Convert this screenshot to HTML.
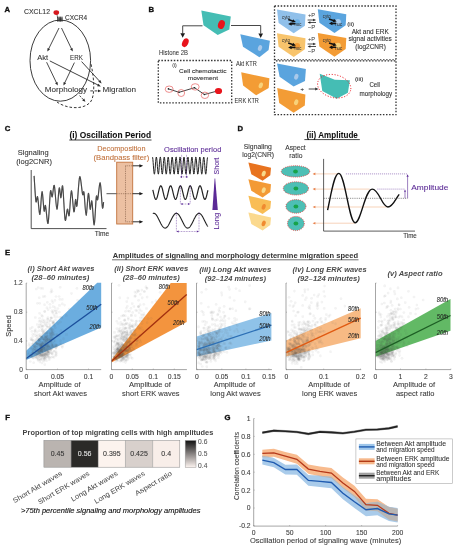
<!DOCTYPE html><html><head><meta charset="utf-8"><style>html,body{margin:0;padding:0;background:#fff;}svg{display:block;will-change:transform;}text{font-family:"Liberation Sans",sans-serif;}</style></head><body>
<svg width="457" height="550" viewBox="0 0 457 550">
<rect width="457" height="550" fill="#fff"/>
<defs><filter id="blr" x="-5%" y="-5%" width="110%" height="110%"><feGaussianBlur stdDeviation="0.7"/></filter></defs>
<text x="4.50" y="12.40" font-size="7.7" fill="#111" font-weight="bold" stroke="#111" stroke-width="0.35">A</text>
<text x="24.00" y="14.00" font-size="7.2" fill="#333" textLength="26.00" lengthAdjust="spacingAndGlyphs" stroke="#333" stroke-width="0.1">CXCL12</text>
<text x="65.00" y="19.80" font-size="7.2" fill="#333" textLength="22.00" lengthAdjust="spacingAndGlyphs" stroke="#333" stroke-width="0.1">CXCR4</text>
<ellipse cx="60.3" cy="60.6" rx="30.3" ry="40.6" fill="none" stroke="#333" stroke-width="0.95"/>
<line x1="56.80" y1="13.00" x2="57.60" y2="18.00" stroke="#333" stroke-width="0.6" />
<ellipse cx="56.3" cy="12.6" rx="2.8" ry="2.3" fill="#d7191f"/>
<line x1="57.80" y1="16.60" x2="57.80" y2="21.80" stroke="#111" stroke-width="0.75" />
<line x1="59.20" y1="16.60" x2="59.20" y2="21.80" stroke="#111" stroke-width="0.75" />
<line x1="60.60" y1="16.60" x2="60.60" y2="21.80" stroke="#111" stroke-width="0.75" />
<line x1="62.00" y1="16.60" x2="62.00" y2="21.80" stroke="#111" stroke-width="0.75" />
<line x1="57.20" y1="18.20" x2="62.60" y2="18.20" stroke="#111" stroke-width="0.6" />
<line x1="57.20" y1="20.00" x2="62.60" y2="20.00" stroke="#111" stroke-width="0.6" />
<text x="37.20" y="59.90" font-size="8" fill="#333" textLength="11.00" lengthAdjust="spacingAndGlyphs" stroke="#333" stroke-width="0.08">Akt</text>
<text x="70.00" y="59.90" font-size="8" fill="#333" textLength="12.80" lengthAdjust="spacingAndGlyphs" stroke="#333" stroke-width="0.08">ERK</text>
<text x="44.70" y="92.30" font-size="8" fill="#333" textLength="42.40" lengthAdjust="spacingAndGlyphs" stroke="#333" stroke-width="0.08">Morphology</text>
<text x="102.50" y="91.80" font-size="8" fill="#333" textLength="33.50" lengthAdjust="spacingAndGlyphs" stroke="#333" stroke-width="0.08">Migration</text>
<line x1="59.00" y1="28.00" x2="48.51" y2="49.16" stroke="#2a2a2a" stroke-width="0.85" />
<polygon points="47.30,51.60 47.56,47.93 50.06,49.18" fill="#2a2a2a" />
<line x1="61.50" y1="28.00" x2="71.63" y2="49.15" stroke="#2a2a2a" stroke-width="0.85" />
<polygon points="72.80,51.60 70.07,49.14 72.59,47.93" fill="#2a2a2a" />
<line x1="46.60" y1="62.20" x2="56.63" y2="83.15" stroke="#2a2a2a" stroke-width="0.85" />
<polygon points="57.80,85.60 55.07,83.14 57.59,81.93" fill="#2a2a2a" />
<line x1="74.40" y1="62.60" x2="64.57" y2="83.15" stroke="#2a2a2a" stroke-width="0.85" />
<polygon points="63.40,85.60 63.60,81.93 66.13,83.14" fill="#2a2a2a" />
<line x1="49.80" y1="60.90" x2="98.37" y2="85.18" stroke="#2a2a2a" stroke-width="0.9" />
<polygon points="100.80,86.40 97.13,86.13 98.39,83.63" fill="#2a2a2a" />
<line x1="81.60" y1="61.60" x2="99.76" y2="81.40" stroke="#2a2a2a" stroke-width="0.9" />
<polygon points="101.60,83.40 98.27,81.84 100.33,79.95" fill="#2a2a2a" />
<path d="M 57 102 C 66 108.5, 83 110.5, 90.5 102 C 95 96, 94.5 80, 91 64" fill="none" stroke="#2a2a2a" stroke-width="0.95" stroke-dasharray="2.6,1.9"/>
<line x1="90.30" y1="90.90" x2="98.64" y2="90.90" stroke="#2a2a2a" stroke-width="0.9" stroke-dasharray="2.8,1.5"/>
<polygon points="101.20,90.90 98.00,92.30 98.00,89.50" fill="#2a2a2a" />
<line x1="79.60" y1="95.60" x2="83.65" y2="99.93" stroke="#2a2a2a" stroke-width="0.85" stroke-dasharray="2.2,1.2"/>
<polygon points="85.40,101.80 82.19,100.42 84.24,98.51" fill="#2a2a2a" />
<text x="148.50" y="12.20" font-size="7.7" fill="#111" font-weight="bold" stroke="#111" stroke-width="0.35">B</text>
<polygon points="201.30,10.50 230.80,16.40 229.30,29.50 217.70,35.00 203.50,25.20" fill="#45bdb4" />
<ellipse cx="221.4" cy="24.5" rx="3.3" ry="4.6" fill="#e8141c" transform="rotate(20 221.4 24.5)"/>
<polyline points="202.50,25.80 182.70,25.80 182.70,33.50" fill="none" stroke="#333" stroke-width="0.9" />
<polygon points="182.70,37.80 180.40,33.20 185.00,33.20" fill="#1a1a1a" />
<polyline points="231.00,25.50 260.70,25.50 260.70,33.50" fill="none" stroke="#333" stroke-width="0.9" />
<polygon points="260.70,38.00 258.40,33.40 263.00,33.40" fill="#1a1a1a" />
<ellipse cx="185.3" cy="42.7" rx="3" ry="4.6" fill="#e8141c" transform="rotate(25 185.3 42.7)"/>
<text x="159.00" y="54.60" font-size="6.4" fill="#333" textLength="29.00" lengthAdjust="spacingAndGlyphs" stroke="#333" stroke-width="0.04">Histone 2B</text>
<polygon points="240.30,34.30 269.90,40.80 268.60,50.00 259.40,57.20 243.00,46.70" fill="#5aa4de" />
<ellipse cx="260" cy="48" rx="2" ry="3" fill="#a9c9ea" transform="rotate(20 260 48)"/>
<text x="235.90" y="65.70" font-size="6.4" fill="#333" textLength="21.00" lengthAdjust="spacingAndGlyphs" stroke="#333" stroke-width="0.04">Akt KTR</text>
<polygon points="241.20,72.30 269.40,78.20 268.70,88.00 256.20,95.30 243.10,85.40" fill="#f39c35" />
<ellipse cx="260.8" cy="85.4" rx="2" ry="3" fill="#f8d27a" transform="rotate(20 260.8 85.4)"/>
<text x="234.60" y="102.70" font-size="6.4" fill="#333" textLength="24.30" lengthAdjust="spacingAndGlyphs" stroke="#333" stroke-width="0.04">ERK KTR</text>
<rect x="158.3" y="60.5" width="73.4" height="42.3" fill="none" stroke="#333" stroke-width="1.3" stroke-dasharray="1.5,1.6"/>
<text x="172.20" y="67.40" font-size="5" fill="#333" stroke="#333" stroke-width="0.05">(i)</text>
<text x="179.00" y="72.70" font-size="6" fill="#333" textLength="47.40" lengthAdjust="spacingAndGlyphs" stroke="#333" stroke-width="0.1">Cell chemotactic</text>
<text x="187.80" y="79.70" font-size="6" fill="#333" textLength="30.20" lengthAdjust="spacingAndGlyphs" stroke="#333" stroke-width="0.1">movement</text>
<polyline points="168.40,88.90 179.10,92.30 194.50,87.70 204.40,94.50 217.40,91.00" fill="none" stroke="#222" stroke-width="0.85" />
<ellipse cx="169.20" cy="89.20" rx="4.00" ry="3.20" fill="none" stroke="#e86a6a" stroke-width="0.75"/>
<ellipse cx="181.20" cy="93.00" rx="3.40" ry="3.50" fill="none" stroke="#e86a6a" stroke-width="0.75"/>
<ellipse cx="195.20" cy="86.90" rx="4.00" ry="3.20" fill="none" stroke="#e86a6a" stroke-width="0.75"/>
<ellipse cx="204.90" cy="95.30" rx="3.70" ry="3.20" fill="none" stroke="#e86a6a" stroke-width="0.75"/>
<circle cx="168.40" cy="88.90" r="0.8" fill="#222"/>
<circle cx="179.10" cy="92.30" r="0.8" fill="#222"/>
<circle cx="194.50" cy="87.70" r="0.8" fill="#222"/>
<circle cx="204.40" cy="94.50" r="0.8" fill="#222"/>
<ellipse cx="218.5" cy="91" rx="3.6" ry="3.1" fill="#e8141c"/>
<rect x="274.5" y="6" width="121.5" height="108.7" fill="none" stroke="#333" stroke-width="1.3" stroke-dasharray="1.5,1.6"/>
<line x1="274.50" y1="59.80" x2="396.00" y2="59.80" stroke="#333" stroke-width="1.1" stroke-dasharray="1.5,1.6"/>
<line x1="276.00" y1="60.90" x2="396.00" y2="60.90" stroke="#333" stroke-width="1.1" stroke-dasharray="1.5,1.6"/>
<polygon points="277.00,9.60 305.50,14.60 304.90,25.70 293.70,33.30 278.60,23.10" fill="#90c0ea" />
<circle cx="297.20" cy="22.20" r="2.9" fill="#6bb0e6"/>
<text x="282.00" y="18.50" font-size="4.6" fill="#3a3a3a" textLength="8.00" lengthAdjust="spacingAndGlyphs" stroke="#3a3a3a" stroke-width="0.02">cyto</text>
<text x="294.40" y="26.20" font-size="4.6" fill="#3a3a3a" textLength="7.00" lengthAdjust="spacingAndGlyphs" stroke="#3a3a3a" stroke-width="0.02">nuc</text>
<line x1="288.20" y1="19.50" x2="293.22" y2="21.15" stroke="#111" stroke-width="1.6" />
<polygon points="295.80,22.00 291.98,22.74 293.16,19.13" fill="#111" />
<line x1="295.40" y1="23.80" x2="290.92" y2="23.86" stroke="#111" stroke-width="1.6" />
<polygon points="288.20,23.90 291.57,21.95 291.63,25.75" fill="#111" />
<polygon points="317.80,9.20 346.30,14.20 345.70,25.30 334.50,32.90 319.40,22.70" fill="#5aa4de" />
<circle cx="338.00" cy="21.80" r="2.9" fill="#a9cdee"/>
<text x="322.80" y="18.10" font-size="4.6" fill="#3a3a3a" textLength="8.00" lengthAdjust="spacingAndGlyphs" stroke="#3a3a3a" stroke-width="0.02">cyto</text>
<text x="335.20" y="25.80" font-size="4.6" fill="#3a3a3a" textLength="7.00" lengthAdjust="spacingAndGlyphs" stroke="#3a3a3a" stroke-width="0.02">nuc</text>
<line x1="329.00" y1="19.10" x2="334.02" y2="20.75" stroke="#111" stroke-width="1.6" />
<polygon points="336.60,21.60 332.78,22.34 333.96,18.73" fill="#111" />
<line x1="336.20" y1="23.40" x2="331.72" y2="23.46" stroke="#111" stroke-width="1.6" />
<polygon points="329.00,23.50 332.37,21.55 332.43,25.35" fill="#111" />
<polygon points="277.00,33.20 305.50,38.20 304.90,49.30 293.70,56.90 278.60,46.70" fill="#f8c46c" />
<circle cx="297.20" cy="45.80" r="2.9" fill="#f39c35"/>
<text x="282.00" y="42.10" font-size="4.6" fill="#3a3a3a" textLength="8.00" lengthAdjust="spacingAndGlyphs" stroke="#3a3a3a" stroke-width="0.02">cyto</text>
<text x="294.40" y="49.80" font-size="4.6" fill="#3a3a3a" textLength="7.00" lengthAdjust="spacingAndGlyphs" stroke="#3a3a3a" stroke-width="0.02">nuc</text>
<line x1="288.20" y1="43.10" x2="293.22" y2="44.75" stroke="#111" stroke-width="1.6" />
<polygon points="295.80,45.60 291.98,46.34 293.16,42.73" fill="#111" />
<line x1="295.40" y1="47.40" x2="290.92" y2="47.46" stroke="#111" stroke-width="1.6" />
<polygon points="288.20,47.50 291.57,45.55 291.63,49.35" fill="#111" />
<polygon points="317.80,33.00 346.30,38.00 345.70,49.10 334.50,56.70 319.40,46.50" fill="#f39c35" />
<circle cx="338.00" cy="45.60" r="2.9" fill="#f8d27a"/>
<text x="322.80" y="41.90" font-size="4.6" fill="#3a3a3a" textLength="8.00" lengthAdjust="spacingAndGlyphs" stroke="#3a3a3a" stroke-width="0.02">cyto</text>
<text x="335.20" y="49.60" font-size="4.6" fill="#3a3a3a" textLength="7.00" lengthAdjust="spacingAndGlyphs" stroke="#3a3a3a" stroke-width="0.02">nuc</text>
<line x1="329.00" y1="42.90" x2="334.02" y2="44.55" stroke="#111" stroke-width="1.6" />
<polygon points="336.60,45.40 332.78,46.14 333.96,42.53" fill="#111" />
<line x1="336.20" y1="47.20" x2="331.72" y2="47.26" stroke="#111" stroke-width="1.6" />
<polygon points="329.00,47.30 332.37,45.35 332.43,49.15" fill="#111" />
<text x="307.90" y="17.20" font-size="5.8" fill="#333" textLength="7.20" lengthAdjust="spacingAndGlyphs">+P</text>
<line x1="307.60" y1="20.00" x2="313.76" y2="20.00" stroke="#222" stroke-width="0.8" />
<polygon points="316.00,20.00 313.20,21.30 313.20,18.70" fill="#222" />
<line x1="316.00" y1="22.50" x2="309.84" y2="22.50" stroke="#222" stroke-width="0.8" />
<polygon points="307.60,22.50 310.40,21.20 310.40,23.80" fill="#222" />
<text x="307.70" y="29.40" font-size="5.8" fill="#333" textLength="7.60" lengthAdjust="spacingAndGlyphs">−P</text>
<text x="307.90" y="41.20" font-size="5.8" fill="#333" textLength="7.20" lengthAdjust="spacingAndGlyphs">+P</text>
<line x1="307.60" y1="44.00" x2="313.76" y2="44.00" stroke="#222" stroke-width="0.8" />
<polygon points="316.00,44.00 313.20,45.30 313.20,42.70" fill="#222" />
<line x1="316.00" y1="46.50" x2="309.84" y2="46.50" stroke="#222" stroke-width="0.8" />
<polygon points="307.60,46.50 310.40,45.20 310.40,47.80" fill="#222" />
<text x="307.70" y="53.40" font-size="5.8" fill="#333" textLength="7.60" lengthAdjust="spacingAndGlyphs">−P</text>
<text x="347.20" y="25.70" font-size="5.6" fill="#333" textLength="7.00" lengthAdjust="spacingAndGlyphs" stroke="#333" stroke-width="0.1">(ii)</text>
<text x="351.70" y="33.50" font-size="6.6" fill="#333" textLength="37.00" lengthAdjust="spacingAndGlyphs" stroke="#333" stroke-width="0.1">Akt and ERK</text>
<text x="348.40" y="41.40" font-size="6.6" fill="#333" textLength="43.30" lengthAdjust="spacingAndGlyphs" stroke="#333" stroke-width="0.1">signal activities</text>
<text x="355.30" y="49.00" font-size="6.6" fill="#333" textLength="30.50" lengthAdjust="spacingAndGlyphs" stroke="#333" stroke-width="0.1">(log2CNR)</text>
<polygon points="277.00,63.60 305.90,68.90 305.00,81.10 293.60,86.60 279.60,76.80" fill="#5aa4de" />
<ellipse cx="296.3" cy="76.8" rx="2" ry="3" fill="#a9c9ea" transform="rotate(20 296.3 76.8)"/>
<polygon points="277.20,88.10 305.40,94.40 304.80,105.60 293.60,112.80 279.20,103.00" fill="#f39c35" />
<ellipse cx="296.2" cy="102.3" rx="2" ry="3" fill="#f8d27a" transform="rotate(20 296.2 102.3)"/>
<text x="302.30" y="91.00" font-size="5.8" fill="#444" text-anchor="middle" stroke="#444" stroke-width="0.15">+</text>
<line x1="308.70" y1="89.00" x2="315.88" y2="89.00" stroke="#333" stroke-width="0.9" />
<polygon points="318.60,89.00 315.20,90.50 315.20,87.50" fill="#333" />
<polygon points="319.70,73.80 334.80,79.70 349.90,80.30 347.90,92.80 336.80,98.70 322.30,90.90" fill="#45bdb4" />
<ellipse cx="334.2" cy="86.2" rx="16.9" ry="11.4" fill="none" stroke="#e8141c" stroke-width="0.9" stroke-dasharray="1.1,1.7" transform="rotate(14 334.2 86.2)"/>
<text x="355.00" y="80.50" font-size="5.6" fill="#333" textLength="8.50" lengthAdjust="spacingAndGlyphs" stroke="#333" stroke-width="0.1">(iii)</text>
<text x="369.40" y="87.00" font-size="6.6" fill="#333" textLength="10.50" lengthAdjust="spacingAndGlyphs" stroke="#333" stroke-width="0.1">Cell</text>
<text x="359.50" y="95.50" font-size="6.6" fill="#333" textLength="32.70" lengthAdjust="spacingAndGlyphs" stroke="#333" stroke-width="0.1">morphology</text>
<text x="4.80" y="130.80" font-size="7.7" fill="#111" font-weight="bold" stroke="#111" stroke-width="0.35">C</text>
<text x="69.50" y="137.90" font-size="8.4" fill="#111" font-weight="bold" textLength="81.50" lengthAdjust="spacingAndGlyphs" stroke="#111" stroke-width="0.05">(i) Oscillation Period</text>
<line x1="69.30" y1="140.00" x2="151.50" y2="140.00" stroke="#111" stroke-width="0.8" />
<text x="17.80" y="155.30" font-size="7" fill="#333" textLength="30.80" lengthAdjust="spacingAndGlyphs" stroke="#333" stroke-width="0.08">Signaling</text>
<text x="16.30" y="164.40" font-size="7" fill="#333" textLength="35.70" lengthAdjust="spacingAndGlyphs" stroke="#333" stroke-width="0.08">(log2CNR)</text>
<text x="97.20" y="151.40" font-size="7" fill="#c0703a" textLength="48.30" lengthAdjust="spacingAndGlyphs" stroke="#c0703a" stroke-width="0.08">Decomposition</text>
<text x="93.50" y="159.60" font-size="7" fill="#c0703a" textLength="55.70" lengthAdjust="spacingAndGlyphs" stroke="#c0703a" stroke-width="0.08">(Bandpass filter)</text>
<text x="164.10" y="152.00" font-size="7" fill="#5b2a96" textLength="57.20" lengthAdjust="spacingAndGlyphs" stroke="#5b2a96" stroke-width="0.08">Oscillation period</text>
<line x1="31.20" y1="170.00" x2="31.20" y2="228.60" stroke="#333" stroke-width="0.85" />
<line x1="31.20" y1="228.60" x2="106.50" y2="228.60" stroke="#333" stroke-width="0.85" />
<text x="94.80" y="236.00" font-size="7" fill="#333" textLength="14.40" lengthAdjust="spacingAndGlyphs" stroke="#333" stroke-width="0.08">Time</text>
<path d="M 34.10 175.90 C 34.40 180.13 35.32 197.80 35.90 201.30 C 36.48 204.80 36.93 194.72 37.60 196.90 C 38.27 199.08 39.17 215.28 39.90 214.40 C 40.63 213.52 41.30 192.18 42.00 191.60 C 42.70 191.02 43.52 208.55 44.10 210.90 C 44.68 213.25 44.83 203.65 45.50 205.70 C 46.17 207.75 47.28 225.55 48.10 223.20 C 48.92 220.85 49.72 195.98 50.40 191.60 C 51.08 187.22 51.55 197.92 52.20 196.90 C 52.85 195.88 53.52 183.45 54.30 185.50 C 55.08 187.55 56.08 208.77 56.90 209.20 C 57.72 209.63 58.53 190.00 59.20 188.10 C 59.87 186.20 60.32 198.08 60.90 197.80 C 61.48 197.52 62.00 182.75 62.70 186.40 C 63.40 190.05 64.32 215.90 65.10 219.70 C 65.88 223.50 66.72 209.93 67.40 209.20 C 68.08 208.47 68.53 218.37 69.20 215.30 C 69.87 212.23 70.62 191.38 71.40 190.80 C 72.18 190.22 73.20 210.35 73.90 211.80 C 74.60 213.25 75.08 200.52 75.60 199.50 C 76.12 198.48 76.32 209.48 77.00 205.70 C 77.68 201.92 78.77 178.70 79.70 176.80 C 80.63 174.90 81.88 191.68 82.60 194.30 C 83.32 196.92 83.42 189.00 84.00 192.50 C 84.58 196.00 85.37 215.15 86.10 215.30 C 86.83 215.45 87.72 194.42 88.40 193.40 C 89.08 192.38 89.62 207.88 90.20 209.20 C 90.78 210.52 91.23 198.68 91.90 201.30 C 92.57 203.92 93.47 225.63 94.20 224.90 C 94.93 224.17 95.72 201.13 96.30 196.90 C 96.88 192.67 97.05 201.83 97.70 199.50 C 98.35 197.17 99.42 181.58 100.20 182.90 C 100.98 184.22 101.83 204.18 102.40 207.40 C 102.97 210.62 103.40 203.07 103.60 202.20 " fill="none" stroke="#2a2a2a" stroke-width="1.15" stroke-linejoin="round"/>
<path d="M 34.10 175.90 C 34.40 180.13 35.32 197.80 35.90 201.30 C 36.48 204.80 36.93 194.72 37.60 196.90 C 38.27 199.08 39.17 215.28 39.90 214.40 C 40.63 213.52 41.30 192.18 42.00 191.60 C 42.70 191.02 43.52 208.55 44.10 210.90 C 44.68 213.25 44.83 203.65 45.50 205.70 C 46.17 207.75 47.28 225.55 48.10 223.20 C 48.92 220.85 49.72 195.98 50.40 191.60 C 51.08 187.22 51.55 197.92 52.20 196.90 C 52.85 195.88 53.52 183.45 54.30 185.50 C 55.08 187.55 56.08 208.77 56.90 209.20 C 57.72 209.63 58.53 190.00 59.20 188.10 C 59.87 186.20 60.32 198.08 60.90 197.80 C 61.48 197.52 62.00 182.75 62.70 186.40 C 63.40 190.05 64.32 215.90 65.10 219.70 C 65.88 223.50 66.72 209.93 67.40 209.20 C 68.08 208.47 68.53 218.37 69.20 215.30 C 69.87 212.23 70.62 191.38 71.40 190.80 C 72.18 190.22 73.20 210.35 73.90 211.80 C 74.60 213.25 75.08 200.52 75.60 199.50 C 76.12 198.48 76.32 209.48 77.00 205.70 C 77.68 201.92 78.77 178.70 79.70 176.80 C 80.63 174.90 81.88 191.68 82.60 194.30 C 83.32 196.92 83.42 189.00 84.00 192.50 C 84.58 196.00 85.37 215.15 86.10 215.30 C 86.83 215.45 87.72 194.42 88.40 193.40 C 89.08 192.38 89.62 207.88 90.20 209.20 C 90.78 210.52 91.23 198.68 91.90 201.30 C 92.57 203.92 93.47 225.63 94.20 224.90 C 94.93 224.17 95.72 201.13 96.30 196.90 C 96.88 192.67 97.05 201.83 97.70 199.50 C 98.35 197.17 99.42 181.58 100.20 182.90 C 100.98 184.22 101.83 204.18 102.40 207.40 C 102.97 210.62 103.40 203.07 103.60 202.20 " fill="none" stroke="#9a9a9a" stroke-width="0.3" stroke-linejoin="round"/>
<rect x="116.7" y="162.2" width="16" height="61.8" fill="#ecc0a2" stroke="#c2733e" stroke-width="0.9"/>
<line x1="106.50" y1="193.70" x2="116.70" y2="193.70" stroke="#444" stroke-width="0.9" />
<line x1="125.50" y1="165.80" x2="125.50" y2="221.80" stroke="#6e4a34" stroke-width="0.6" stroke-dasharray="0.9,0.9"/>
<line x1="125.50" y1="165.80" x2="132.70" y2="165.80" stroke="#6e4a34" stroke-width="0.6" stroke-dasharray="0.9,0.9"/>
<line x1="132.70" y1="165.80" x2="140.16" y2="165.80" stroke="#1a1a1a" stroke-width="0.9" />
<polygon points="143.20,165.80 139.40,167.40 139.40,164.20" fill="#1a1a1a" />
<line x1="117.50" y1="193.70" x2="132.70" y2="193.70" stroke="#6e4a34" stroke-width="0.6" stroke-dasharray="0.9,0.9"/>
<line x1="132.70" y1="193.70" x2="140.16" y2="193.70" stroke="#1a1a1a" stroke-width="0.9" />
<polygon points="143.20,193.70 139.40,195.30 139.40,192.10" fill="#1a1a1a" />
<line x1="125.50" y1="221.80" x2="132.70" y2="221.80" stroke="#6e4a34" stroke-width="0.6" stroke-dasharray="0.9,0.9"/>
<line x1="132.70" y1="221.80" x2="140.16" y2="221.80" stroke="#1a1a1a" stroke-width="0.9" />
<polygon points="143.20,221.80 139.40,223.40 139.40,220.20" fill="#1a1a1a" />
<path d="M 152.40 157.00 L 152.65 157.67 L 152.90 159.59 L 153.15 162.45 L 153.40 165.80 L 153.65 169.12 L 153.90 171.89 L 154.15 173.67 L 154.40 174.19 L 154.65 173.37 L 154.90 171.33 L 155.16 168.39 L 155.41 165.01 L 155.66 161.73 L 155.91 159.05 L 156.16 157.40 L 156.41 157.04 L 156.66 158.01 L 156.91 160.17 L 157.16 163.19 L 157.41 166.58 L 157.66 169.82 L 157.91 172.39 L 158.16 173.91 L 158.41 174.12 L 158.66 173.00 L 158.91 170.72 L 159.16 167.64 L 159.41 164.23 L 159.66 161.05 L 159.91 158.57 L 160.16 157.20 L 160.41 157.14 L 160.66 158.41 L 160.92 160.80 L 161.17 163.95 L 161.42 167.35 L 161.67 170.48 L 161.92 172.84 L 162.17 174.08 L 162.42 173.98 L 162.67 172.57 L 162.92 170.07 L 163.17 166.87 L 163.42 163.47 L 163.67 160.40 L 163.92 158.15 L 164.17 157.07 L 164.42 157.32 L 164.67 158.87 L 164.92 161.47 L 165.17 164.72 L 165.42 168.11 L 165.67 171.10 L 165.92 173.24 L 166.18 174.17 L 166.43 173.77 L 166.68 172.08 L 166.93 169.38 L 167.18 166.09 L 167.43 162.72 L 167.68 159.80 L 167.93 157.79 L 168.18 157.00 L 168.43 157.56 L 168.68 159.38 L 168.93 162.18 L 169.18 165.50 L 169.43 168.85 L 169.68 171.68 L 169.93 173.56 L 170.18 174.20 L 170.43 173.49 L 170.68 171.54 L 170.93 168.66 L 171.18 165.30 L 171.43 161.99 L 171.69 159.25 L 171.94 157.50 L 172.19 157.01 L 172.44 157.88 L 172.69 159.95 L 172.94 162.91 L 173.19 166.29 L 173.44 169.56 L 173.69 172.21 L 173.94 173.83 L 174.19 174.15 L 174.44 173.14 L 174.69 170.95 L 174.94 167.92 L 175.19 164.52 L 175.44 161.30 L 175.69 158.75 L 175.94 157.27 L 176.19 157.09 L 176.44 158.25 L 176.69 160.56 L 176.94 163.66 L 177.19 167.06 L 177.45 170.24 L 177.70 172.68 L 177.95 174.02 L 178.20 174.04 L 178.45 172.74 L 178.70 170.31 L 178.95 167.16 L 179.20 163.75 L 179.45 160.64 L 179.70 158.30 L 179.95 157.11 L 180.20 157.25 L 180.45 158.69 L 180.70 161.22 L 180.95 164.43 L 181.20 167.83 L 181.45 170.88 L 181.70 173.10 L 181.95 174.14 L 182.20 173.85 L 182.45 172.27 L 182.71 169.64 L 182.96 166.38 L 183.21 163.00 L 183.46 160.02 L 183.71 157.92 L 183.96 157.02 L 184.21 157.47 L 184.46 159.18 L 184.71 161.91 L 184.96 165.21 L 185.21 168.57 L 185.46 171.47 L 185.71 173.45 L 185.96 174.20 L 186.21 173.60 L 186.46 171.75 L 186.71 168.93 L 186.96 165.60 L 187.21 162.26 L 187.46 159.45 L 187.71 157.60 L 187.96 157.00 L 188.22 157.75 L 188.47 159.73 L 188.72 162.63 L 188.97 165.99 L 189.22 169.30 L 189.47 172.02 L 189.72 173.74 L 189.97 174.18 L 190.22 173.28 L 190.47 171.18 L 190.72 168.20 L 190.97 164.81 L 191.22 161.55 L 191.47 158.93 L 191.72 157.34 L 191.97 157.06 L 192.22 158.11 L 192.47 160.33 L 192.72 163.38 L 192.97 166.77 L 193.22 169.99 L 193.47 172.51 L 193.72 173.96 L 193.98 174.09 L 194.23 172.89 L 194.48 170.56 L 194.73 167.44 L 194.98 164.04 L 195.23 160.88 L 195.48 158.46 L 195.73 157.16 L 195.98 157.18 L 196.23 158.52 L 196.48 160.97 L 196.73 164.14 L 196.98 167.54 L 197.23 170.64 L 197.48 172.95 L 197.73 174.11 L 197.98 173.93 L 198.23 172.45 L 198.48 169.90 L 198.73 166.67 L 198.98 163.28 L 199.24 160.25 L 199.49 158.05 L 199.74 157.04 L 199.99 157.38 L 200.24 158.99 L 200.49 161.65 L 200.74 164.92 L 200.99 168.30 L 201.24 171.26 L 201.49 173.33 L 201.74 174.19 L 201.99 173.70 L 202.24 171.95 L 202.49 169.20 L 202.74 165.89 L 202.99 162.53 L 203.24 159.66 L 203.49 157.71 L 203.74 157.00 L 203.99 157.64 L 204.24 159.52 L 204.49 162.36 L 204.75 165.70 L 205.00 169.03 L 205.25 171.82 L 205.50 173.64 L 205.75 174.19 L 206.00 173.41 L 206.25 171.39 L 206.50 168.48 L 206.75 165.11 L 207.00 161.81 L 207.25 159.11 L 207.50 157.43" fill="none" stroke="#222" stroke-width="1.0"/>
<path d="M 152.80 189.85 L 153.05 190.88 L 153.30 191.95 L 153.55 193.04 L 153.80 194.12 L 154.05 195.16 L 154.30 196.14 L 154.55 197.02 L 154.80 197.79 L 155.05 198.42 L 155.30 198.91 L 155.56 199.23 L 155.81 199.39 L 156.06 199.37 L 156.31 199.17 L 156.56 198.81 L 156.81 198.28 L 157.06 197.61 L 157.31 196.81 L 157.56 195.90 L 157.81 194.91 L 158.06 193.86 L 158.31 192.77 L 158.56 191.69 L 158.81 190.62 L 159.06 189.61 L 159.31 188.67 L 159.56 187.83 L 159.81 187.12 L 160.06 186.54 L 160.31 186.13 L 160.56 185.88 L 160.81 185.80 L 161.06 185.90 L 161.32 186.17 L 161.57 186.60 L 161.82 187.19 L 162.07 187.92 L 162.32 188.77 L 162.57 189.72 L 162.82 190.74 L 163.07 191.81 L 163.32 192.90 L 163.57 193.98 L 163.82 195.03 L 164.07 196.01 L 164.32 196.91 L 164.57 197.70 L 164.82 198.35 L 165.07 198.86 L 165.32 199.20 L 165.57 199.38 L 165.82 199.38 L 166.07 199.21 L 166.32 198.86 L 166.58 198.36 L 166.83 197.71 L 167.08 196.92 L 167.33 196.03 L 167.58 195.04 L 167.83 194.00 L 168.08 192.91 L 168.33 191.82 L 168.58 190.75 L 168.83 189.73 L 169.08 188.78 L 169.33 187.93 L 169.58 187.20 L 169.83 186.61 L 170.08 186.17 L 170.33 185.90 L 170.58 185.80 L 170.83 185.88 L 171.08 186.12 L 171.33 186.54 L 171.58 187.11 L 171.83 187.82 L 172.09 188.66 L 172.34 189.59 L 172.59 190.61 L 172.84 191.67 L 173.09 192.76 L 173.34 193.85 L 173.59 194.90 L 173.84 195.89 L 174.09 196.80 L 174.34 197.60 L 174.59 198.27 L 174.84 198.80 L 175.09 199.17 L 175.34 199.36 L 175.59 199.39 L 175.84 199.24 L 176.09 198.92 L 176.34 198.43 L 176.59 197.80 L 176.84 197.03 L 177.09 196.15 L 177.34 195.17 L 177.59 194.13 L 177.85 193.06 L 178.10 191.96 L 178.35 190.89 L 178.60 189.86 L 178.85 188.90 L 179.10 188.04 L 179.35 187.29 L 179.60 186.68 L 179.85 186.22 L 180.10 185.93 L 180.35 185.80 L 180.60 185.86 L 180.85 186.08 L 181.10 186.48 L 181.35 187.03 L 181.60 187.72 L 181.85 188.54 L 182.10 189.47 L 182.35 190.47 L 182.60 191.53 L 182.85 192.62 L 183.11 193.71 L 183.36 194.77 L 183.61 195.77 L 183.86 196.69 L 184.11 197.51 L 184.36 198.20 L 184.61 198.74 L 184.86 199.13 L 185.11 199.35 L 185.36 199.40 L 185.61 199.27 L 185.86 198.97 L 186.11 198.50 L 186.36 197.89 L 186.61 197.13 L 186.86 196.27 L 187.11 195.30 L 187.36 194.27 L 187.61 193.20 L 187.86 192.11 L 188.11 191.03 L 188.36 189.99 L 188.62 189.02 L 188.87 188.14 L 189.12 187.38 L 189.37 186.75 L 189.62 186.27 L 189.87 185.95 L 190.12 185.81 L 190.37 185.84 L 190.62 186.04 L 190.87 186.42 L 191.12 186.95 L 191.37 187.63 L 191.62 188.43 L 191.87 189.34 L 192.12 190.34 L 192.37 191.39 L 192.62 192.48 L 192.87 193.57 L 193.12 194.63 L 193.37 195.64 L 193.62 196.58 L 193.87 197.41 L 194.12 198.11 L 194.38 198.68 L 194.63 199.09 L 194.88 199.33 L 195.13 199.40 L 195.38 199.29 L 195.63 199.01 L 195.88 198.57 L 196.13 197.97 L 196.38 197.24 L 196.63 196.38 L 196.88 195.43 L 197.13 194.41 L 197.38 193.34 L 197.63 192.25 L 197.88 191.16 L 198.13 190.12 L 198.38 189.14 L 198.63 188.25 L 198.88 187.47 L 199.13 186.82 L 199.38 186.32 L 199.63 185.99 L 199.89 185.82 L 200.14 185.83 L 200.39 186.01 L 200.64 186.36 L 200.89 186.87 L 201.14 187.53 L 201.39 188.32 L 201.64 189.22 L 201.89 190.21 L 202.14 191.26 L 202.39 192.34 L 202.64 193.43 L 202.89 194.50 L 203.14 195.52 L 203.39 196.46 L 203.64 197.31 L 203.89 198.03 L 204.14 198.62 L 204.39 199.04 L 204.64 199.31 L 204.89 199.40 L 205.15 199.32 L 205.40 199.06 L 205.65 198.64 L 205.90 198.06 L 206.15 197.34 L 206.40 196.50 L 206.65 195.56 L 206.90 194.54 L 207.15 193.48 L 207.40 192.39 L 207.65 191.30 L 207.90 190.25" fill="none" stroke="#222" stroke-width="1.2"/>
<path d="M 152.80 213.58 L 153.05 213.46 L 153.30 213.37 L 153.55 213.32 L 153.80 213.30 L 154.05 213.32 L 154.30 213.37 L 154.55 213.46 L 154.80 213.59 L 155.05 213.75 L 155.30 213.94 L 155.56 214.16 L 155.81 214.42 L 156.06 214.71 L 156.31 215.02 L 156.56 215.37 L 156.81 215.74 L 157.06 216.13 L 157.31 216.55 L 157.56 216.99 L 157.81 217.44 L 158.06 217.91 L 158.31 218.39 L 158.56 218.89 L 158.81 219.39 L 159.06 219.90 L 159.31 220.42 L 159.56 220.93 L 159.81 221.44 L 160.06 221.96 L 160.31 222.46 L 160.56 222.96 L 160.81 223.44 L 161.06 223.91 L 161.32 224.37 L 161.57 224.81 L 161.82 225.22 L 162.07 225.62 L 162.32 225.99 L 162.57 226.34 L 162.82 226.66 L 163.07 226.95 L 163.32 227.21 L 163.57 227.44 L 163.82 227.64 L 164.07 227.80 L 164.32 227.93 L 164.57 228.02 L 164.82 228.08 L 165.07 228.10 L 165.32 228.09 L 165.57 228.04 L 165.82 227.95 L 166.07 227.83 L 166.32 227.68 L 166.58 227.49 L 166.83 227.26 L 167.08 227.01 L 167.33 226.73 L 167.58 226.41 L 167.83 226.07 L 168.08 225.71 L 168.33 225.31 L 168.58 224.90 L 168.83 224.47 L 169.08 224.01 L 169.33 223.55 L 169.58 223.06 L 169.83 222.57 L 170.08 222.07 L 170.33 221.56 L 170.58 221.04 L 170.83 220.53 L 171.08 220.02 L 171.33 219.50 L 171.58 219.00 L 171.83 218.50 L 172.09 218.02 L 172.34 217.54 L 172.59 217.08 L 172.84 216.64 L 173.09 216.22 L 173.34 215.82 L 173.59 215.45 L 173.84 215.10 L 174.09 214.78 L 174.34 214.48 L 174.59 214.22 L 174.84 213.99 L 175.09 213.79 L 175.34 213.62 L 175.59 213.49 L 175.84 213.39 L 176.09 213.33 L 176.34 213.30 L 176.59 213.31 L 176.84 213.36 L 177.09 213.44 L 177.34 213.55 L 177.59 213.70 L 177.85 213.89 L 178.10 214.11 L 178.35 214.36 L 178.60 214.64 L 178.85 214.95 L 179.10 215.29 L 179.35 215.65 L 179.60 216.04 L 179.85 216.45 L 180.10 216.88 L 180.35 217.33 L 180.60 217.80 L 180.85 218.28 L 181.10 218.77 L 181.35 219.27 L 181.60 219.78 L 181.85 220.29 L 182.10 220.81 L 182.35 221.32 L 182.60 221.84 L 182.85 222.34 L 183.11 222.84 L 183.36 223.33 L 183.61 223.80 L 183.86 224.26 L 184.11 224.70 L 184.36 225.13 L 184.61 225.53 L 184.86 225.91 L 185.11 226.26 L 185.36 226.59 L 185.61 226.89 L 185.86 227.15 L 186.11 227.39 L 186.36 227.59 L 186.61 227.76 L 186.86 227.90 L 187.11 228.00 L 187.36 228.07 L 187.61 228.10 L 187.86 228.09 L 188.11 228.05 L 188.36 227.97 L 188.62 227.86 L 188.87 227.71 L 189.12 227.53 L 189.37 227.32 L 189.62 227.07 L 189.87 226.80 L 190.12 226.49 L 190.37 226.16 L 190.62 225.79 L 190.87 225.41 L 191.12 225.00 L 191.37 224.57 L 191.62 224.12 L 191.87 223.66 L 192.12 223.18 L 192.37 222.69 L 192.62 222.19 L 192.87 221.68 L 193.12 221.17 L 193.37 220.65 L 193.62 220.14 L 193.87 219.62 L 194.12 219.12 L 194.38 218.62 L 194.63 218.13 L 194.88 217.65 L 195.13 217.19 L 195.38 216.75 L 195.63 216.32 L 195.88 215.92 L 196.13 215.54 L 196.38 215.18 L 196.63 214.85 L 196.88 214.55 L 197.13 214.28 L 197.38 214.04 L 197.63 213.83 L 197.88 213.65 L 198.13 213.51 L 198.38 213.41 L 198.63 213.34 L 198.88 213.30 L 199.13 213.31 L 199.38 213.34 L 199.63 213.42 L 199.89 213.52 L 200.14 213.67 L 200.39 213.84 L 200.64 214.05 L 200.89 214.30 L 201.14 214.57 L 201.39 214.87 L 201.64 215.20 L 201.89 215.56 L 202.14 215.94 L 202.39 216.35 L 202.64 216.78 L 202.89 217.22 L 203.14 217.69 L 203.39 218.16 L 203.64 218.65 L 203.89 219.15 L 204.14 219.66 L 204.39 220.17 L 204.64 220.69 L 204.89 221.20 L 205.15 221.72 L 205.40 222.22 L 205.65 222.72 L 205.90 223.21 L 206.15 223.69 L 206.40 224.15 L 206.65 224.60 L 206.90 225.03 L 207.15 225.44 L 207.40 225.82 L 207.65 226.18 L 207.90 226.51" fill="none" stroke="#222" stroke-width="1.1"/>
<line x1="181.60" y1="154.90" x2="181.60" y2="176.50" stroke="#5b2a96" stroke-width="0.55" stroke-dasharray="0.8,0.8"/>
<line x1="186.50" y1="154.90" x2="186.50" y2="176.50" stroke="#5b2a96" stroke-width="0.55" stroke-dasharray="0.8,0.8"/>
<polygon points="180.00,176.90 182.00,175.70 182.00,178.10" fill="#5b2a96" />
<polygon points="188.10,176.90 186.10,178.10 186.10,175.70" fill="#5b2a96" />
<line x1="181.60" y1="176.90" x2="186.50" y2="176.90" stroke="#5b2a96" stroke-width="0.55" stroke-dasharray="0.8,0.8"/>
<line x1="180.40" y1="185.00" x2="180.40" y2="204.00" stroke="#5b2a96" stroke-width="0.55" stroke-dasharray="0.8,0.8"/>
<line x1="190.20" y1="185.00" x2="190.20" y2="204.00" stroke="#5b2a96" stroke-width="0.55" stroke-dasharray="0.8,0.8"/>
<line x1="181.90" y1="204.00" x2="188.70" y2="204.00" stroke="#5b2a96" stroke-width="0.55" stroke-dasharray="0.8,0.8"/>
<polygon points="180.40,204.00 182.60,202.90 182.60,205.10" fill="#5b2a96" />
<polygon points="190.20,204.00 188.00,205.10 188.00,202.90" fill="#5b2a96" />
<line x1="176.40" y1="212.00" x2="176.40" y2="231.50" stroke="#5b2a96" stroke-width="0.55" stroke-dasharray="0.8,0.8"/>
<line x1="199.00" y1="212.00" x2="199.00" y2="231.50" stroke="#5b2a96" stroke-width="0.55" stroke-dasharray="0.8,0.8"/>
<line x1="177.90" y1="231.50" x2="197.50" y2="231.50" stroke="#5b2a96" stroke-width="0.55" stroke-dasharray="0.8,0.8"/>
<polygon points="176.40,231.50 178.60,230.40 178.60,232.60" fill="#5b2a96" />
<polygon points="199.00,231.50 196.80,232.60 196.80,230.40" fill="#5b2a96" />
<text x="0.00" y="0.00" font-size="7" fill="#5b2a96" textLength="16.70" lengthAdjust="spacingAndGlyphs" stroke="#5b2a96" stroke-width="0.08" transform="translate(218.6 174.4) rotate(-90)">Short</text>
<text x="0.00" y="0.00" font-size="7" fill="#5b2a96" textLength="16.80" lengthAdjust="spacingAndGlyphs" stroke="#5b2a96" stroke-width="0.08" transform="translate(218.6 229.6) rotate(-90)">Long</text>
<polygon points="214.60,178.40 215.20,178.40 217.80,209.90 212.40,209.90" fill="#5b2a96" />
<text x="237.60" y="130.80" font-size="7.7" fill="#111" font-weight="bold" stroke="#111" stroke-width="0.35">D</text>
<text x="306.40" y="137.90" font-size="8.4" fill="#111" font-weight="bold" textLength="51.50" lengthAdjust="spacingAndGlyphs" stroke="#111" stroke-width="0.05">(ii) Amplitude</text>
<line x1="304.40" y1="139.60" x2="359.80" y2="139.60" stroke="#111" stroke-width="0.8" />
<text x="243.80" y="148.70" font-size="6.8" fill="#333" textLength="28.00" lengthAdjust="spacingAndGlyphs" stroke="#333" stroke-width="0.08">Signaling</text>
<text x="242.20" y="157.40" font-size="6.8" fill="#333" textLength="31.80" lengthAdjust="spacingAndGlyphs" stroke="#333" stroke-width="0.08">log2(CNR)</text>
<text x="285.30" y="150.20" font-size="6.8" fill="#333" textLength="20.40" lengthAdjust="spacingAndGlyphs" stroke="#333" stroke-width="0.08">Aspect</text>
<text x="289.30" y="158.00" font-size="6.8" fill="#333" textLength="13.10" lengthAdjust="spacingAndGlyphs" stroke="#333" stroke-width="0.08">ratio</text>
<polygon points="248.40,162.60 271.00,167.70 270.30,175.30 262.60,180.80 251.30,174.20" fill="#e8731f" />
<ellipse cx="263.7" cy="173.60" rx="1.9" ry="2.9" fill="#f8d98a" transform="rotate(20 263.7 173.60)"/>
<polygon points="248.40,179.20 271.00,184.30 270.30,191.90 262.60,197.40 251.30,190.80" fill="#f39a35" />
<ellipse cx="263.7" cy="190.20" rx="1.9" ry="2.9" fill="#f8d98a" transform="rotate(20 263.7 190.20)"/>
<polygon points="248.40,195.80 271.00,200.90 270.30,208.50 262.60,214.00 251.30,207.40" fill="#f9bd55" />
<ellipse cx="263.7" cy="206.80" rx="1.9" ry="2.9" fill="#f08a30" transform="rotate(20 263.7 206.80)"/>
<polygon points="248.40,212.40 271.00,217.50 270.30,225.10 262.60,230.60 251.30,224.00" fill="#fbd98e" />
<ellipse cx="263.7" cy="223.40" rx="1.9" ry="2.9" fill="#f08a30" transform="rotate(20 263.7 223.40)"/>
<ellipse cx="295.5" cy="171.4" rx="14.2" ry="5.7" fill="#4dbfb5" stroke="#e04444" stroke-width="1.0" stroke-dasharray="0.9,1.1"/>
<ellipse cx="295.5" cy="171.4" rx="2.4" ry="2.0" fill="#17a34a"/>
<ellipse cx="295.9" cy="188.4" rx="12.6" ry="6.6" fill="#4dbfb5" stroke="#e04444" stroke-width="1.0" stroke-dasharray="0.9,1.1"/>
<ellipse cx="295.9" cy="188.4" rx="2.4" ry="2.0" fill="#17a34a"/>
<ellipse cx="295.9" cy="206.4" rx="10" ry="6.8" fill="#4dbfb5" stroke="#e04444" stroke-width="1.0" stroke-dasharray="0.9,1.1"/>
<ellipse cx="295.9" cy="206.4" rx="2.4" ry="2.0" fill="#17a34a"/>
<ellipse cx="295.9" cy="223.5" rx="8.4" ry="7.1" fill="#4dbfb5" stroke="#e04444" stroke-width="1.0" stroke-dasharray="0.9,1.1"/>
<ellipse cx="295.9" cy="223.5" rx="2.4" ry="2.0" fill="#17a34a"/>
<line x1="315.00" y1="173.90" x2="338.00" y2="173.90" stroke="#f3c09c" stroke-width="0.7" />
<polygon points="312.60,173.90 315.40,172.60 315.40,175.20" fill="#e8804a" />
<line x1="315.00" y1="189.10" x2="369.60" y2="189.10" stroke="#f3c09c" stroke-width="0.7" />
<polygon points="312.60,189.10 315.40,187.80 315.40,190.40" fill="#e8804a" />
<line x1="315.00" y1="207.00" x2="386.60" y2="207.00" stroke="#f3c09c" stroke-width="0.7" />
<polygon points="312.60,207.00 315.40,205.70 315.40,208.30" fill="#e8804a" />
<line x1="315.00" y1="223.20" x2="355.00" y2="223.20" stroke="#f3c09c" stroke-width="0.7" />
<polygon points="312.60,223.20 315.40,221.90 315.40,224.50" fill="#e8804a" />
<line x1="323.60" y1="158.90" x2="323.60" y2="231.10" stroke="#333" stroke-width="0.8" />
<line x1="323.60" y1="231.10" x2="415.00" y2="231.10" stroke="#333" stroke-width="0.8" />
<text x="403.20" y="238.40" font-size="6.8" fill="#333" textLength="13.60" lengthAdjust="spacingAndGlyphs" stroke="#333" stroke-width="0.08">Time</text>
<path d="M 327.6 210.1 C 331 195 334 173.4 338.8 173.4 C 345 173.4 349 222.7 355.1 222.7 C 361 222.7 365 189.1 372.2 189.1 C 379 189.1 382 207 387.9 207 C 393 207 396 198 399.2 194.4" fill="none" stroke="#111" stroke-width="1.4"/>
<line x1="345.90" y1="173.90" x2="407.60" y2="173.90" stroke="#5b2a96" stroke-width="0.55" stroke-dasharray="1,1"/>
<line x1="377.40" y1="189.10" x2="405.00" y2="189.10" stroke="#5b2a96" stroke-width="0.55" stroke-dasharray="1,1"/>
<line x1="323.60" y1="198.30" x2="407.60" y2="198.30" stroke="#333" stroke-width="0.55" stroke-dasharray="1.2,1"/>
<line x1="407.60" y1="198.30" x2="407.60" y2="176.22" stroke="#5b2a96" stroke-width="0.6" />
<polygon points="407.60,174.30 408.70,176.70 406.50,176.70" fill="#5b2a96" />
<line x1="405.00" y1="198.30" x2="405.00" y2="191.36" stroke="#5b2a96" stroke-width="0.6" />
<polygon points="405.00,189.60 406.00,191.80 404.00,191.80" fill="#5b2a96" />
<text x="411.30" y="190.20" font-size="7.5" fill="#5b2a96" textLength="37.00" lengthAdjust="spacingAndGlyphs" stroke="#5b2a96" stroke-width="0.08">Amplitude</text>
<text x="4.90" y="254.50" font-size="7.7" fill="#111" font-weight="bold" stroke="#111" stroke-width="0.35">E</text>
<text x="112.80" y="257.70" font-size="7.6" fill="#333" font-weight="bold" textLength="245.20" lengthAdjust="spacingAndGlyphs">Amplitudes of signaling and morphology determine migration speed</text>
<line x1="112.00" y1="259.80" x2="358.50" y2="259.80" stroke="#333" stroke-width="0.7" />
<text x="27.60" y="270.90" font-size="6.3" fill="#4a4a4a" font-weight="bold" font-style="italic" textLength="66.90" lengthAdjust="spacingAndGlyphs">(i) Short Akt waves</text>
<text x="31.50" y="279.50" font-size="6.3" fill="#4a4a4a" font-weight="bold" font-style="italic" textLength="57.70" lengthAdjust="spacingAndGlyphs">(28–60 minutes)</text>
<text x="114.20" y="270.70" font-size="6.3" fill="#4a4a4a" font-weight="bold" font-style="italic" textLength="74.00" lengthAdjust="spacingAndGlyphs">(ii) Short ERK waves</text>
<text x="122.80" y="279.70" font-size="6.3" fill="#4a4a4a" font-weight="bold" font-style="italic" textLength="56.90" lengthAdjust="spacingAndGlyphs">(28–60 minutes)</text>
<text x="199.20" y="271.60" font-size="6.3" fill="#4a4a4a" font-weight="bold" font-style="italic" textLength="72.00" lengthAdjust="spacingAndGlyphs">(iii) Long Akt waves</text>
<text x="204.70" y="280.80" font-size="6.3" fill="#4a4a4a" font-weight="bold" font-style="italic" textLength="61.30" lengthAdjust="spacingAndGlyphs">(92–124 minutes)</text>
<text x="292.60" y="271.60" font-size="6.3" fill="#4a4a4a" font-weight="bold" font-style="italic" textLength="74.00" lengthAdjust="spacingAndGlyphs">(iv) Long ERK waves</text>
<text x="297.50" y="280.80" font-size="6.3" fill="#4a4a4a" font-weight="bold" font-style="italic" textLength="62.40" lengthAdjust="spacingAndGlyphs">(92–124 minutes)</text>
<text x="387.50" y="275.80" font-size="6.3" fill="#4a4a4a" font-weight="bold" font-style="italic" textLength="55.10" lengthAdjust="spacingAndGlyphs">(v) Aspect ratio</text>
<polygon points="26.20,350.80 97.20,282.80 101.20,282.80 101.20,327.60 26.20,360.00" fill="#5ea6dc" fill-opacity="0.92"/>
<g fill="#555" fill-opacity="0.075" filter="url(#blr)"><circle cx="29.2" cy="343.5" r="1.3"/><circle cx="34.4" cy="346.0" r="1.3"/><circle cx="33.1" cy="353.2" r="1.3"/><circle cx="52.4" cy="332.4" r="1.3"/><circle cx="44.7" cy="350.7" r="1.3"/><circle cx="56.3" cy="355.3" r="1.3"/><circle cx="41.7" cy="337.1" r="1.3"/><circle cx="39.0" cy="356.5" r="1.3"/><circle cx="41.9" cy="354.2" r="1.3"/><circle cx="31.4" cy="349.1" r="1.3"/><circle cx="38.6" cy="340.8" r="1.3"/><circle cx="39.3" cy="339.4" r="1.3"/><circle cx="77.0" cy="288.3" r="1.3"/><circle cx="43.4" cy="339.0" r="1.3"/><circle cx="52.0" cy="353.8" r="1.3"/><circle cx="46.6" cy="345.2" r="1.3"/><circle cx="52.9" cy="302.6" r="1.3"/><circle cx="47.7" cy="350.9" r="1.3"/><circle cx="52.0" cy="291.6" r="1.3"/><circle cx="45.7" cy="336.6" r="1.3"/><circle cx="33.7" cy="362.7" r="1.3"/><circle cx="50.5" cy="335.2" r="1.3"/><circle cx="51.3" cy="357.3" r="1.3"/><circle cx="35.5" cy="352.3" r="1.3"/><circle cx="41.4" cy="351.6" r="1.3"/><circle cx="50.4" cy="342.4" r="1.3"/><circle cx="39.8" cy="362.0" r="1.3"/><circle cx="41.4" cy="339.1" r="1.3"/><circle cx="32.3" cy="357.1" r="1.3"/><circle cx="62.3" cy="347.2" r="1.3"/><circle cx="41.3" cy="358.8" r="1.3"/><circle cx="41.8" cy="351.5" r="1.3"/><circle cx="37.5" cy="354.2" r="1.3"/><circle cx="39.0" cy="344.6" r="1.3"/><circle cx="39.7" cy="303.2" r="1.3"/><circle cx="50.4" cy="325.5" r="1.3"/><circle cx="52.6" cy="312.0" r="1.3"/><circle cx="40.8" cy="345.3" r="1.3"/><circle cx="53.9" cy="351.1" r="1.3"/><circle cx="41.5" cy="342.1" r="1.3"/><circle cx="45.4" cy="355.8" r="1.3"/><circle cx="44.9" cy="344.7" r="1.3"/><circle cx="43.2" cy="344.0" r="1.3"/><circle cx="50.6" cy="336.6" r="1.3"/><circle cx="49.8" cy="338.4" r="1.3"/><circle cx="45.9" cy="350.2" r="1.3"/><circle cx="40.3" cy="360.1" r="1.3"/><circle cx="43.8" cy="358.7" r="1.3"/><circle cx="48.6" cy="345.4" r="1.3"/><circle cx="61.9" cy="318.1" r="1.3"/><circle cx="41.8" cy="335.6" r="1.3"/><circle cx="54.0" cy="357.2" r="1.3"/><circle cx="46.9" cy="336.1" r="1.3"/><circle cx="33.2" cy="340.5" r="1.3"/><circle cx="44.9" cy="350.4" r="1.3"/><circle cx="42.7" cy="334.7" r="1.3"/><circle cx="42.0" cy="326.1" r="1.3"/><circle cx="41.8" cy="322.2" r="1.3"/><circle cx="55.9" cy="313.0" r="1.3"/><circle cx="53.5" cy="325.3" r="1.3"/><circle cx="37.6" cy="344.1" r="1.3"/><circle cx="53.3" cy="343.9" r="1.3"/><circle cx="42.0" cy="343.7" r="1.3"/><circle cx="44.6" cy="345.7" r="1.3"/><circle cx="56.3" cy="334.5" r="1.3"/><circle cx="44.7" cy="351.8" r="1.3"/><circle cx="32.1" cy="339.4" r="1.3"/><circle cx="47.4" cy="352.2" r="1.3"/><circle cx="46.5" cy="340.2" r="1.3"/><circle cx="44.5" cy="311.2" r="1.3"/><circle cx="43.1" cy="326.6" r="1.3"/><circle cx="31.7" cy="355.8" r="1.3"/><circle cx="56.6" cy="310.9" r="1.3"/><circle cx="42.7" cy="344.1" r="1.3"/><circle cx="50.4" cy="338.7" r="1.3"/><circle cx="51.3" cy="334.6" r="1.3"/><circle cx="37.0" cy="354.7" r="1.3"/><circle cx="34.5" cy="355.4" r="1.3"/><circle cx="38.4" cy="352.3" r="1.3"/><circle cx="51.5" cy="289.7" r="1.3"/><circle cx="42.3" cy="355.8" r="1.3"/><circle cx="39.7" cy="334.2" r="1.3"/><circle cx="51.0" cy="330.5" r="1.3"/><circle cx="55.6" cy="347.7" r="1.3"/><circle cx="43.2" cy="353.2" r="1.3"/><circle cx="35.1" cy="342.0" r="1.3"/><circle cx="51.4" cy="328.4" r="1.3"/><circle cx="47.9" cy="342.1" r="1.3"/><circle cx="48.6" cy="353.9" r="1.3"/><circle cx="48.2" cy="338.9" r="1.3"/><circle cx="40.0" cy="345.6" r="1.3"/><circle cx="44.8" cy="336.4" r="1.3"/><circle cx="49.6" cy="329.0" r="1.3"/><circle cx="50.1" cy="307.6" r="1.3"/><circle cx="33.0" cy="340.6" r="1.3"/><circle cx="30.7" cy="345.7" r="1.3"/><circle cx="55.2" cy="327.8" r="1.3"/><circle cx="48.1" cy="345.7" r="1.3"/><circle cx="39.2" cy="321.4" r="1.3"/><circle cx="55.9" cy="347.2" r="1.3"/><circle cx="36.3" cy="289.1" r="1.3"/><circle cx="53.0" cy="346.6" r="1.3"/><circle cx="48.6" cy="351.6" r="1.3"/><circle cx="44.9" cy="338.6" r="1.3"/><circle cx="41.9" cy="355.4" r="1.3"/><circle cx="50.3" cy="333.5" r="1.3"/><circle cx="49.6" cy="332.7" r="1.3"/><circle cx="41.5" cy="337.0" r="1.3"/><circle cx="53.4" cy="335.2" r="1.3"/><circle cx="57.9" cy="308.5" r="1.3"/><circle cx="41.0" cy="350.5" r="1.3"/><circle cx="31.0" cy="338.4" r="1.3"/><circle cx="41.5" cy="346.7" r="1.3"/><circle cx="52.5" cy="322.9" r="1.3"/><circle cx="58.0" cy="323.2" r="1.3"/><circle cx="46.8" cy="347.4" r="1.3"/><circle cx="42.3" cy="344.5" r="1.3"/><circle cx="43.3" cy="296.6" r="1.3"/><circle cx="38.4" cy="327.1" r="1.3"/><circle cx="53.7" cy="339.2" r="1.3"/><circle cx="57.3" cy="345.6" r="1.3"/><circle cx="38.9" cy="351.9" r="1.3"/><circle cx="48.8" cy="339.7" r="1.3"/><circle cx="41.6" cy="348.3" r="1.3"/><circle cx="47.9" cy="339.5" r="1.3"/><circle cx="51.7" cy="331.6" r="1.3"/><circle cx="39.8" cy="349.8" r="1.3"/><circle cx="40.4" cy="348.3" r="1.3"/><circle cx="52.3" cy="338.5" r="1.3"/><circle cx="44.5" cy="356.1" r="1.3"/><circle cx="38.3" cy="350.0" r="1.3"/><circle cx="46.3" cy="346.4" r="1.3"/><circle cx="39.0" cy="335.9" r="1.3"/><circle cx="35.4" cy="317.5" r="1.3"/><circle cx="41.3" cy="346.2" r="1.3"/><circle cx="46.5" cy="321.9" r="1.3"/><circle cx="57.0" cy="334.9" r="1.3"/><circle cx="53.4" cy="322.8" r="1.3"/><circle cx="45.6" cy="336.9" r="1.3"/><circle cx="34.8" cy="330.9" r="1.3"/><circle cx="34.0" cy="357.6" r="1.3"/><circle cx="43.8" cy="361.3" r="1.3"/><circle cx="54.3" cy="315.0" r="1.3"/><circle cx="44.0" cy="340.2" r="1.3"/><circle cx="46.3" cy="338.8" r="1.3"/><circle cx="48.8" cy="356.0" r="1.3"/><circle cx="40.2" cy="343.7" r="1.3"/><circle cx="45.1" cy="359.7" r="1.3"/><circle cx="60.2" cy="287.2" r="1.3"/><circle cx="47.5" cy="354.8" r="1.3"/><circle cx="42.3" cy="337.1" r="1.3"/><circle cx="35.3" cy="346.9" r="1.3"/><circle cx="37.6" cy="351.0" r="1.3"/><circle cx="32.1" cy="355.2" r="1.3"/><circle cx="44.2" cy="350.2" r="1.3"/><circle cx="58.0" cy="345.5" r="1.3"/><circle cx="42.5" cy="319.7" r="1.3"/><circle cx="36.7" cy="343.3" r="1.3"/><circle cx="55.8" cy="344.2" r="1.3"/><circle cx="50.9" cy="348.8" r="1.3"/><circle cx="49.7" cy="326.6" r="1.3"/><circle cx="59.3" cy="312.0" r="1.3"/><circle cx="47.1" cy="327.1" r="1.3"/><circle cx="52.0" cy="336.9" r="1.3"/><circle cx="49.6" cy="346.4" r="1.3"/><circle cx="41.0" cy="337.4" r="1.3"/><circle cx="47.3" cy="302.3" r="1.3"/><circle cx="36.8" cy="336.2" r="1.3"/><circle cx="52.1" cy="348.6" r="1.3"/><circle cx="47.0" cy="323.5" r="1.3"/><circle cx="33.9" cy="353.2" r="1.3"/><circle cx="40.5" cy="352.6" r="1.3"/><circle cx="39.8" cy="354.4" r="1.3"/><circle cx="48.6" cy="349.6" r="1.3"/><circle cx="52.2" cy="343.8" r="1.3"/><circle cx="33.1" cy="352.5" r="1.3"/><circle cx="44.3" cy="355.4" r="1.3"/><circle cx="47.2" cy="350.1" r="1.3"/><circle cx="60.4" cy="344.5" r="1.3"/><circle cx="34.3" cy="346.8" r="1.3"/><circle cx="40.6" cy="354.5" r="1.3"/><circle cx="41.7" cy="349.3" r="1.3"/><circle cx="47.0" cy="351.2" r="1.3"/><circle cx="46.6" cy="360.7" r="1.3"/><circle cx="51.5" cy="344.8" r="1.3"/><circle cx="55.4" cy="355.6" r="1.3"/><circle cx="46.5" cy="353.8" r="1.3"/><circle cx="48.3" cy="345.4" r="1.3"/><circle cx="53.8" cy="341.8" r="1.3"/><circle cx="55.5" cy="345.2" r="1.3"/><circle cx="51.8" cy="345.1" r="1.3"/><circle cx="43.9" cy="347.8" r="1.3"/><circle cx="49.0" cy="347.2" r="1.3"/><circle cx="39.6" cy="339.1" r="1.3"/><circle cx="33.6" cy="345.6" r="1.3"/><circle cx="60.7" cy="343.9" r="1.3"/><circle cx="46.2" cy="336.6" r="1.3"/><circle cx="51.9" cy="310.9" r="1.3"/><circle cx="41.3" cy="354.9" r="1.3"/><circle cx="35.8" cy="339.6" r="1.3"/><circle cx="48.3" cy="336.4" r="1.3"/><circle cx="45.5" cy="357.3" r="1.3"/><circle cx="40.9" cy="346.3" r="1.3"/><circle cx="46.5" cy="344.4" r="1.3"/><circle cx="35.3" cy="335.7" r="1.3"/><circle cx="38.3" cy="349.4" r="1.3"/><circle cx="42.2" cy="342.8" r="1.3"/><circle cx="49.2" cy="359.7" r="1.3"/><circle cx="45.2" cy="337.3" r="1.3"/><circle cx="42.4" cy="354.5" r="1.3"/><circle cx="31.6" cy="340.0" r="1.3"/><circle cx="32.4" cy="348.5" r="1.3"/><circle cx="42.4" cy="316.2" r="1.3"/><circle cx="43.1" cy="354.3" r="1.3"/><circle cx="35.0" cy="354.0" r="1.3"/><circle cx="41.4" cy="344.7" r="1.3"/><circle cx="43.3" cy="360.3" r="1.3"/><circle cx="38.1" cy="360.5" r="1.3"/><circle cx="44.5" cy="339.2" r="1.3"/><circle cx="41.7" cy="346.0" r="1.3"/><circle cx="39.5" cy="350.7" r="1.3"/><circle cx="69.1" cy="309.1" r="1.3"/><circle cx="45.0" cy="344.1" r="1.3"/><circle cx="30.4" cy="355.4" r="1.3"/><circle cx="49.4" cy="324.0" r="1.3"/><circle cx="38.4" cy="352.0" r="1.3"/><circle cx="45.6" cy="353.1" r="1.3"/><circle cx="32.2" cy="327.3" r="1.3"/><circle cx="49.3" cy="349.1" r="1.3"/><circle cx="48.5" cy="321.8" r="1.3"/><circle cx="35.2" cy="343.2" r="1.3"/><circle cx="42.7" cy="288.4" r="1.3"/><circle cx="31.2" cy="354.2" r="1.3"/><circle cx="49.8" cy="358.1" r="1.3"/><circle cx="60.3" cy="322.0" r="1.3"/><circle cx="41.3" cy="349.5" r="1.3"/><circle cx="44.0" cy="358.0" r="1.3"/><circle cx="44.3" cy="340.4" r="1.3"/><circle cx="51.9" cy="348.9" r="1.3"/><circle cx="33.0" cy="343.9" r="1.3"/><circle cx="52.1" cy="333.5" r="1.3"/><circle cx="39.5" cy="318.2" r="1.3"/><circle cx="55.5" cy="319.7" r="1.3"/><circle cx="44.9" cy="296.4" r="1.3"/><circle cx="48.1" cy="331.2" r="1.3"/><circle cx="49.6" cy="352.6" r="1.3"/><circle cx="50.9" cy="292.1" r="1.3"/><circle cx="37.3" cy="354.4" r="1.3"/><circle cx="62.3" cy="299.4" r="1.3"/><circle cx="35.2" cy="350.3" r="1.3"/><circle cx="48.0" cy="355.0" r="1.3"/><circle cx="45.8" cy="341.4" r="1.3"/><circle cx="43.1" cy="357.1" r="1.3"/><circle cx="40.3" cy="347.8" r="1.3"/><circle cx="43.9" cy="355.2" r="1.3"/><circle cx="41.9" cy="350.8" r="1.3"/><circle cx="47.2" cy="339.1" r="1.3"/><circle cx="52.6" cy="346.8" r="1.3"/><circle cx="43.8" cy="347.0" r="1.3"/><circle cx="54.9" cy="300.4" r="1.3"/><circle cx="38.3" cy="343.9" r="1.3"/><circle cx="35.5" cy="357.3" r="1.3"/><circle cx="44.4" cy="323.1" r="1.3"/><circle cx="44.6" cy="356.5" r="1.3"/><circle cx="47.2" cy="348.8" r="1.3"/><circle cx="50.4" cy="339.5" r="1.3"/><circle cx="50.7" cy="349.6" r="1.3"/><circle cx="45.9" cy="351.5" r="1.3"/><circle cx="53.0" cy="329.5" r="1.3"/><circle cx="52.7" cy="338.5" r="1.3"/><circle cx="51.9" cy="344.8" r="1.3"/><circle cx="43.3" cy="332.8" r="1.3"/><circle cx="45.5" cy="346.9" r="1.3"/><circle cx="50.1" cy="333.4" r="1.3"/><circle cx="50.8" cy="350.6" r="1.3"/><circle cx="41.4" cy="351.9" r="1.3"/><circle cx="32.5" cy="351.9" r="1.3"/><circle cx="41.5" cy="347.8" r="1.3"/><circle cx="46.8" cy="326.0" r="1.3"/><circle cx="41.6" cy="346.3" r="1.3"/><circle cx="43.1" cy="343.0" r="1.3"/><circle cx="42.8" cy="344.7" r="1.3"/><circle cx="42.0" cy="347.2" r="1.3"/><circle cx="40.3" cy="346.0" r="1.3"/><circle cx="41.2" cy="350.2" r="1.3"/><circle cx="37.4" cy="303.3" r="1.3"/><circle cx="43.8" cy="348.7" r="1.3"/><circle cx="49.1" cy="357.2" r="1.3"/><circle cx="48.8" cy="340.2" r="1.3"/><circle cx="44.7" cy="324.7" r="1.3"/><circle cx="43.7" cy="354.1" r="1.3"/><circle cx="56.1" cy="351.8" r="1.3"/><circle cx="33.6" cy="347.1" r="1.3"/><circle cx="49.7" cy="327.8" r="1.3"/><circle cx="41.5" cy="350.4" r="1.3"/><circle cx="37.2" cy="338.1" r="1.3"/><circle cx="41.0" cy="324.5" r="1.3"/><circle cx="38.4" cy="359.2" r="1.3"/><circle cx="50.4" cy="341.7" r="1.3"/><circle cx="46.7" cy="337.6" r="1.3"/><circle cx="51.1" cy="346.9" r="1.3"/><circle cx="41.7" cy="315.4" r="1.3"/><circle cx="50.3" cy="350.0" r="1.3"/><circle cx="38.2" cy="287.5" r="1.3"/><circle cx="54.1" cy="338.2" r="1.3"/><circle cx="45.6" cy="341.8" r="1.3"/><circle cx="33.5" cy="349.7" r="1.3"/><circle cx="47.9" cy="348.7" r="1.3"/><circle cx="56.1" cy="353.7" r="1.3"/><circle cx="47.8" cy="352.1" r="1.3"/><circle cx="39.0" cy="341.7" r="1.3"/><circle cx="66.4" cy="315.4" r="1.3"/><circle cx="53.8" cy="346.8" r="1.3"/><circle cx="46.0" cy="349.6" r="1.3"/><circle cx="46.3" cy="340.1" r="1.3"/><circle cx="45.5" cy="343.9" r="1.3"/><circle cx="56.2" cy="353.0" r="1.3"/><circle cx="41.1" cy="344.8" r="1.3"/><circle cx="38.4" cy="338.4" r="1.3"/><circle cx="52.3" cy="329.5" r="1.3"/><circle cx="47.4" cy="349.2" r="1.3"/><circle cx="48.0" cy="347.0" r="1.3"/><circle cx="37.0" cy="350.5" r="1.3"/><circle cx="55.2" cy="341.0" r="1.3"/><circle cx="49.5" cy="353.2" r="1.3"/><circle cx="35.4" cy="349.0" r="1.3"/><circle cx="45.9" cy="329.4" r="1.3"/><circle cx="56.3" cy="345.4" r="1.3"/><circle cx="40.6" cy="327.1" r="1.3"/><circle cx="51.1" cy="339.9" r="1.3"/><circle cx="30.3" cy="347.9" r="1.3"/><circle cx="52.1" cy="352.3" r="1.3"/><circle cx="48.1" cy="309.7" r="1.3"/><circle cx="42.7" cy="339.2" r="1.3"/><circle cx="45.9" cy="358.2" r="1.3"/><circle cx="41.8" cy="345.8" r="1.3"/><circle cx="40.0" cy="336.1" r="1.3"/><circle cx="38.7" cy="352.3" r="1.3"/><circle cx="54.4" cy="351.3" r="1.3"/><circle cx="50.1" cy="334.8" r="1.3"/><circle cx="49.4" cy="337.3" r="1.3"/><circle cx="46.7" cy="341.6" r="1.3"/><circle cx="53.8" cy="334.5" r="1.3"/><circle cx="59.5" cy="305.4" r="1.3"/><circle cx="41.3" cy="352.1" r="1.3"/><circle cx="52.9" cy="313.1" r="1.3"/><circle cx="40.9" cy="348.9" r="1.3"/><circle cx="45.2" cy="354.8" r="1.3"/><circle cx="60.6" cy="340.8" r="1.3"/><circle cx="44.9" cy="349.2" r="1.3"/><circle cx="55.3" cy="310.8" r="1.3"/><circle cx="42.0" cy="330.6" r="1.3"/><circle cx="56.3" cy="346.2" r="1.3"/><circle cx="39.1" cy="351.5" r="1.3"/><circle cx="52.7" cy="321.5" r="1.3"/><circle cx="39.5" cy="344.1" r="1.3"/><circle cx="47.5" cy="319.2" r="1.3"/><circle cx="52.8" cy="334.7" r="1.3"/><circle cx="42.2" cy="358.3" r="1.3"/><circle cx="47.1" cy="338.5" r="1.3"/><circle cx="36.4" cy="347.1" r="1.3"/><circle cx="35.7" cy="342.5" r="1.3"/><circle cx="45.1" cy="345.3" r="1.3"/><circle cx="46.9" cy="307.9" r="1.3"/><circle cx="62.1" cy="346.2" r="1.3"/><circle cx="35.1" cy="346.2" r="1.3"/><circle cx="37.3" cy="354.7" r="1.3"/><circle cx="42.9" cy="350.6" r="1.3"/><circle cx="42.4" cy="348.6" r="1.3"/><circle cx="38.4" cy="350.7" r="1.3"/><circle cx="51.7" cy="318.0" r="1.3"/><circle cx="43.3" cy="342.6" r="1.3"/><circle cx="44.9" cy="311.7" r="1.3"/><circle cx="40.0" cy="340.0" r="1.3"/><circle cx="46.8" cy="333.4" r="1.3"/><circle cx="49.4" cy="340.0" r="1.3"/><circle cx="47.7" cy="343.7" r="1.3"/><circle cx="52.0" cy="337.0" r="1.3"/><circle cx="32.0" cy="354.6" r="1.3"/><circle cx="48.2" cy="327.1" r="1.3"/><circle cx="45.1" cy="350.6" r="1.3"/><circle cx="52.4" cy="346.4" r="1.3"/><circle cx="31.9" cy="331.4" r="1.3"/><circle cx="42.4" cy="354.1" r="1.3"/><circle cx="36.8" cy="347.0" r="1.3"/><circle cx="42.9" cy="350.5" r="1.3"/><circle cx="39.6" cy="313.2" r="1.3"/><circle cx="47.1" cy="333.0" r="1.3"/><circle cx="47.7" cy="351.4" r="1.3"/><circle cx="39.1" cy="339.9" r="1.3"/><circle cx="55.3" cy="345.9" r="1.3"/><circle cx="41.6" cy="355.8" r="1.3"/><circle cx="51.7" cy="330.0" r="1.3"/><circle cx="36.5" cy="357.6" r="1.3"/><circle cx="43.7" cy="352.6" r="1.3"/><circle cx="44.9" cy="334.0" r="1.3"/><circle cx="32.0" cy="355.9" r="1.3"/><circle cx="41.9" cy="363.0" r="1.3"/><circle cx="37.6" cy="356.1" r="1.3"/><circle cx="44.6" cy="348.0" r="1.3"/><circle cx="41.8" cy="356.9" r="1.3"/><circle cx="28.0" cy="354.2" r="1.3"/><circle cx="33.2" cy="358.1" r="1.3"/><circle cx="51.5" cy="341.9" r="1.3"/><circle cx="51.1" cy="340.5" r="1.3"/><circle cx="51.9" cy="332.1" r="1.3"/><circle cx="40.5" cy="321.1" r="1.3"/><circle cx="37.2" cy="331.7" r="1.3"/><circle cx="39.6" cy="354.6" r="1.3"/><circle cx="46.3" cy="345.7" r="1.3"/><circle cx="36.7" cy="353.5" r="1.3"/><circle cx="53.2" cy="346.6" r="1.3"/><circle cx="50.7" cy="328.2" r="1.3"/><circle cx="39.2" cy="352.8" r="1.3"/><circle cx="46.1" cy="351.8" r="1.3"/><circle cx="31.0" cy="356.8" r="1.3"/><circle cx="44.8" cy="339.9" r="1.3"/><circle cx="46.9" cy="352.9" r="1.3"/><circle cx="43.5" cy="321.7" r="1.3"/><circle cx="38.5" cy="359.5" r="1.3"/><circle cx="45.2" cy="353.6" r="1.3"/><circle cx="43.8" cy="331.6" r="1.3"/><circle cx="43.0" cy="349.5" r="1.3"/><circle cx="40.3" cy="353.7" r="1.3"/><circle cx="35.3" cy="352.7" r="1.3"/><circle cx="40.3" cy="352.0" r="1.3"/><circle cx="43.6" cy="332.6" r="1.3"/><circle cx="40.0" cy="358.4" r="1.3"/><circle cx="33.0" cy="353.0" r="1.3"/><circle cx="40.5" cy="355.7" r="1.3"/><circle cx="43.2" cy="353.0" r="1.3"/><circle cx="32.7" cy="336.8" r="1.3"/><circle cx="49.9" cy="304.2" r="1.3"/><circle cx="53.2" cy="323.2" r="1.3"/><circle cx="59.2" cy="335.7" r="1.3"/><circle cx="40.2" cy="351.3" r="1.3"/><circle cx="41.2" cy="348.3" r="1.3"/><circle cx="39.2" cy="352.6" r="1.3"/><circle cx="45.7" cy="354.4" r="1.3"/><circle cx="48.3" cy="351.0" r="1.3"/><circle cx="46.7" cy="354.1" r="1.3"/><circle cx="48.1" cy="351.7" r="1.3"/><circle cx="34.5" cy="334.0" r="1.3"/><circle cx="36.7" cy="358.5" r="1.3"/><circle cx="39.6" cy="356.5" r="1.3"/><circle cx="37.0" cy="343.0" r="1.3"/><circle cx="42.4" cy="351.1" r="1.3"/><circle cx="49.0" cy="346.7" r="1.3"/><circle cx="40.1" cy="349.8" r="1.3"/><circle cx="30.9" cy="339.7" r="1.3"/><circle cx="29.0" cy="345.2" r="1.3"/><circle cx="38.9" cy="326.9" r="1.3"/><circle cx="38.4" cy="349.5" r="1.3"/><circle cx="53.4" cy="323.2" r="1.3"/><circle cx="54.6" cy="316.7" r="1.3"/><circle cx="41.3" cy="348.4" r="1.3"/><circle cx="59.1" cy="296.5" r="1.3"/><circle cx="40.0" cy="350.3" r="1.3"/><circle cx="35.4" cy="356.1" r="1.3"/><circle cx="33.0" cy="352.5" r="1.3"/><circle cx="37.6" cy="339.7" r="1.3"/><circle cx="54.8" cy="325.7" r="1.3"/><circle cx="46.8" cy="347.6" r="1.3"/><circle cx="41.8" cy="328.8" r="1.3"/><circle cx="56.0" cy="296.5" r="1.3"/><circle cx="35.4" cy="340.7" r="1.3"/><circle cx="40.3" cy="355.1" r="1.3"/><circle cx="44.2" cy="347.0" r="1.3"/><circle cx="45.8" cy="354.2" r="1.3"/><circle cx="43.6" cy="355.2" r="1.3"/><circle cx="40.6" cy="353.6" r="1.3"/><circle cx="44.3" cy="342.3" r="1.3"/><circle cx="49.9" cy="348.9" r="1.3"/><circle cx="41.0" cy="359.9" r="1.3"/><circle cx="37.0" cy="334.8" r="1.3"/><circle cx="40.9" cy="349.0" r="1.3"/><circle cx="43.2" cy="343.1" r="1.3"/><circle cx="39.7" cy="324.6" r="1.3"/><circle cx="35.4" cy="329.9" r="1.3"/><circle cx="52.4" cy="332.9" r="1.3"/><circle cx="45.6" cy="340.9" r="1.3"/><circle cx="29.1" cy="352.9" r="1.3"/><circle cx="64.6" cy="305.1" r="1.3"/><circle cx="38.5" cy="344.9" r="1.3"/><circle cx="53.9" cy="310.5" r="1.3"/><circle cx="47.2" cy="336.6" r="1.3"/><circle cx="39.9" cy="340.0" r="1.3"/><circle cx="40.8" cy="355.5" r="1.3"/><circle cx="37.3" cy="344.0" r="1.3"/><circle cx="46.1" cy="344.2" r="1.3"/><circle cx="35.5" cy="354.4" r="1.3"/><circle cx="54.0" cy="331.6" r="1.3"/><circle cx="32.6" cy="334.4" r="1.3"/><circle cx="42.9" cy="355.7" r="1.3"/><circle cx="50.9" cy="318.0" r="1.3"/><circle cx="40.9" cy="355.4" r="1.3"/><circle cx="50.1" cy="347.3" r="1.3"/><circle cx="43.2" cy="355.5" r="1.3"/><circle cx="42.6" cy="350.4" r="1.3"/><circle cx="45.2" cy="354.1" r="1.3"/><circle cx="44.1" cy="359.0" r="1.3"/><circle cx="62.3" cy="303.9" r="1.3"/><circle cx="33.0" cy="349.3" r="1.3"/><circle cx="50.6" cy="350.1" r="1.3"/><circle cx="40.8" cy="336.2" r="1.3"/><circle cx="71.5" cy="293.6" r="1.3"/><circle cx="48.5" cy="341.6" r="1.3"/><circle cx="45.4" cy="354.0" r="1.3"/><circle cx="46.5" cy="356.2" r="1.3"/><circle cx="42.8" cy="338.4" r="1.3"/><circle cx="44.7" cy="364.6" r="1.3"/><circle cx="30.5" cy="355.8" r="1.3"/><circle cx="46.1" cy="325.1" r="1.3"/><circle cx="53.4" cy="321.5" r="1.3"/><circle cx="77.6" cy="300.2" r="1.3"/><circle cx="41.5" cy="345.5" r="1.3"/><circle cx="61.5" cy="317.0" r="1.3"/><circle cx="37.4" cy="354.7" r="1.3"/><circle cx="47.5" cy="334.8" r="1.3"/><circle cx="41.2" cy="342.4" r="1.3"/><circle cx="47.9" cy="319.1" r="1.3"/><circle cx="42.3" cy="347.5" r="1.3"/><circle cx="35.0" cy="331.7" r="1.3"/><circle cx="44.4" cy="354.8" r="1.3"/><circle cx="41.8" cy="349.8" r="1.3"/><circle cx="38.7" cy="347.1" r="1.3"/><circle cx="48.3" cy="343.0" r="1.3"/><circle cx="42.6" cy="329.2" r="1.3"/><circle cx="47.8" cy="354.8" r="1.3"/><circle cx="55.1" cy="307.8" r="1.3"/><circle cx="48.1" cy="339.4" r="1.3"/><circle cx="51.3" cy="336.4" r="1.3"/><circle cx="30.2" cy="361.5" r="1.3"/><circle cx="37.7" cy="351.8" r="1.3"/><circle cx="47.1" cy="345.2" r="1.3"/><circle cx="56.7" cy="313.3" r="1.3"/><circle cx="40.6" cy="344.2" r="1.3"/><circle cx="44.4" cy="320.5" r="1.3"/><circle cx="38.8" cy="340.4" r="1.3"/><circle cx="35.4" cy="349.9" r="1.3"/><circle cx="53.0" cy="345.7" r="1.3"/><circle cx="35.8" cy="344.0" r="1.3"/><circle cx="57.0" cy="316.9" r="1.3"/><circle cx="53.6" cy="333.9" r="1.3"/><circle cx="66.5" cy="334.5" r="1.3"/><circle cx="44.8" cy="353.0" r="1.3"/><circle cx="57.4" cy="335.9" r="1.3"/><circle cx="47.7" cy="352.1" r="1.3"/><circle cx="44.5" cy="348.5" r="1.3"/><circle cx="46.8" cy="341.8" r="1.3"/><circle cx="40.7" cy="350.3" r="1.3"/><circle cx="45.8" cy="338.5" r="1.3"/><circle cx="45.8" cy="345.8" r="1.3"/><circle cx="30.3" cy="328.6" r="1.3"/><circle cx="51.3" cy="333.7" r="1.3"/><circle cx="46.8" cy="355.9" r="1.3"/><circle cx="50.5" cy="320.4" r="1.3"/><circle cx="32.6" cy="357.8" r="1.3"/><circle cx="46.8" cy="339.6" r="1.3"/><circle cx="59.9" cy="299.4" r="1.3"/><circle cx="47.9" cy="317.5" r="1.3"/><circle cx="43.9" cy="338.4" r="1.3"/><circle cx="38.9" cy="354.6" r="1.3"/><circle cx="34.5" cy="348.1" r="1.3"/><circle cx="48.3" cy="357.3" r="1.3"/><circle cx="45.6" cy="347.7" r="1.3"/><circle cx="44.5" cy="304.7" r="1.3"/><circle cx="51.2" cy="353.1" r="1.3"/><circle cx="41.7" cy="337.3" r="1.3"/><circle cx="48.5" cy="352.3" r="1.3"/><circle cx="45.9" cy="344.0" r="1.3"/><circle cx="41.2" cy="347.2" r="1.3"/><circle cx="41.1" cy="350.5" r="1.3"/><circle cx="48.0" cy="347.0" r="1.3"/><circle cx="49.3" cy="345.1" r="1.3"/><circle cx="39.3" cy="330.7" r="1.3"/><circle cx="37.0" cy="357.1" r="1.3"/><circle cx="48.4" cy="346.2" r="1.3"/><circle cx="42.8" cy="333.7" r="1.3"/><circle cx="52.3" cy="353.9" r="1.3"/><circle cx="37.1" cy="353.6" r="1.3"/><circle cx="53.7" cy="322.0" r="1.3"/><circle cx="55.8" cy="348.6" r="1.3"/><circle cx="37.6" cy="357.8" r="1.3"/><circle cx="42.4" cy="331.3" r="1.3"/><circle cx="51.2" cy="317.6" r="1.3"/><circle cx="38.0" cy="340.6" r="1.3"/><circle cx="39.3" cy="351.6" r="1.3"/><circle cx="63.5" cy="338.9" r="1.3"/><circle cx="39.2" cy="297.8" r="1.3"/><circle cx="37.3" cy="324.5" r="1.3"/><circle cx="35.4" cy="356.6" r="1.3"/><circle cx="49.3" cy="351.8" r="1.3"/><circle cx="39.5" cy="354.4" r="1.3"/><circle cx="42.7" cy="346.9" r="1.3"/><circle cx="36.6" cy="350.1" r="1.3"/><circle cx="45.7" cy="342.5" r="1.3"/><circle cx="46.5" cy="332.2" r="1.3"/><circle cx="56.5" cy="346.9" r="1.3"/><circle cx="53.3" cy="306.6" r="1.3"/><circle cx="34.9" cy="348.6" r="1.3"/><circle cx="42.7" cy="352.3" r="1.3"/><circle cx="49.8" cy="348.5" r="1.3"/><circle cx="47.7" cy="356.7" r="1.3"/><circle cx="43.1" cy="348.4" r="1.3"/><circle cx="47.3" cy="348.7" r="1.3"/><circle cx="36.3" cy="345.2" r="1.3"/><circle cx="60.9" cy="330.9" r="1.3"/><circle cx="48.9" cy="353.4" r="1.3"/><circle cx="33.0" cy="343.2" r="1.3"/><circle cx="51.9" cy="300.8" r="1.3"/><circle cx="45.7" cy="349.2" r="1.3"/><circle cx="50.7" cy="340.4" r="1.3"/><circle cx="44.9" cy="358.2" r="1.3"/><circle cx="41.0" cy="288.2" r="1.3"/><circle cx="39.1" cy="356.8" r="1.3"/><circle cx="52.8" cy="356.9" r="1.3"/><circle cx="33.2" cy="350.5" r="1.3"/><circle cx="59.7" cy="317.3" r="1.3"/><circle cx="49.1" cy="342.9" r="1.3"/><circle cx="42.0" cy="348.2" r="1.3"/><circle cx="36.1" cy="351.0" r="1.3"/><circle cx="36.3" cy="351.1" r="1.3"/><circle cx="42.3" cy="355.1" r="1.3"/><circle cx="37.2" cy="343.0" r="1.3"/><circle cx="46.8" cy="354.6" r="1.3"/><circle cx="37.8" cy="350.8" r="1.3"/><circle cx="45.1" cy="333.4" r="1.3"/><circle cx="43.7" cy="348.0" r="1.3"/><circle cx="50.8" cy="340.6" r="1.3"/><circle cx="40.3" cy="344.0" r="1.3"/><circle cx="39.2" cy="339.0" r="1.3"/><circle cx="32.3" cy="344.6" r="1.3"/><circle cx="45.0" cy="357.4" r="1.3"/><circle cx="44.0" cy="348.1" r="1.3"/><circle cx="42.6" cy="326.0" r="1.3"/><circle cx="63.4" cy="344.1" r="1.3"/><circle cx="44.2" cy="330.6" r="1.3"/><circle cx="50.1" cy="320.5" r="1.3"/></g>
<polyline points="26.20,358.50 101.20,304.20" fill="none" stroke="#1b4f9c" stroke-width="1.35" />
<line x1="26.20" y1="283.00" x2="26.20" y2="369.60" stroke="#808080" stroke-width="0.7" />
<line x1="26.20" y1="369.60" x2="101.20" y2="369.60" stroke="#808080" stroke-width="0.7" />
<line x1="26.40" y1="369.60" x2="26.40" y2="368.60" stroke="#808080" stroke-width="0.5" />
<text x="26.40" y="378.60" font-size="6.8" fill="#3a3a3a" text-anchor="middle" stroke="#3a3a3a" stroke-width="0.08">0</text>
<line x1="57.50" y1="369.60" x2="57.50" y2="368.60" stroke="#808080" stroke-width="0.5" />
<text x="57.50" y="378.60" font-size="6.8" fill="#3a3a3a" text-anchor="middle" stroke="#3a3a3a" stroke-width="0.08">0.05</text>
<line x1="88.50" y1="369.60" x2="88.50" y2="368.60" stroke="#808080" stroke-width="0.5" />
<text x="88.50" y="378.60" font-size="6.8" fill="#3a3a3a" text-anchor="middle" stroke="#3a3a3a" stroke-width="0.08">0.1</text>
<line x1="26.20" y1="283.00" x2="27.20" y2="283.00" stroke="#808080" stroke-width="0.5" />
<line x1="26.20" y1="312.20" x2="27.20" y2="312.20" stroke="#808080" stroke-width="0.5" />
<line x1="26.20" y1="340.90" x2="27.20" y2="340.90" stroke="#808080" stroke-width="0.5" />
<line x1="26.20" y1="369.60" x2="27.20" y2="369.60" stroke="#808080" stroke-width="0.5" />
<text x="38.40" y="387.40" font-size="7.2" fill="#3a3a3a" textLength="42.10" lengthAdjust="spacingAndGlyphs" stroke="#3a3a3a" stroke-width="0.08">Amplitude of</text>
<text x="34.10" y="396.30" font-size="7.2" fill="#3a3a3a" textLength="52.90" lengthAdjust="spacingAndGlyphs" stroke="#3a3a3a" stroke-width="0.08">short Akt waves</text>
<text x="82.50" y="289.90" font-size="6.8" fill="#222" font-style="italic" textLength="11.30" lengthAdjust="spacingAndGlyphs" stroke="#222" stroke-width="0.08">80th</text>
<text x="86.30" y="309.90" font-size="6.8" fill="#222" font-style="italic" textLength="11.30" lengthAdjust="spacingAndGlyphs" stroke="#222" stroke-width="0.08">50th</text>
<text x="89.50" y="329.40" font-size="6.8" fill="#222" font-style="italic" textLength="11.30" lengthAdjust="spacingAndGlyphs" stroke="#222" stroke-width="0.08">20th</text>
<polygon points="111.50,359.80 170.80,283.00 186.70,283.00 186.70,322.10 111.50,362.40" fill="#f28b2e" fill-opacity="0.92"/>
<g fill="#555" fill-opacity="0.075" filter="url(#blr)"><circle cx="119.4" cy="356.3" r="1.3"/><circle cx="138.2" cy="342.6" r="1.3"/><circle cx="126.1" cy="335.0" r="1.3"/><circle cx="118.1" cy="339.2" r="1.3"/><circle cx="144.4" cy="291.5" r="1.3"/><circle cx="117.2" cy="335.8" r="1.3"/><circle cx="116.4" cy="351.3" r="1.3"/><circle cx="116.4" cy="359.8" r="1.3"/><circle cx="126.0" cy="360.0" r="1.3"/><circle cx="122.3" cy="339.5" r="1.3"/><circle cx="115.4" cy="361.9" r="1.3"/><circle cx="127.0" cy="343.5" r="1.3"/><circle cx="123.5" cy="353.8" r="1.3"/><circle cx="115.1" cy="358.5" r="1.3"/><circle cx="131.5" cy="337.8" r="1.3"/><circle cx="117.4" cy="343.2" r="1.3"/><circle cx="119.5" cy="354.6" r="1.3"/><circle cx="125.4" cy="346.7" r="1.3"/><circle cx="116.2" cy="358.0" r="1.3"/><circle cx="117.5" cy="348.8" r="1.3"/><circle cx="123.4" cy="332.6" r="1.3"/><circle cx="127.4" cy="347.0" r="1.3"/><circle cx="126.1" cy="341.5" r="1.3"/><circle cx="121.9" cy="335.2" r="1.3"/><circle cx="121.4" cy="354.7" r="1.3"/><circle cx="118.1" cy="339.7" r="1.3"/><circle cx="135.7" cy="343.5" r="1.3"/><circle cx="118.5" cy="348.3" r="1.3"/><circle cx="131.1" cy="337.3" r="1.3"/><circle cx="140.0" cy="328.9" r="1.3"/><circle cx="118.8" cy="343.3" r="1.3"/><circle cx="127.6" cy="354.0" r="1.3"/><circle cx="137.7" cy="335.7" r="1.3"/><circle cx="122.3" cy="357.2" r="1.3"/><circle cx="131.3" cy="346.8" r="1.3"/><circle cx="134.3" cy="339.1" r="1.3"/><circle cx="115.6" cy="346.0" r="1.3"/><circle cx="122.9" cy="344.9" r="1.3"/><circle cx="125.7" cy="339.8" r="1.3"/><circle cx="115.7" cy="357.2" r="1.3"/><circle cx="120.9" cy="353.9" r="1.3"/><circle cx="122.0" cy="349.8" r="1.3"/><circle cx="125.9" cy="351.1" r="1.3"/><circle cx="115.1" cy="341.1" r="1.3"/><circle cx="116.5" cy="339.2" r="1.3"/><circle cx="127.1" cy="335.1" r="1.3"/><circle cx="124.9" cy="320.6" r="1.3"/><circle cx="116.0" cy="354.4" r="1.3"/><circle cx="133.2" cy="335.0" r="1.3"/><circle cx="121.2" cy="346.4" r="1.3"/><circle cx="151.1" cy="318.3" r="1.3"/><circle cx="136.5" cy="344.0" r="1.3"/><circle cx="117.4" cy="355.7" r="1.3"/><circle cx="133.8" cy="306.5" r="1.3"/><circle cx="118.5" cy="356.1" r="1.3"/><circle cx="131.9" cy="333.9" r="1.3"/><circle cx="129.0" cy="347.9" r="1.3"/><circle cx="115.7" cy="354.3" r="1.3"/><circle cx="125.6" cy="351.6" r="1.3"/><circle cx="119.9" cy="349.3" r="1.3"/><circle cx="126.7" cy="346.7" r="1.3"/><circle cx="117.7" cy="344.7" r="1.3"/><circle cx="160.1" cy="292.3" r="1.3"/><circle cx="131.1" cy="325.7" r="1.3"/><circle cx="115.8" cy="344.4" r="1.3"/><circle cx="114.0" cy="337.1" r="1.3"/><circle cx="126.2" cy="360.7" r="1.3"/><circle cx="138.6" cy="306.8" r="1.3"/><circle cx="125.6" cy="324.0" r="1.3"/><circle cx="124.3" cy="337.5" r="1.3"/><circle cx="126.4" cy="359.8" r="1.3"/><circle cx="144.3" cy="291.5" r="1.3"/><circle cx="120.8" cy="351.7" r="1.3"/><circle cx="126.5" cy="339.6" r="1.3"/><circle cx="118.9" cy="350.1" r="1.3"/><circle cx="123.4" cy="354.6" r="1.3"/><circle cx="122.2" cy="356.5" r="1.3"/><circle cx="123.6" cy="344.5" r="1.3"/><circle cx="118.3" cy="351.8" r="1.3"/><circle cx="122.7" cy="352.7" r="1.3"/><circle cx="120.6" cy="356.9" r="1.3"/><circle cx="120.1" cy="347.1" r="1.3"/><circle cx="125.0" cy="332.1" r="1.3"/><circle cx="127.1" cy="337.4" r="1.3"/><circle cx="127.0" cy="349.1" r="1.3"/><circle cx="134.7" cy="346.0" r="1.3"/><circle cx="127.7" cy="354.0" r="1.3"/><circle cx="121.3" cy="339.5" r="1.3"/><circle cx="120.0" cy="354.1" r="1.3"/><circle cx="114.9" cy="337.1" r="1.3"/><circle cx="114.6" cy="357.8" r="1.3"/><circle cx="121.6" cy="356.2" r="1.3"/><circle cx="129.2" cy="349.4" r="1.3"/><circle cx="123.6" cy="325.2" r="1.3"/><circle cx="117.3" cy="349.3" r="1.3"/><circle cx="125.0" cy="357.6" r="1.3"/><circle cx="128.2" cy="311.0" r="1.3"/><circle cx="120.5" cy="349.3" r="1.3"/><circle cx="122.5" cy="352.4" r="1.3"/><circle cx="119.2" cy="355.4" r="1.3"/><circle cx="122.1" cy="353.4" r="1.3"/><circle cx="116.2" cy="344.7" r="1.3"/><circle cx="119.8" cy="357.6" r="1.3"/><circle cx="121.8" cy="345.4" r="1.3"/><circle cx="125.5" cy="349.1" r="1.3"/><circle cx="120.9" cy="350.2" r="1.3"/><circle cx="126.7" cy="301.6" r="1.3"/><circle cx="124.9" cy="328.1" r="1.3"/><circle cx="136.8" cy="310.8" r="1.3"/><circle cx="125.2" cy="335.3" r="1.3"/><circle cx="123.6" cy="358.9" r="1.3"/><circle cx="123.7" cy="354.4" r="1.3"/><circle cx="118.2" cy="331.8" r="1.3"/><circle cx="122.8" cy="348.3" r="1.3"/><circle cx="124.8" cy="352.7" r="1.3"/><circle cx="119.8" cy="345.2" r="1.3"/><circle cx="122.2" cy="345.1" r="1.3"/><circle cx="124.2" cy="320.3" r="1.3"/><circle cx="118.4" cy="346.1" r="1.3"/><circle cx="134.4" cy="330.5" r="1.3"/><circle cx="132.7" cy="324.8" r="1.3"/><circle cx="127.4" cy="346.1" r="1.3"/><circle cx="119.5" cy="353.0" r="1.3"/><circle cx="131.4" cy="350.8" r="1.3"/><circle cx="127.1" cy="355.0" r="1.3"/><circle cx="115.8" cy="349.8" r="1.3"/><circle cx="125.4" cy="315.8" r="1.3"/><circle cx="115.4" cy="358.0" r="1.3"/><circle cx="119.4" cy="341.2" r="1.3"/><circle cx="114.2" cy="356.5" r="1.3"/><circle cx="129.4" cy="340.7" r="1.3"/><circle cx="130.5" cy="351.3" r="1.3"/><circle cx="124.7" cy="349.3" r="1.3"/><circle cx="125.4" cy="351.3" r="1.3"/><circle cx="118.2" cy="347.3" r="1.3"/><circle cx="122.8" cy="327.9" r="1.3"/><circle cx="122.2" cy="359.4" r="1.3"/><circle cx="142.8" cy="330.1" r="1.3"/><circle cx="128.2" cy="333.4" r="1.3"/><circle cx="129.5" cy="328.3" r="1.3"/><circle cx="126.7" cy="333.6" r="1.3"/><circle cx="142.2" cy="317.8" r="1.3"/><circle cx="123.1" cy="347.2" r="1.3"/><circle cx="142.5" cy="315.4" r="1.3"/><circle cx="118.3" cy="355.9" r="1.3"/><circle cx="146.9" cy="288.4" r="1.3"/><circle cx="117.3" cy="350.4" r="1.3"/><circle cx="137.4" cy="290.3" r="1.3"/><circle cx="137.9" cy="339.7" r="1.3"/><circle cx="130.0" cy="325.8" r="1.3"/><circle cx="131.2" cy="342.5" r="1.3"/><circle cx="118.9" cy="349.0" r="1.3"/><circle cx="123.5" cy="361.4" r="1.3"/><circle cx="115.6" cy="349.8" r="1.3"/><circle cx="120.3" cy="338.3" r="1.3"/><circle cx="123.5" cy="356.6" r="1.3"/><circle cx="130.5" cy="337.9" r="1.3"/><circle cx="139.1" cy="312.8" r="1.3"/><circle cx="119.8" cy="297.9" r="1.3"/><circle cx="124.6" cy="336.7" r="1.3"/><circle cx="121.6" cy="346.0" r="1.3"/><circle cx="122.1" cy="324.4" r="1.3"/><circle cx="126.5" cy="338.4" r="1.3"/><circle cx="124.1" cy="346.9" r="1.3"/><circle cx="123.5" cy="357.6" r="1.3"/><circle cx="130.6" cy="344.3" r="1.3"/><circle cx="118.7" cy="350.5" r="1.3"/><circle cx="125.2" cy="347.1" r="1.3"/><circle cx="118.6" cy="343.9" r="1.3"/><circle cx="115.1" cy="338.5" r="1.3"/><circle cx="131.8" cy="326.5" r="1.3"/><circle cx="134.8" cy="292.1" r="1.3"/><circle cx="130.5" cy="335.1" r="1.3"/><circle cx="122.2" cy="350.3" r="1.3"/><circle cx="121.7" cy="343.0" r="1.3"/><circle cx="123.0" cy="337.1" r="1.3"/><circle cx="126.8" cy="351.0" r="1.3"/><circle cx="138.3" cy="306.2" r="1.3"/><circle cx="118.5" cy="360.7" r="1.3"/><circle cx="126.1" cy="351.0" r="1.3"/><circle cx="123.5" cy="340.6" r="1.3"/><circle cx="121.4" cy="336.2" r="1.3"/><circle cx="118.7" cy="356.0" r="1.3"/><circle cx="118.5" cy="357.2" r="1.3"/><circle cx="115.4" cy="358.6" r="1.3"/><circle cx="128.4" cy="354.7" r="1.3"/><circle cx="118.7" cy="345.6" r="1.3"/><circle cx="147.1" cy="297.1" r="1.3"/><circle cx="124.2" cy="351.5" r="1.3"/><circle cx="113.1" cy="353.2" r="1.3"/><circle cx="122.6" cy="348.9" r="1.3"/><circle cx="118.5" cy="350.8" r="1.3"/><circle cx="119.3" cy="352.2" r="1.3"/><circle cx="118.9" cy="354.4" r="1.3"/><circle cx="114.2" cy="352.9" r="1.3"/><circle cx="141.8" cy="290.1" r="1.3"/><circle cx="124.9" cy="336.7" r="1.3"/><circle cx="134.8" cy="335.2" r="1.3"/><circle cx="117.1" cy="342.1" r="1.3"/><circle cx="121.2" cy="350.4" r="1.3"/><circle cx="132.3" cy="303.6" r="1.3"/><circle cx="118.0" cy="351.8" r="1.3"/><circle cx="125.3" cy="349.6" r="1.3"/><circle cx="142.0" cy="320.8" r="1.3"/><circle cx="132.1" cy="326.1" r="1.3"/><circle cx="121.6" cy="337.7" r="1.3"/><circle cx="122.3" cy="334.1" r="1.3"/><circle cx="118.6" cy="336.2" r="1.3"/><circle cx="152.2" cy="302.4" r="1.3"/><circle cx="119.3" cy="344.5" r="1.3"/><circle cx="115.2" cy="351.3" r="1.3"/><circle cx="126.6" cy="350.8" r="1.3"/><circle cx="128.2" cy="317.9" r="1.3"/><circle cx="124.8" cy="332.4" r="1.3"/><circle cx="117.3" cy="343.9" r="1.3"/><circle cx="119.0" cy="285.4" r="1.3"/><circle cx="121.5" cy="349.7" r="1.3"/><circle cx="118.2" cy="348.1" r="1.3"/><circle cx="124.7" cy="331.7" r="1.3"/><circle cx="120.3" cy="350.6" r="1.3"/><circle cx="120.0" cy="348.9" r="1.3"/><circle cx="129.2" cy="347.1" r="1.3"/><circle cx="121.7" cy="354.6" r="1.3"/><circle cx="121.6" cy="352.5" r="1.3"/><circle cx="113.1" cy="353.3" r="1.3"/><circle cx="123.0" cy="353.1" r="1.3"/><circle cx="118.1" cy="350.1" r="1.3"/><circle cx="123.9" cy="349.9" r="1.3"/><circle cx="120.3" cy="350.7" r="1.3"/><circle cx="119.9" cy="328.1" r="1.3"/><circle cx="142.2" cy="297.9" r="1.3"/><circle cx="133.2" cy="349.7" r="1.3"/><circle cx="116.3" cy="352.3" r="1.3"/><circle cx="137.6" cy="325.9" r="1.3"/><circle cx="115.4" cy="358.2" r="1.3"/><circle cx="127.7" cy="350.3" r="1.3"/><circle cx="118.1" cy="355.3" r="1.3"/><circle cx="135.2" cy="339.1" r="1.3"/><circle cx="122.5" cy="354.3" r="1.3"/><circle cx="125.3" cy="344.3" r="1.3"/><circle cx="128.3" cy="350.5" r="1.3"/><circle cx="133.0" cy="326.5" r="1.3"/><circle cx="118.2" cy="356.2" r="1.3"/><circle cx="116.9" cy="349.0" r="1.3"/><circle cx="117.1" cy="352.1" r="1.3"/><circle cx="120.3" cy="347.1" r="1.3"/><circle cx="119.6" cy="355.4" r="1.3"/><circle cx="116.8" cy="360.8" r="1.3"/><circle cx="128.0" cy="356.5" r="1.3"/><circle cx="117.9" cy="347.5" r="1.3"/><circle cx="131.3" cy="315.4" r="1.3"/><circle cx="122.5" cy="336.3" r="1.3"/><circle cx="117.2" cy="351.6" r="1.3"/><circle cx="116.0" cy="347.0" r="1.3"/><circle cx="131.3" cy="330.7" r="1.3"/><circle cx="118.8" cy="358.2" r="1.3"/><circle cx="123.8" cy="329.6" r="1.3"/><circle cx="126.4" cy="350.8" r="1.3"/><circle cx="121.8" cy="333.3" r="1.3"/><circle cx="116.9" cy="350.5" r="1.3"/><circle cx="147.1" cy="322.7" r="1.3"/><circle cx="133.6" cy="330.1" r="1.3"/><circle cx="127.9" cy="298.1" r="1.3"/><circle cx="125.0" cy="349.3" r="1.3"/><circle cx="168.6" cy="303.3" r="1.3"/><circle cx="121.8" cy="359.7" r="1.3"/><circle cx="130.5" cy="344.4" r="1.3"/><circle cx="121.7" cy="316.1" r="1.3"/><circle cx="120.9" cy="342.3" r="1.3"/><circle cx="129.0" cy="345.0" r="1.3"/><circle cx="114.6" cy="355.1" r="1.3"/><circle cx="114.9" cy="349.4" r="1.3"/><circle cx="120.4" cy="361.3" r="1.3"/><circle cx="127.7" cy="356.1" r="1.3"/><circle cx="127.5" cy="350.4" r="1.3"/><circle cx="117.2" cy="354.7" r="1.3"/><circle cx="126.5" cy="323.1" r="1.3"/><circle cx="127.4" cy="358.0" r="1.3"/><circle cx="120.2" cy="356.1" r="1.3"/><circle cx="120.6" cy="357.1" r="1.3"/><circle cx="115.7" cy="351.9" r="1.3"/><circle cx="144.2" cy="315.3" r="1.3"/><circle cx="123.4" cy="348.1" r="1.3"/><circle cx="128.8" cy="341.7" r="1.3"/><circle cx="138.5" cy="306.9" r="1.3"/><circle cx="131.5" cy="315.5" r="1.3"/><circle cx="120.5" cy="356.9" r="1.3"/><circle cx="123.3" cy="315.2" r="1.3"/><circle cx="121.0" cy="337.3" r="1.3"/><circle cx="123.8" cy="337.4" r="1.3"/><circle cx="117.7" cy="349.6" r="1.3"/><circle cx="132.2" cy="358.4" r="1.3"/><circle cx="120.2" cy="351.9" r="1.3"/><circle cx="127.1" cy="342.2" r="1.3"/><circle cx="113.5" cy="346.7" r="1.3"/><circle cx="123.9" cy="346.6" r="1.3"/><circle cx="137.1" cy="340.7" r="1.3"/><circle cx="121.1" cy="360.0" r="1.3"/><circle cx="120.8" cy="322.4" r="1.3"/><circle cx="126.5" cy="333.3" r="1.3"/><circle cx="131.1" cy="331.7" r="1.3"/><circle cx="128.5" cy="358.3" r="1.3"/><circle cx="123.0" cy="350.7" r="1.3"/><circle cx="116.8" cy="321.2" r="1.3"/><circle cx="122.1" cy="358.7" r="1.3"/><circle cx="122.6" cy="355.7" r="1.3"/><circle cx="126.4" cy="343.3" r="1.3"/><circle cx="121.0" cy="346.8" r="1.3"/><circle cx="118.0" cy="344.1" r="1.3"/><circle cx="129.8" cy="348.6" r="1.3"/><circle cx="119.8" cy="354.8" r="1.3"/><circle cx="124.8" cy="319.7" r="1.3"/><circle cx="126.1" cy="344.6" r="1.3"/><circle cx="120.4" cy="347.3" r="1.3"/><circle cx="127.3" cy="337.4" r="1.3"/><circle cx="118.6" cy="357.1" r="1.3"/><circle cx="122.8" cy="323.8" r="1.3"/><circle cx="140.7" cy="341.9" r="1.3"/><circle cx="130.4" cy="333.1" r="1.3"/><circle cx="136.1" cy="340.9" r="1.3"/><circle cx="140.0" cy="335.7" r="1.3"/><circle cx="119.2" cy="318.4" r="1.3"/><circle cx="114.8" cy="357.4" r="1.3"/><circle cx="120.1" cy="354.8" r="1.3"/><circle cx="123.5" cy="345.0" r="1.3"/><circle cx="126.4" cy="346.4" r="1.3"/><circle cx="135.3" cy="325.9" r="1.3"/><circle cx="120.4" cy="348.8" r="1.3"/><circle cx="132.3" cy="332.8" r="1.3"/><circle cx="121.5" cy="351.2" r="1.3"/><circle cx="117.3" cy="359.7" r="1.3"/><circle cx="138.7" cy="290.9" r="1.3"/><circle cx="126.7" cy="342.0" r="1.3"/><circle cx="135.2" cy="329.8" r="1.3"/><circle cx="119.8" cy="351.9" r="1.3"/><circle cx="120.8" cy="348.7" r="1.3"/><circle cx="131.5" cy="344.6" r="1.3"/><circle cx="141.4" cy="311.0" r="1.3"/><circle cx="124.8" cy="355.7" r="1.3"/><circle cx="119.4" cy="351.2" r="1.3"/><circle cx="127.2" cy="339.4" r="1.3"/><circle cx="124.6" cy="356.9" r="1.3"/><circle cx="125.1" cy="324.4" r="1.3"/><circle cx="127.3" cy="328.0" r="1.3"/><circle cx="128.9" cy="341.7" r="1.3"/><circle cx="120.0" cy="358.3" r="1.3"/><circle cx="128.4" cy="348.9" r="1.3"/><circle cx="126.7" cy="331.5" r="1.3"/><circle cx="123.5" cy="332.1" r="1.3"/><circle cx="113.7" cy="341.5" r="1.3"/><circle cx="130.2" cy="339.1" r="1.3"/><circle cx="122.3" cy="330.2" r="1.3"/><circle cx="115.5" cy="358.1" r="1.3"/><circle cx="117.2" cy="342.7" r="1.3"/><circle cx="123.6" cy="359.5" r="1.3"/><circle cx="136.1" cy="338.9" r="1.3"/><circle cx="115.2" cy="353.3" r="1.3"/><circle cx="116.1" cy="337.5" r="1.3"/><circle cx="117.7" cy="349.4" r="1.3"/><circle cx="123.0" cy="350.8" r="1.3"/><circle cx="128.7" cy="351.9" r="1.3"/><circle cx="122.9" cy="357.6" r="1.3"/><circle cx="124.6" cy="339.1" r="1.3"/><circle cx="113.9" cy="356.7" r="1.3"/><circle cx="130.4" cy="354.5" r="1.3"/><circle cx="124.6" cy="348.5" r="1.3"/><circle cx="131.2" cy="320.1" r="1.3"/><circle cx="126.7" cy="343.7" r="1.3"/><circle cx="137.0" cy="345.5" r="1.3"/><circle cx="126.7" cy="355.4" r="1.3"/><circle cx="126.3" cy="357.0" r="1.3"/><circle cx="130.2" cy="344.3" r="1.3"/><circle cx="126.6" cy="355.3" r="1.3"/><circle cx="118.7" cy="354.4" r="1.3"/><circle cx="119.1" cy="353.4" r="1.3"/><circle cx="143.7" cy="313.6" r="1.3"/><circle cx="119.4" cy="345.5" r="1.3"/><circle cx="135.4" cy="333.4" r="1.3"/><circle cx="130.1" cy="331.4" r="1.3"/><circle cx="125.2" cy="355.9" r="1.3"/><circle cx="123.4" cy="338.5" r="1.3"/><circle cx="124.6" cy="334.3" r="1.3"/><circle cx="122.1" cy="356.8" r="1.3"/><circle cx="118.8" cy="329.6" r="1.3"/><circle cx="119.3" cy="352.0" r="1.3"/><circle cx="135.4" cy="295.9" r="1.3"/><circle cx="118.8" cy="335.1" r="1.3"/><circle cx="116.8" cy="328.6" r="1.3"/><circle cx="127.3" cy="306.2" r="1.3"/><circle cx="117.4" cy="351.9" r="1.3"/><circle cx="121.4" cy="343.7" r="1.3"/><circle cx="132.6" cy="320.7" r="1.3"/><circle cx="121.7" cy="332.1" r="1.3"/><circle cx="119.7" cy="354.5" r="1.3"/><circle cx="132.8" cy="330.1" r="1.3"/><circle cx="123.8" cy="351.4" r="1.3"/><circle cx="126.5" cy="340.5" r="1.3"/><circle cx="120.8" cy="351.2" r="1.3"/><circle cx="125.6" cy="328.2" r="1.3"/><circle cx="119.0" cy="357.1" r="1.3"/><circle cx="120.6" cy="352.0" r="1.3"/><circle cx="126.3" cy="338.3" r="1.3"/><circle cx="121.6" cy="355.3" r="1.3"/><circle cx="126.8" cy="331.9" r="1.3"/><circle cx="118.5" cy="346.5" r="1.3"/><circle cx="115.4" cy="358.5" r="1.3"/><circle cx="125.5" cy="311.2" r="1.3"/><circle cx="126.8" cy="323.8" r="1.3"/><circle cx="135.4" cy="334.1" r="1.3"/><circle cx="123.6" cy="357.8" r="1.3"/><circle cx="126.2" cy="355.1" r="1.3"/><circle cx="143.8" cy="318.6" r="1.3"/><circle cx="114.6" cy="342.1" r="1.3"/><circle cx="129.1" cy="343.8" r="1.3"/><circle cx="113.7" cy="348.8" r="1.3"/><circle cx="115.7" cy="336.1" r="1.3"/><circle cx="131.8" cy="330.9" r="1.3"/><circle cx="125.5" cy="362.6" r="1.3"/><circle cx="115.8" cy="353.2" r="1.3"/><circle cx="121.8" cy="350.3" r="1.3"/><circle cx="126.4" cy="347.1" r="1.3"/><circle cx="117.1" cy="357.7" r="1.3"/><circle cx="136.2" cy="324.5" r="1.3"/><circle cx="119.0" cy="330.8" r="1.3"/><circle cx="118.4" cy="349.0" r="1.3"/><circle cx="122.1" cy="352.6" r="1.3"/><circle cx="121.6" cy="357.5" r="1.3"/><circle cx="122.8" cy="345.5" r="1.3"/><circle cx="145.9" cy="286.9" r="1.3"/><circle cx="126.0" cy="348.7" r="1.3"/><circle cx="120.4" cy="349.9" r="1.3"/><circle cx="135.4" cy="315.6" r="1.3"/><circle cx="121.2" cy="360.7" r="1.3"/><circle cx="128.3" cy="319.2" r="1.3"/><circle cx="121.8" cy="355.2" r="1.3"/><circle cx="127.1" cy="333.0" r="1.3"/><circle cx="117.3" cy="348.7" r="1.3"/><circle cx="119.0" cy="343.5" r="1.3"/><circle cx="118.6" cy="350.9" r="1.3"/><circle cx="116.0" cy="358.8" r="1.3"/><circle cx="123.4" cy="358.7" r="1.3"/><circle cx="135.8" cy="310.2" r="1.3"/><circle cx="118.1" cy="353.6" r="1.3"/><circle cx="122.7" cy="351.4" r="1.3"/><circle cx="119.4" cy="356.0" r="1.3"/><circle cx="126.8" cy="335.4" r="1.3"/><circle cx="116.9" cy="358.8" r="1.3"/><circle cx="124.1" cy="340.4" r="1.3"/><circle cx="124.8" cy="347.2" r="1.3"/><circle cx="137.2" cy="340.9" r="1.3"/><circle cx="123.2" cy="354.8" r="1.3"/><circle cx="132.1" cy="333.9" r="1.3"/><circle cx="126.5" cy="344.5" r="1.3"/><circle cx="128.0" cy="351.0" r="1.3"/><circle cx="127.2" cy="347.2" r="1.3"/><circle cx="124.9" cy="342.0" r="1.3"/><circle cx="120.0" cy="350.9" r="1.3"/><circle cx="121.9" cy="354.1" r="1.3"/><circle cx="116.9" cy="348.4" r="1.3"/><circle cx="123.3" cy="345.0" r="1.3"/><circle cx="121.6" cy="343.5" r="1.3"/><circle cx="121.4" cy="351.2" r="1.3"/><circle cx="120.2" cy="353.6" r="1.3"/><circle cx="118.3" cy="357.6" r="1.3"/><circle cx="125.6" cy="327.7" r="1.3"/><circle cx="125.7" cy="346.1" r="1.3"/><circle cx="120.3" cy="331.2" r="1.3"/><circle cx="121.4" cy="347.6" r="1.3"/><circle cx="134.9" cy="324.5" r="1.3"/><circle cx="123.0" cy="332.9" r="1.3"/><circle cx="117.3" cy="343.6" r="1.3"/><circle cx="129.8" cy="329.0" r="1.3"/><circle cx="120.3" cy="331.6" r="1.3"/><circle cx="140.5" cy="320.9" r="1.3"/><circle cx="124.5" cy="349.7" r="1.3"/><circle cx="129.4" cy="349.0" r="1.3"/><circle cx="122.3" cy="344.3" r="1.3"/><circle cx="136.1" cy="323.1" r="1.3"/><circle cx="134.2" cy="331.6" r="1.3"/><circle cx="127.6" cy="354.9" r="1.3"/><circle cx="139.9" cy="340.0" r="1.3"/><circle cx="129.3" cy="346.6" r="1.3"/><circle cx="129.7" cy="355.0" r="1.3"/><circle cx="140.4" cy="317.8" r="1.3"/><circle cx="119.6" cy="351.6" r="1.3"/><circle cx="116.4" cy="353.2" r="1.3"/><circle cx="146.5" cy="308.5" r="1.3"/><circle cx="120.6" cy="356.8" r="1.3"/><circle cx="120.4" cy="339.1" r="1.3"/><circle cx="140.3" cy="294.2" r="1.3"/><circle cx="121.4" cy="360.5" r="1.3"/><circle cx="134.1" cy="328.9" r="1.3"/><circle cx="122.9" cy="347.7" r="1.3"/><circle cx="131.0" cy="357.4" r="1.3"/><circle cx="136.5" cy="292.6" r="1.3"/><circle cx="127.4" cy="330.8" r="1.3"/><circle cx="113.5" cy="352.2" r="1.3"/><circle cx="119.3" cy="350.3" r="1.3"/><circle cx="140.1" cy="304.9" r="1.3"/><circle cx="155.9" cy="300.9" r="1.3"/><circle cx="136.7" cy="321.0" r="1.3"/><circle cx="131.8" cy="346.9" r="1.3"/><circle cx="130.1" cy="327.4" r="1.3"/><circle cx="118.7" cy="354.1" r="1.3"/><circle cx="139.5" cy="321.1" r="1.3"/><circle cx="120.5" cy="334.6" r="1.3"/><circle cx="120.3" cy="349.7" r="1.3"/><circle cx="129.5" cy="311.2" r="1.3"/><circle cx="124.1" cy="351.2" r="1.3"/><circle cx="122.5" cy="338.8" r="1.3"/><circle cx="116.3" cy="359.0" r="1.3"/><circle cx="121.3" cy="356.6" r="1.3"/><circle cx="133.4" cy="335.6" r="1.3"/><circle cx="123.3" cy="355.2" r="1.3"/><circle cx="121.8" cy="334.1" r="1.3"/><circle cx="128.1" cy="353.1" r="1.3"/><circle cx="115.0" cy="352.1" r="1.3"/><circle cx="116.5" cy="335.8" r="1.3"/><circle cx="147.0" cy="288.1" r="1.3"/><circle cx="129.8" cy="348.4" r="1.3"/><circle cx="129.9" cy="337.6" r="1.3"/><circle cx="131.2" cy="350.8" r="1.3"/><circle cx="132.2" cy="341.6" r="1.3"/><circle cx="132.6" cy="312.4" r="1.3"/><circle cx="126.7" cy="345.9" r="1.3"/><circle cx="117.1" cy="359.9" r="1.3"/><circle cx="134.8" cy="296.4" r="1.3"/><circle cx="129.7" cy="340.7" r="1.3"/><circle cx="126.8" cy="352.7" r="1.3"/><circle cx="123.6" cy="346.4" r="1.3"/><circle cx="143.8" cy="304.3" r="1.3"/><circle cx="124.5" cy="354.0" r="1.3"/><circle cx="129.2" cy="326.9" r="1.3"/><circle cx="122.4" cy="350.0" r="1.3"/><circle cx="117.2" cy="358.6" r="1.3"/><circle cx="129.7" cy="323.6" r="1.3"/><circle cx="130.3" cy="339.0" r="1.3"/><circle cx="124.6" cy="360.1" r="1.3"/><circle cx="141.1" cy="327.6" r="1.3"/><circle cx="113.9" cy="353.7" r="1.3"/><circle cx="134.2" cy="349.8" r="1.3"/><circle cx="121.1" cy="355.6" r="1.3"/><circle cx="128.7" cy="352.0" r="1.3"/><circle cx="121.5" cy="355.4" r="1.3"/><circle cx="120.5" cy="347.5" r="1.3"/><circle cx="148.0" cy="318.9" r="1.3"/><circle cx="132.8" cy="326.7" r="1.3"/><circle cx="117.9" cy="356.0" r="1.3"/><circle cx="121.9" cy="355.9" r="1.3"/><circle cx="125.7" cy="337.4" r="1.3"/><circle cx="140.5" cy="335.6" r="1.3"/><circle cx="121.0" cy="330.3" r="1.3"/><circle cx="118.8" cy="356.9" r="1.3"/><circle cx="130.6" cy="343.5" r="1.3"/><circle cx="118.4" cy="352.0" r="1.3"/><circle cx="122.1" cy="347.7" r="1.3"/><circle cx="117.8" cy="348.9" r="1.3"/><circle cx="124.4" cy="350.8" r="1.3"/><circle cx="124.3" cy="336.0" r="1.3"/><circle cx="126.4" cy="357.0" r="1.3"/><circle cx="138.1" cy="291.5" r="1.3"/><circle cx="126.3" cy="356.2" r="1.3"/><circle cx="129.1" cy="341.3" r="1.3"/><circle cx="121.0" cy="355.2" r="1.3"/><circle cx="114.4" cy="357.6" r="1.3"/><circle cx="125.8" cy="349.7" r="1.3"/><circle cx="125.6" cy="328.9" r="1.3"/><circle cx="118.3" cy="355.4" r="1.3"/><circle cx="130.3" cy="333.7" r="1.3"/><circle cx="127.7" cy="359.5" r="1.3"/><circle cx="141.3" cy="314.5" r="1.3"/><circle cx="119.0" cy="357.6" r="1.3"/><circle cx="128.9" cy="325.0" r="1.3"/><circle cx="123.0" cy="353.9" r="1.3"/><circle cx="122.9" cy="341.0" r="1.3"/><circle cx="128.9" cy="346.8" r="1.3"/><circle cx="127.1" cy="339.2" r="1.3"/><circle cx="113.7" cy="356.5" r="1.3"/><circle cx="113.7" cy="356.9" r="1.3"/><circle cx="135.0" cy="335.6" r="1.3"/><circle cx="122.2" cy="356.9" r="1.3"/><circle cx="118.8" cy="352.2" r="1.3"/><circle cx="123.8" cy="339.3" r="1.3"/><circle cx="128.1" cy="353.9" r="1.3"/><circle cx="114.5" cy="332.4" r="1.3"/><circle cx="118.3" cy="348.7" r="1.3"/><circle cx="122.8" cy="354.2" r="1.3"/><circle cx="121.6" cy="353.3" r="1.3"/><circle cx="128.4" cy="350.5" r="1.3"/><circle cx="124.1" cy="358.2" r="1.3"/><circle cx="128.2" cy="334.6" r="1.3"/><circle cx="118.9" cy="357.0" r="1.3"/><circle cx="133.5" cy="348.1" r="1.3"/><circle cx="127.8" cy="335.2" r="1.3"/><circle cx="139.8" cy="309.7" r="1.3"/><circle cx="129.4" cy="335.2" r="1.3"/><circle cx="119.8" cy="354.2" r="1.3"/><circle cx="138.5" cy="300.3" r="1.3"/><circle cx="142.0" cy="323.6" r="1.3"/><circle cx="136.0" cy="321.2" r="1.3"/><circle cx="132.3" cy="344.4" r="1.3"/><circle cx="131.0" cy="308.2" r="1.3"/><circle cx="129.4" cy="345.8" r="1.3"/><circle cx="130.7" cy="332.5" r="1.3"/><circle cx="131.0" cy="350.4" r="1.3"/><circle cx="121.0" cy="345.3" r="1.3"/><circle cx="124.9" cy="348.6" r="1.3"/><circle cx="117.2" cy="357.3" r="1.3"/><circle cx="118.1" cy="323.5" r="1.3"/><circle cx="125.9" cy="347.2" r="1.3"/><circle cx="120.5" cy="324.8" r="1.3"/><circle cx="128.3" cy="342.4" r="1.3"/><circle cx="129.2" cy="342.6" r="1.3"/><circle cx="123.8" cy="344.5" r="1.3"/><circle cx="120.5" cy="354.7" r="1.3"/><circle cx="122.4" cy="352.8" r="1.3"/><circle cx="126.1" cy="355.6" r="1.3"/><circle cx="125.0" cy="341.0" r="1.3"/><circle cx="121.1" cy="350.2" r="1.3"/><circle cx="123.6" cy="315.6" r="1.3"/><circle cx="127.8" cy="350.0" r="1.3"/><circle cx="118.1" cy="351.2" r="1.3"/><circle cx="125.9" cy="356.9" r="1.3"/><circle cx="127.4" cy="356.3" r="1.3"/><circle cx="120.0" cy="353.4" r="1.3"/><circle cx="130.3" cy="348.3" r="1.3"/><circle cx="138.3" cy="327.9" r="1.3"/><circle cx="126.4" cy="308.1" r="1.3"/></g>
<polyline points="111.50,361.20 186.70,294.50" fill="none" stroke="#a3300f" stroke-width="1.35" />
<line x1="111.50" y1="283.00" x2="111.50" y2="369.60" stroke="#808080" stroke-width="0.7" />
<line x1="111.50" y1="369.60" x2="186.90" y2="369.60" stroke="#808080" stroke-width="0.7" />
<line x1="111.50" y1="369.60" x2="111.50" y2="368.60" stroke="#808080" stroke-width="0.5" />
<text x="111.50" y="378.60" font-size="6.8" fill="#3a3a3a" text-anchor="middle" stroke="#3a3a3a" stroke-width="0.08">0</text>
<line x1="132.30" y1="369.60" x2="132.30" y2="368.60" stroke="#808080" stroke-width="0.5" />
<text x="132.30" y="378.60" font-size="6.8" fill="#3a3a3a" text-anchor="middle" stroke="#3a3a3a" stroke-width="0.08">0.05</text>
<line x1="153.30" y1="369.60" x2="153.30" y2="368.60" stroke="#808080" stroke-width="0.5" />
<text x="153.30" y="378.60" font-size="6.8" fill="#3a3a3a" text-anchor="middle" stroke="#3a3a3a" stroke-width="0.08">0.1</text>
<line x1="174.30" y1="369.60" x2="174.30" y2="368.60" stroke="#808080" stroke-width="0.5" />
<text x="174.30" y="378.60" font-size="6.8" fill="#3a3a3a" text-anchor="middle" stroke="#3a3a3a" stroke-width="0.08">0.15</text>
<line x1="111.50" y1="283.00" x2="112.50" y2="283.00" stroke="#808080" stroke-width="0.5" />
<line x1="111.50" y1="312.20" x2="112.50" y2="312.20" stroke="#808080" stroke-width="0.5" />
<line x1="111.50" y1="340.90" x2="112.50" y2="340.90" stroke="#808080" stroke-width="0.5" />
<line x1="111.50" y1="369.60" x2="112.50" y2="369.60" stroke="#808080" stroke-width="0.5" />
<text x="129.00" y="387.40" font-size="7.2" fill="#3a3a3a" textLength="41.80" lengthAdjust="spacingAndGlyphs" stroke="#3a3a3a" stroke-width="0.08">Amplitude of</text>
<text x="122.10" y="396.30" font-size="7.2" fill="#3a3a3a" textLength="57.50" lengthAdjust="spacingAndGlyphs" stroke="#3a3a3a" stroke-width="0.08">short ERK waves</text>
<text x="158.80" y="289.10" font-size="6.8" fill="#222" font-style="italic" textLength="11.30" lengthAdjust="spacingAndGlyphs" stroke="#222" stroke-width="0.08">80th</text>
<text x="167.50" y="305.20" font-size="6.8" fill="#222" font-style="italic" textLength="11.30" lengthAdjust="spacingAndGlyphs" stroke="#222" stroke-width="0.08">50th</text>
<text x="173.10" y="325.30" font-size="6.8" fill="#222" font-style="italic" textLength="11.30" lengthAdjust="spacingAndGlyphs" stroke="#222" stroke-width="0.08">20th</text>
<polygon points="196.50,336.60 271.40,312.90 271.40,340.50 196.50,356.60" fill="#86bde6" fill-opacity="0.92"/>
<g fill="#555" fill-opacity="0.075" filter="url(#blr)"><circle cx="200.1" cy="354.9" r="1.3"/><circle cx="211.7" cy="339.3" r="1.3"/><circle cx="204.5" cy="339.1" r="1.3"/><circle cx="209.4" cy="347.5" r="1.3"/><circle cx="222.0" cy="341.0" r="1.3"/><circle cx="198.9" cy="349.5" r="1.3"/><circle cx="214.0" cy="355.3" r="1.3"/><circle cx="206.2" cy="358.6" r="1.3"/><circle cx="207.1" cy="355.1" r="1.3"/><circle cx="214.2" cy="352.1" r="1.3"/><circle cx="202.7" cy="339.0" r="1.3"/><circle cx="207.1" cy="348.5" r="1.3"/><circle cx="214.0" cy="348.6" r="1.3"/><circle cx="220.8" cy="342.7" r="1.3"/><circle cx="209.7" cy="341.0" r="1.3"/><circle cx="220.4" cy="351.4" r="1.3"/><circle cx="207.1" cy="343.9" r="1.3"/><circle cx="211.6" cy="337.1" r="1.3"/><circle cx="201.2" cy="331.4" r="1.3"/><circle cx="203.8" cy="339.5" r="1.3"/><circle cx="200.7" cy="350.5" r="1.3"/><circle cx="216.4" cy="347.6" r="1.3"/><circle cx="199.4" cy="354.0" r="1.3"/><circle cx="209.2" cy="352.7" r="1.3"/><circle cx="216.5" cy="344.5" r="1.3"/><circle cx="250.0" cy="308.7" r="1.3"/><circle cx="219.1" cy="355.8" r="1.3"/><circle cx="202.4" cy="344.2" r="1.3"/><circle cx="201.3" cy="357.6" r="1.3"/><circle cx="225.3" cy="332.4" r="1.3"/><circle cx="200.2" cy="354.9" r="1.3"/><circle cx="208.2" cy="349.8" r="1.3"/><circle cx="230.0" cy="329.7" r="1.3"/><circle cx="207.2" cy="349.7" r="1.3"/><circle cx="199.5" cy="354.6" r="1.3"/><circle cx="208.1" cy="350.4" r="1.3"/><circle cx="212.2" cy="339.2" r="1.3"/><circle cx="215.1" cy="352.2" r="1.3"/><circle cx="206.7" cy="357.6" r="1.3"/><circle cx="205.5" cy="345.2" r="1.3"/><circle cx="212.9" cy="342.0" r="1.3"/><circle cx="199.7" cy="351.9" r="1.3"/><circle cx="198.8" cy="344.0" r="1.3"/><circle cx="219.7" cy="308.0" r="1.3"/><circle cx="229.8" cy="297.5" r="1.3"/><circle cx="213.1" cy="333.0" r="1.3"/><circle cx="205.6" cy="357.2" r="1.3"/><circle cx="202.2" cy="360.0" r="1.3"/><circle cx="206.1" cy="289.2" r="1.3"/><circle cx="220.1" cy="339.5" r="1.3"/><circle cx="200.7" cy="356.2" r="1.3"/><circle cx="212.5" cy="353.3" r="1.3"/><circle cx="203.9" cy="351.3" r="1.3"/><circle cx="209.6" cy="357.3" r="1.3"/><circle cx="212.8" cy="348.2" r="1.3"/><circle cx="209.6" cy="326.7" r="1.3"/><circle cx="215.1" cy="350.8" r="1.3"/><circle cx="210.0" cy="348.1" r="1.3"/><circle cx="212.0" cy="342.3" r="1.3"/><circle cx="201.2" cy="355.0" r="1.3"/><circle cx="207.4" cy="348.0" r="1.3"/><circle cx="199.9" cy="344.7" r="1.3"/><circle cx="219.4" cy="330.1" r="1.3"/><circle cx="207.1" cy="350.9" r="1.3"/><circle cx="201.4" cy="354.8" r="1.3"/><circle cx="204.9" cy="356.5" r="1.3"/><circle cx="215.3" cy="338.4" r="1.3"/><circle cx="209.1" cy="342.6" r="1.3"/><circle cx="215.4" cy="354.0" r="1.3"/><circle cx="213.8" cy="312.1" r="1.3"/><circle cx="203.7" cy="349.7" r="1.3"/><circle cx="223.4" cy="335.1" r="1.3"/><circle cx="216.4" cy="352.5" r="1.3"/><circle cx="202.1" cy="354.4" r="1.3"/><circle cx="209.8" cy="343.1" r="1.3"/><circle cx="200.4" cy="355.5" r="1.3"/><circle cx="214.6" cy="350.2" r="1.3"/><circle cx="219.0" cy="343.9" r="1.3"/><circle cx="206.3" cy="357.0" r="1.3"/><circle cx="219.3" cy="351.6" r="1.3"/><circle cx="219.4" cy="350.7" r="1.3"/><circle cx="224.8" cy="343.4" r="1.3"/><circle cx="206.6" cy="362.2" r="1.3"/><circle cx="213.4" cy="342.6" r="1.3"/><circle cx="203.5" cy="328.0" r="1.3"/><circle cx="210.1" cy="355.0" r="1.3"/><circle cx="201.3" cy="342.8" r="1.3"/><circle cx="198.6" cy="338.8" r="1.3"/><circle cx="212.8" cy="344.4" r="1.3"/><circle cx="236.1" cy="323.9" r="1.3"/><circle cx="207.9" cy="327.4" r="1.3"/><circle cx="214.8" cy="356.3" r="1.3"/><circle cx="199.6" cy="349.4" r="1.3"/><circle cx="204.0" cy="344.7" r="1.3"/><circle cx="201.8" cy="343.3" r="1.3"/><circle cx="203.8" cy="355.5" r="1.3"/><circle cx="199.1" cy="342.9" r="1.3"/><circle cx="217.9" cy="325.7" r="1.3"/><circle cx="208.4" cy="307.0" r="1.3"/><circle cx="203.9" cy="350.7" r="1.3"/><circle cx="199.0" cy="347.0" r="1.3"/><circle cx="213.3" cy="350.4" r="1.3"/><circle cx="212.3" cy="346.5" r="1.3"/><circle cx="236.6" cy="319.6" r="1.3"/><circle cx="221.4" cy="353.1" r="1.3"/><circle cx="200.7" cy="364.1" r="1.3"/><circle cx="218.1" cy="330.7" r="1.3"/><circle cx="202.9" cy="354.0" r="1.3"/><circle cx="204.7" cy="349.9" r="1.3"/><circle cx="215.2" cy="354.5" r="1.3"/><circle cx="207.4" cy="338.5" r="1.3"/><circle cx="216.1" cy="304.4" r="1.3"/><circle cx="219.2" cy="331.6" r="1.3"/><circle cx="231.1" cy="343.9" r="1.3"/><circle cx="211.8" cy="355.2" r="1.3"/><circle cx="216.6" cy="336.8" r="1.3"/><circle cx="198.6" cy="353.4" r="1.3"/><circle cx="203.5" cy="349.3" r="1.3"/><circle cx="207.7" cy="353.3" r="1.3"/><circle cx="208.1" cy="340.9" r="1.3"/><circle cx="203.6" cy="314.8" r="1.3"/><circle cx="212.1" cy="349.7" r="1.3"/><circle cx="215.3" cy="346.3" r="1.3"/><circle cx="217.0" cy="348.1" r="1.3"/><circle cx="200.8" cy="356.9" r="1.3"/><circle cx="204.2" cy="352.8" r="1.3"/><circle cx="218.8" cy="353.7" r="1.3"/><circle cx="205.3" cy="346.0" r="1.3"/><circle cx="239.5" cy="290.7" r="1.3"/><circle cx="234.7" cy="321.1" r="1.3"/><circle cx="205.3" cy="348.1" r="1.3"/><circle cx="202.4" cy="355.6" r="1.3"/><circle cx="205.1" cy="355.5" r="1.3"/><circle cx="217.6" cy="348.4" r="1.3"/><circle cx="200.9" cy="350.2" r="1.3"/><circle cx="210.7" cy="312.5" r="1.3"/><circle cx="213.4" cy="350.4" r="1.3"/><circle cx="228.9" cy="318.5" r="1.3"/><circle cx="213.0" cy="341.2" r="1.3"/><circle cx="204.5" cy="356.4" r="1.3"/><circle cx="207.9" cy="352.6" r="1.3"/><circle cx="209.0" cy="343.0" r="1.3"/><circle cx="205.1" cy="354.0" r="1.3"/><circle cx="200.0" cy="354.9" r="1.3"/><circle cx="200.8" cy="333.6" r="1.3"/><circle cx="221.0" cy="351.4" r="1.3"/><circle cx="209.1" cy="347.7" r="1.3"/><circle cx="203.5" cy="347.9" r="1.3"/><circle cx="219.8" cy="352.4" r="1.3"/><circle cx="201.7" cy="292.2" r="1.3"/><circle cx="204.5" cy="343.7" r="1.3"/><circle cx="204.3" cy="358.0" r="1.3"/><circle cx="204.4" cy="336.1" r="1.3"/><circle cx="204.6" cy="333.5" r="1.3"/><circle cx="210.2" cy="349.5" r="1.3"/><circle cx="218.3" cy="354.7" r="1.3"/><circle cx="218.4" cy="343.0" r="1.3"/><circle cx="218.3" cy="343.5" r="1.3"/><circle cx="199.3" cy="347.0" r="1.3"/><circle cx="204.3" cy="348.3" r="1.3"/><circle cx="199.7" cy="349.5" r="1.3"/><circle cx="205.8" cy="361.9" r="1.3"/><circle cx="208.2" cy="333.9" r="1.3"/><circle cx="211.8" cy="311.7" r="1.3"/><circle cx="222.5" cy="337.0" r="1.3"/><circle cx="198.5" cy="326.9" r="1.3"/><circle cx="199.6" cy="343.1" r="1.3"/><circle cx="209.8" cy="351.7" r="1.3"/><circle cx="210.2" cy="333.1" r="1.3"/><circle cx="215.8" cy="335.9" r="1.3"/><circle cx="210.2" cy="353.3" r="1.3"/><circle cx="203.9" cy="347.1" r="1.3"/><circle cx="208.2" cy="354.6" r="1.3"/><circle cx="199.3" cy="352.2" r="1.3"/><circle cx="213.6" cy="351.4" r="1.3"/><circle cx="218.2" cy="344.9" r="1.3"/><circle cx="207.9" cy="339.9" r="1.3"/><circle cx="217.5" cy="354.4" r="1.3"/><circle cx="208.1" cy="334.5" r="1.3"/><circle cx="219.4" cy="346.2" r="1.3"/><circle cx="207.7" cy="340.8" r="1.3"/><circle cx="206.9" cy="348.1" r="1.3"/><circle cx="210.4" cy="344.3" r="1.3"/><circle cx="222.9" cy="320.8" r="1.3"/><circle cx="206.2" cy="353.0" r="1.3"/><circle cx="198.6" cy="362.9" r="1.3"/><circle cx="210.9" cy="361.4" r="1.3"/><circle cx="211.8" cy="337.9" r="1.3"/><circle cx="237.3" cy="325.3" r="1.3"/><circle cx="220.8" cy="348.7" r="1.3"/><circle cx="217.4" cy="333.2" r="1.3"/><circle cx="217.3" cy="345.7" r="1.3"/><circle cx="199.1" cy="342.0" r="1.3"/><circle cx="215.6" cy="342.2" r="1.3"/><circle cx="223.8" cy="318.0" r="1.3"/><circle cx="201.2" cy="303.3" r="1.3"/><circle cx="219.0" cy="343.6" r="1.3"/><circle cx="209.2" cy="351.9" r="1.3"/><circle cx="206.3" cy="344.8" r="1.3"/><circle cx="219.0" cy="353.7" r="1.3"/><circle cx="220.6" cy="326.7" r="1.3"/><circle cx="203.9" cy="360.0" r="1.3"/><circle cx="209.0" cy="349.2" r="1.3"/><circle cx="203.1" cy="357.1" r="1.3"/><circle cx="198.1" cy="353.6" r="1.3"/><circle cx="218.3" cy="348.0" r="1.3"/><circle cx="206.8" cy="349.2" r="1.3"/><circle cx="199.3" cy="354.8" r="1.3"/><circle cx="206.3" cy="340.1" r="1.3"/><circle cx="208.9" cy="351.7" r="1.3"/><circle cx="228.7" cy="287.1" r="1.3"/><circle cx="203.9" cy="350.8" r="1.3"/><circle cx="214.3" cy="357.2" r="1.3"/><circle cx="219.5" cy="345.9" r="1.3"/><circle cx="205.0" cy="349.3" r="1.3"/><circle cx="215.6" cy="360.9" r="1.3"/><circle cx="227.0" cy="352.3" r="1.3"/><circle cx="208.7" cy="345.0" r="1.3"/><circle cx="235.9" cy="310.7" r="1.3"/><circle cx="229.4" cy="343.2" r="1.3"/><circle cx="205.8" cy="349.2" r="1.3"/><circle cx="215.5" cy="359.1" r="1.3"/><circle cx="232.5" cy="308.7" r="1.3"/><circle cx="206.8" cy="351.2" r="1.3"/><circle cx="204.3" cy="328.0" r="1.3"/><circle cx="207.7" cy="355.4" r="1.3"/><circle cx="203.2" cy="359.5" r="1.3"/><circle cx="205.4" cy="354.4" r="1.3"/><circle cx="209.7" cy="354.1" r="1.3"/><circle cx="202.2" cy="340.8" r="1.3"/><circle cx="214.4" cy="355.7" r="1.3"/><circle cx="199.9" cy="357.4" r="1.3"/><circle cx="212.6" cy="312.7" r="1.3"/><circle cx="217.4" cy="348.3" r="1.3"/><circle cx="210.5" cy="359.2" r="1.3"/><circle cx="211.3" cy="351.8" r="1.3"/><circle cx="206.2" cy="350.1" r="1.3"/><circle cx="208.1" cy="330.7" r="1.3"/><circle cx="204.5" cy="350.5" r="1.3"/><circle cx="219.3" cy="328.7" r="1.3"/><circle cx="209.8" cy="358.3" r="1.3"/><circle cx="213.9" cy="344.7" r="1.3"/><circle cx="209.8" cy="344.3" r="1.3"/><circle cx="222.0" cy="331.6" r="1.3"/><circle cx="216.8" cy="334.0" r="1.3"/><circle cx="200.8" cy="338.4" r="1.3"/><circle cx="209.6" cy="348.6" r="1.3"/><circle cx="213.7" cy="357.4" r="1.3"/><circle cx="217.5" cy="349.2" r="1.3"/><circle cx="215.1" cy="353.5" r="1.3"/><circle cx="200.4" cy="359.1" r="1.3"/><circle cx="211.8" cy="352.7" r="1.3"/><circle cx="219.4" cy="349.2" r="1.3"/><circle cx="210.8" cy="342.4" r="1.3"/><circle cx="213.5" cy="330.4" r="1.3"/><circle cx="208.3" cy="339.8" r="1.3"/><circle cx="216.9" cy="353.6" r="1.3"/><circle cx="220.9" cy="338.8" r="1.3"/><circle cx="210.1" cy="330.5" r="1.3"/><circle cx="203.2" cy="312.5" r="1.3"/><circle cx="209.9" cy="356.2" r="1.3"/><circle cx="204.6" cy="345.6" r="1.3"/><circle cx="207.3" cy="361.7" r="1.3"/><circle cx="203.9" cy="344.9" r="1.3"/><circle cx="198.9" cy="345.9" r="1.3"/><circle cx="198.6" cy="352.2" r="1.3"/><circle cx="199.6" cy="342.6" r="1.3"/><circle cx="236.0" cy="288.6" r="1.3"/><circle cx="204.4" cy="321.3" r="1.3"/><circle cx="234.2" cy="300.5" r="1.3"/><circle cx="213.0" cy="344.8" r="1.3"/><circle cx="243.9" cy="330.2" r="1.3"/><circle cx="201.3" cy="360.3" r="1.3"/><circle cx="217.1" cy="333.1" r="1.3"/><circle cx="208.5" cy="328.8" r="1.3"/><circle cx="210.7" cy="340.3" r="1.3"/><circle cx="205.4" cy="359.2" r="1.3"/><circle cx="208.8" cy="352.6" r="1.3"/><circle cx="212.6" cy="337.0" r="1.3"/><circle cx="216.1" cy="345.6" r="1.3"/><circle cx="209.5" cy="344.5" r="1.3"/><circle cx="218.0" cy="314.1" r="1.3"/><circle cx="213.6" cy="358.6" r="1.3"/><circle cx="225.2" cy="316.1" r="1.3"/><circle cx="210.5" cy="341.9" r="1.3"/><circle cx="215.9" cy="342.0" r="1.3"/><circle cx="208.8" cy="341.6" r="1.3"/><circle cx="202.7" cy="359.1" r="1.3"/><circle cx="208.4" cy="352.4" r="1.3"/><circle cx="222.0" cy="339.2" r="1.3"/><circle cx="229.0" cy="327.4" r="1.3"/><circle cx="213.0" cy="345.4" r="1.3"/><circle cx="228.0" cy="335.9" r="1.3"/><circle cx="203.1" cy="355.4" r="1.3"/><circle cx="211.2" cy="352.4" r="1.3"/><circle cx="222.7" cy="350.9" r="1.3"/><circle cx="204.7" cy="359.5" r="1.3"/><circle cx="206.8" cy="350.4" r="1.3"/><circle cx="203.0" cy="353.8" r="1.3"/><circle cx="214.3" cy="347.9" r="1.3"/><circle cx="212.4" cy="324.5" r="1.3"/><circle cx="205.7" cy="349.7" r="1.3"/><circle cx="208.8" cy="357.3" r="1.3"/><circle cx="202.9" cy="345.7" r="1.3"/><circle cx="207.1" cy="347.2" r="1.3"/><circle cx="207.9" cy="351.8" r="1.3"/><circle cx="210.2" cy="356.1" r="1.3"/><circle cx="205.6" cy="359.2" r="1.3"/><circle cx="211.3" cy="348.9" r="1.3"/><circle cx="220.7" cy="327.8" r="1.3"/><circle cx="215.2" cy="329.0" r="1.3"/><circle cx="201.5" cy="359.8" r="1.3"/><circle cx="203.0" cy="358.4" r="1.3"/><circle cx="217.7" cy="332.3" r="1.3"/><circle cx="207.9" cy="352.6" r="1.3"/><circle cx="209.0" cy="351.7" r="1.3"/><circle cx="226.2" cy="348.8" r="1.3"/><circle cx="210.4" cy="343.6" r="1.3"/><circle cx="229.5" cy="289.6" r="1.3"/><circle cx="221.8" cy="295.1" r="1.3"/><circle cx="218.2" cy="351.7" r="1.3"/><circle cx="210.7" cy="335.7" r="1.3"/><circle cx="212.5" cy="329.9" r="1.3"/><circle cx="199.0" cy="345.8" r="1.3"/><circle cx="223.6" cy="312.3" r="1.3"/><circle cx="219.0" cy="334.2" r="1.3"/><circle cx="214.0" cy="352.4" r="1.3"/><circle cx="216.8" cy="355.7" r="1.3"/><circle cx="214.0" cy="348.6" r="1.3"/><circle cx="211.2" cy="337.5" r="1.3"/><circle cx="204.3" cy="347.5" r="1.3"/><circle cx="213.4" cy="349.0" r="1.3"/><circle cx="230.3" cy="342.7" r="1.3"/><circle cx="215.9" cy="353.3" r="1.3"/><circle cx="231.4" cy="336.2" r="1.3"/><circle cx="206.5" cy="322.4" r="1.3"/><circle cx="203.1" cy="335.5" r="1.3"/><circle cx="212.0" cy="344.6" r="1.3"/><circle cx="234.5" cy="318.3" r="1.3"/><circle cx="211.5" cy="339.8" r="1.3"/><circle cx="219.6" cy="311.4" r="1.3"/><circle cx="203.7" cy="349.8" r="1.3"/><circle cx="218.7" cy="345.7" r="1.3"/><circle cx="219.6" cy="332.0" r="1.3"/><circle cx="249.6" cy="285.6" r="1.3"/><circle cx="199.0" cy="357.9" r="1.3"/><circle cx="210.9" cy="353.3" r="1.3"/><circle cx="214.1" cy="355.3" r="1.3"/><circle cx="217.0" cy="348.9" r="1.3"/><circle cx="209.1" cy="349.8" r="1.3"/><circle cx="202.8" cy="335.2" r="1.3"/><circle cx="206.7" cy="362.5" r="1.3"/><circle cx="203.1" cy="355.2" r="1.3"/><circle cx="206.9" cy="349.9" r="1.3"/><circle cx="207.4" cy="340.3" r="1.3"/><circle cx="203.6" cy="344.0" r="1.3"/><circle cx="202.0" cy="359.7" r="1.3"/><circle cx="207.4" cy="343.1" r="1.3"/><circle cx="213.2" cy="342.4" r="1.3"/><circle cx="202.5" cy="351.5" r="1.3"/><circle cx="214.0" cy="357.7" r="1.3"/><circle cx="217.7" cy="315.0" r="1.3"/><circle cx="220.4" cy="321.0" r="1.3"/><circle cx="225.1" cy="348.1" r="1.3"/><circle cx="204.7" cy="338.0" r="1.3"/><circle cx="203.2" cy="357.9" r="1.3"/><circle cx="203.2" cy="335.7" r="1.3"/><circle cx="225.0" cy="320.7" r="1.3"/><circle cx="209.7" cy="344.7" r="1.3"/><circle cx="209.1" cy="347.0" r="1.3"/><circle cx="200.6" cy="332.2" r="1.3"/><circle cx="202.2" cy="366.5" r="1.3"/><circle cx="206.3" cy="338.0" r="1.3"/><circle cx="204.6" cy="345.1" r="1.3"/><circle cx="208.3" cy="358.2" r="1.3"/><circle cx="211.4" cy="358.6" r="1.3"/><circle cx="214.8" cy="343.7" r="1.3"/><circle cx="203.4" cy="356.6" r="1.3"/><circle cx="210.1" cy="357.5" r="1.3"/><circle cx="208.8" cy="349.2" r="1.3"/><circle cx="224.3" cy="351.7" r="1.3"/><circle cx="222.4" cy="324.4" r="1.3"/><circle cx="221.7" cy="325.7" r="1.3"/><circle cx="229.6" cy="338.5" r="1.3"/><circle cx="207.3" cy="339.5" r="1.3"/><circle cx="245.2" cy="301.9" r="1.3"/><circle cx="215.6" cy="326.0" r="1.3"/><circle cx="218.2" cy="345.2" r="1.3"/><circle cx="212.1" cy="318.1" r="1.3"/><circle cx="218.9" cy="310.0" r="1.3"/><circle cx="211.8" cy="338.4" r="1.3"/><circle cx="202.7" cy="359.5" r="1.3"/><circle cx="199.4" cy="347.4" r="1.3"/><circle cx="213.9" cy="339.8" r="1.3"/><circle cx="230.6" cy="336.2" r="1.3"/><circle cx="207.8" cy="336.6" r="1.3"/><circle cx="201.9" cy="337.3" r="1.3"/><circle cx="215.3" cy="331.7" r="1.3"/><circle cx="213.5" cy="335.1" r="1.3"/><circle cx="214.8" cy="324.2" r="1.3"/><circle cx="200.6" cy="350.0" r="1.3"/><circle cx="209.9" cy="352.9" r="1.3"/><circle cx="218.9" cy="328.9" r="1.3"/><circle cx="203.1" cy="350.0" r="1.3"/><circle cx="204.6" cy="342.9" r="1.3"/><circle cx="206.2" cy="356.0" r="1.3"/><circle cx="219.1" cy="336.1" r="1.3"/><circle cx="206.8" cy="344.6" r="1.3"/><circle cx="207.7" cy="358.7" r="1.3"/><circle cx="215.6" cy="331.8" r="1.3"/><circle cx="215.9" cy="339.5" r="1.3"/><circle cx="208.3" cy="344.0" r="1.3"/><circle cx="198.5" cy="356.6" r="1.3"/><circle cx="212.4" cy="342.8" r="1.3"/><circle cx="213.3" cy="351.0" r="1.3"/><circle cx="232.1" cy="322.7" r="1.3"/><circle cx="207.0" cy="344.9" r="1.3"/><circle cx="201.9" cy="311.2" r="1.3"/><circle cx="206.9" cy="337.1" r="1.3"/><circle cx="215.0" cy="340.5" r="1.3"/><circle cx="214.5" cy="351.4" r="1.3"/><circle cx="221.2" cy="346.3" r="1.3"/><circle cx="209.3" cy="327.5" r="1.3"/><circle cx="213.9" cy="352.2" r="1.3"/><circle cx="211.4" cy="348.3" r="1.3"/><circle cx="201.6" cy="339.3" r="1.3"/><circle cx="198.3" cy="350.7" r="1.3"/><circle cx="218.9" cy="345.4" r="1.3"/><circle cx="199.6" cy="350.4" r="1.3"/><circle cx="227.4" cy="333.3" r="1.3"/><circle cx="205.6" cy="342.4" r="1.3"/><circle cx="214.5" cy="342.9" r="1.3"/><circle cx="207.8" cy="354.1" r="1.3"/><circle cx="210.7" cy="345.0" r="1.3"/><circle cx="203.6" cy="353.1" r="1.3"/><circle cx="199.1" cy="353.9" r="1.3"/><circle cx="206.9" cy="356.2" r="1.3"/><circle cx="214.1" cy="355.4" r="1.3"/><circle cx="230.1" cy="309.0" r="1.3"/><circle cx="202.7" cy="342.5" r="1.3"/><circle cx="223.6" cy="343.8" r="1.3"/><circle cx="201.8" cy="342.4" r="1.3"/><circle cx="220.5" cy="317.0" r="1.3"/><circle cx="211.8" cy="315.5" r="1.3"/><circle cx="199.1" cy="341.0" r="1.3"/><circle cx="205.1" cy="324.8" r="1.3"/><circle cx="209.2" cy="335.9" r="1.3"/><circle cx="206.4" cy="353.2" r="1.3"/><circle cx="204.4" cy="357.1" r="1.3"/><circle cx="201.2" cy="334.3" r="1.3"/><circle cx="206.5" cy="344.7" r="1.3"/><circle cx="238.0" cy="331.8" r="1.3"/><circle cx="212.9" cy="357.2" r="1.3"/><circle cx="211.5" cy="355.9" r="1.3"/><circle cx="199.4" cy="344.1" r="1.3"/><circle cx="212.1" cy="334.2" r="1.3"/><circle cx="215.9" cy="332.8" r="1.3"/><circle cx="212.8" cy="343.1" r="1.3"/><circle cx="205.6" cy="344.9" r="1.3"/><circle cx="217.3" cy="319.7" r="1.3"/><circle cx="212.6" cy="347.0" r="1.3"/><circle cx="202.0" cy="349.8" r="1.3"/><circle cx="218.3" cy="357.8" r="1.3"/><circle cx="202.8" cy="346.6" r="1.3"/><circle cx="233.7" cy="324.1" r="1.3"/><circle cx="199.6" cy="355.3" r="1.3"/><circle cx="206.8" cy="366.9" r="1.3"/><circle cx="212.9" cy="350.9" r="1.3"/><circle cx="200.1" cy="349.5" r="1.3"/><circle cx="198.7" cy="352.3" r="1.3"/><circle cx="208.7" cy="338.6" r="1.3"/><circle cx="209.5" cy="352.7" r="1.3"/><circle cx="200.3" cy="353.7" r="1.3"/><circle cx="210.0" cy="350.9" r="1.3"/><circle cx="205.6" cy="343.4" r="1.3"/><circle cx="214.3" cy="352.8" r="1.3"/><circle cx="224.9" cy="326.1" r="1.3"/><circle cx="215.6" cy="348.2" r="1.3"/><circle cx="224.9" cy="329.4" r="1.3"/><circle cx="216.5" cy="333.4" r="1.3"/><circle cx="215.5" cy="320.2" r="1.3"/><circle cx="206.7" cy="338.2" r="1.3"/><circle cx="229.9" cy="308.8" r="1.3"/><circle cx="206.7" cy="351.9" r="1.3"/><circle cx="205.4" cy="352.0" r="1.3"/><circle cx="199.8" cy="348.3" r="1.3"/><circle cx="207.9" cy="331.5" r="1.3"/><circle cx="206.6" cy="357.2" r="1.3"/><circle cx="224.1" cy="306.4" r="1.3"/><circle cx="220.1" cy="346.3" r="1.3"/><circle cx="213.9" cy="349.5" r="1.3"/><circle cx="208.9" cy="358.4" r="1.3"/><circle cx="211.1" cy="331.3" r="1.3"/><circle cx="219.9" cy="329.5" r="1.3"/><circle cx="215.2" cy="348.0" r="1.3"/><circle cx="205.3" cy="337.7" r="1.3"/><circle cx="210.5" cy="344.3" r="1.3"/><circle cx="205.0" cy="354.0" r="1.3"/><circle cx="209.3" cy="332.1" r="1.3"/><circle cx="213.5" cy="337.2" r="1.3"/><circle cx="200.6" cy="344.8" r="1.3"/><circle cx="218.7" cy="340.9" r="1.3"/><circle cx="204.2" cy="334.7" r="1.3"/><circle cx="217.1" cy="350.9" r="1.3"/><circle cx="198.4" cy="355.4" r="1.3"/><circle cx="205.8" cy="354.4" r="1.3"/><circle cx="211.2" cy="343.9" r="1.3"/><circle cx="202.6" cy="321.5" r="1.3"/><circle cx="217.1" cy="346.4" r="1.3"/><circle cx="203.0" cy="349.7" r="1.3"/><circle cx="201.3" cy="353.4" r="1.3"/><circle cx="204.4" cy="356.4" r="1.3"/><circle cx="226.2" cy="347.4" r="1.3"/><circle cx="205.7" cy="356.6" r="1.3"/><circle cx="205.7" cy="348.3" r="1.3"/><circle cx="221.6" cy="319.6" r="1.3"/><circle cx="212.5" cy="319.4" r="1.3"/><circle cx="203.5" cy="346.6" r="1.3"/><circle cx="213.8" cy="338.1" r="1.3"/><circle cx="215.8" cy="340.3" r="1.3"/><circle cx="224.8" cy="323.6" r="1.3"/><circle cx="217.4" cy="348.0" r="1.3"/><circle cx="210.7" cy="339.0" r="1.3"/><circle cx="205.2" cy="342.9" r="1.3"/><circle cx="219.3" cy="350.3" r="1.3"/><circle cx="211.3" cy="312.9" r="1.3"/><circle cx="218.6" cy="339.3" r="1.3"/><circle cx="236.8" cy="329.4" r="1.3"/><circle cx="217.0" cy="336.7" r="1.3"/><circle cx="210.3" cy="336.1" r="1.3"/><circle cx="214.8" cy="354.7" r="1.3"/><circle cx="217.0" cy="345.9" r="1.3"/><circle cx="216.4" cy="352.7" r="1.3"/><circle cx="232.9" cy="338.2" r="1.3"/><circle cx="199.4" cy="346.8" r="1.3"/><circle cx="213.7" cy="347.2" r="1.3"/><circle cx="218.0" cy="341.4" r="1.3"/><circle cx="212.6" cy="319.3" r="1.3"/><circle cx="201.3" cy="349.1" r="1.3"/><circle cx="213.9" cy="343.0" r="1.3"/><circle cx="198.8" cy="352.8" r="1.3"/><circle cx="210.9" cy="353.2" r="1.3"/><circle cx="229.1" cy="347.6" r="1.3"/><circle cx="221.5" cy="292.7" r="1.3"/><circle cx="200.7" cy="341.9" r="1.3"/><circle cx="214.1" cy="359.5" r="1.3"/><circle cx="209.4" cy="334.5" r="1.3"/><circle cx="201.4" cy="348.1" r="1.3"/><circle cx="204.5" cy="353.0" r="1.3"/><circle cx="205.5" cy="357.0" r="1.3"/><circle cx="208.2" cy="356.2" r="1.3"/><circle cx="209.0" cy="334.4" r="1.3"/><circle cx="208.8" cy="343.6" r="1.3"/><circle cx="201.0" cy="349.5" r="1.3"/><circle cx="224.5" cy="316.1" r="1.3"/><circle cx="201.2" cy="350.4" r="1.3"/><circle cx="212.6" cy="347.3" r="1.3"/><circle cx="214.8" cy="346.0" r="1.3"/><circle cx="204.3" cy="330.5" r="1.3"/><circle cx="206.2" cy="333.1" r="1.3"/><circle cx="249.3" cy="308.9" r="1.3"/><circle cx="208.8" cy="331.4" r="1.3"/><circle cx="225.4" cy="338.8" r="1.3"/><circle cx="200.3" cy="333.4" r="1.3"/><circle cx="215.3" cy="351.0" r="1.3"/><circle cx="217.4" cy="341.9" r="1.3"/><circle cx="234.5" cy="331.1" r="1.3"/><circle cx="199.7" cy="355.6" r="1.3"/><circle cx="208.1" cy="347.1" r="1.3"/><circle cx="226.8" cy="339.4" r="1.3"/><circle cx="206.7" cy="329.5" r="1.3"/><circle cx="220.7" cy="324.1" r="1.3"/><circle cx="226.8" cy="330.2" r="1.3"/><circle cx="216.8" cy="346.2" r="1.3"/><circle cx="213.6" cy="355.0" r="1.3"/><circle cx="198.4" cy="346.3" r="1.3"/></g>
<polyline points="196.50,349.70 271.40,325.10" fill="none" stroke="#2c6fb5" stroke-width="1.35" />
<line x1="196.50" y1="283.00" x2="196.50" y2="369.60" stroke="#808080" stroke-width="0.7" />
<line x1="196.50" y1="369.60" x2="271.90" y2="369.60" stroke="#808080" stroke-width="0.7" />
<line x1="197.00" y1="369.60" x2="197.00" y2="368.60" stroke="#808080" stroke-width="0.5" />
<text x="197.00" y="378.60" font-size="6.8" fill="#3a3a3a" text-anchor="middle" stroke="#3a3a3a" stroke-width="0.08">0</text>
<line x1="221.80" y1="369.60" x2="221.80" y2="368.60" stroke="#808080" stroke-width="0.5" />
<text x="221.80" y="378.60" font-size="6.8" fill="#3a3a3a" text-anchor="middle" stroke="#3a3a3a" stroke-width="0.08">0.05</text>
<line x1="245.90" y1="369.60" x2="245.90" y2="368.60" stroke="#808080" stroke-width="0.5" />
<text x="245.90" y="378.60" font-size="6.8" fill="#3a3a3a" text-anchor="middle" stroke="#3a3a3a" stroke-width="0.08">0.1</text>
<line x1="268.90" y1="369.60" x2="268.90" y2="368.60" stroke="#808080" stroke-width="0.5" />
<text x="268.90" y="378.60" font-size="6.8" fill="#3a3a3a" text-anchor="middle" stroke="#3a3a3a" stroke-width="0.08">0.15</text>
<line x1="196.50" y1="283.00" x2="197.50" y2="283.00" stroke="#808080" stroke-width="0.5" />
<line x1="196.50" y1="312.20" x2="197.50" y2="312.20" stroke="#808080" stroke-width="0.5" />
<line x1="196.50" y1="340.90" x2="197.50" y2="340.90" stroke="#808080" stroke-width="0.5" />
<line x1="196.50" y1="369.60" x2="197.50" y2="369.60" stroke="#808080" stroke-width="0.5" />
<text x="213.70" y="387.40" font-size="7.2" fill="#3a3a3a" textLength="41.40" lengthAdjust="spacingAndGlyphs" stroke="#3a3a3a" stroke-width="0.08">Amplitude of</text>
<text x="210.30" y="396.30" font-size="7.2" fill="#3a3a3a" textLength="50.50" lengthAdjust="spacingAndGlyphs" stroke="#3a3a3a" stroke-width="0.08">long Akt waves</text>
<text x="259.20" y="316.20" font-size="6.8" fill="#222" font-style="italic" textLength="11.30" lengthAdjust="spacingAndGlyphs" stroke="#222" stroke-width="0.08">80th</text>
<text x="259.20" y="327.70" font-size="6.8" fill="#222" font-style="italic" textLength="11.30" lengthAdjust="spacingAndGlyphs" stroke="#222" stroke-width="0.08">50th</text>
<text x="259.20" y="340.80" font-size="6.8" fill="#222" font-style="italic" textLength="11.30" lengthAdjust="spacingAndGlyphs" stroke="#222" stroke-width="0.08">20th</text>
<polygon points="286.00,340.50 360.70,308.30 360.70,338.20 286.00,356.60" fill="#f6b47a" fill-opacity="0.92"/>
<g fill="#555" fill-opacity="0.075" filter="url(#blr)"><circle cx="298.4" cy="354.3" r="1.3"/><circle cx="317.5" cy="308.6" r="1.3"/><circle cx="328.7" cy="316.4" r="1.3"/><circle cx="316.5" cy="349.0" r="1.3"/><circle cx="295.5" cy="350.6" r="1.3"/><circle cx="292.4" cy="354.1" r="1.3"/><circle cx="312.9" cy="334.5" r="1.3"/><circle cx="303.9" cy="349.5" r="1.3"/><circle cx="298.8" cy="344.3" r="1.3"/><circle cx="313.0" cy="321.1" r="1.3"/><circle cx="295.2" cy="352.7" r="1.3"/><circle cx="313.7" cy="336.3" r="1.3"/><circle cx="293.5" cy="357.7" r="1.3"/><circle cx="309.9" cy="344.8" r="1.3"/><circle cx="303.7" cy="348.4" r="1.3"/><circle cx="288.2" cy="348.8" r="1.3"/><circle cx="308.5" cy="348.7" r="1.3"/><circle cx="306.3" cy="345.9" r="1.3"/><circle cx="303.7" cy="321.9" r="1.3"/><circle cx="311.2" cy="338.8" r="1.3"/><circle cx="295.4" cy="347.2" r="1.3"/><circle cx="325.5" cy="320.1" r="1.3"/><circle cx="305.6" cy="346.5" r="1.3"/><circle cx="303.1" cy="353.1" r="1.3"/><circle cx="294.9" cy="351.0" r="1.3"/><circle cx="304.0" cy="353.4" r="1.3"/><circle cx="290.0" cy="354.2" r="1.3"/><circle cx="304.1" cy="354.1" r="1.3"/><circle cx="291.6" cy="329.8" r="1.3"/><circle cx="298.5" cy="341.1" r="1.3"/><circle cx="302.8" cy="341.6" r="1.3"/><circle cx="296.1" cy="355.4" r="1.3"/><circle cx="301.6" cy="349.7" r="1.3"/><circle cx="288.0" cy="348.9" r="1.3"/><circle cx="301.9" cy="324.5" r="1.3"/><circle cx="298.2" cy="357.4" r="1.3"/><circle cx="294.8" cy="356.2" r="1.3"/><circle cx="296.9" cy="334.8" r="1.3"/><circle cx="307.5" cy="340.8" r="1.3"/><circle cx="295.4" cy="351.3" r="1.3"/><circle cx="320.5" cy="328.2" r="1.3"/><circle cx="318.8" cy="294.6" r="1.3"/><circle cx="305.3" cy="337.0" r="1.3"/><circle cx="302.3" cy="329.8" r="1.3"/><circle cx="306.8" cy="340.1" r="1.3"/><circle cx="315.9" cy="333.3" r="1.3"/><circle cx="298.5" cy="348.5" r="1.3"/><circle cx="293.8" cy="337.2" r="1.3"/><circle cx="294.2" cy="351.4" r="1.3"/><circle cx="297.1" cy="350.5" r="1.3"/><circle cx="305.3" cy="352.9" r="1.3"/><circle cx="296.0" cy="348.2" r="1.3"/><circle cx="304.3" cy="355.9" r="1.3"/><circle cx="297.5" cy="356.4" r="1.3"/><circle cx="297.3" cy="332.6" r="1.3"/><circle cx="295.4" cy="356.6" r="1.3"/><circle cx="302.4" cy="346.5" r="1.3"/><circle cx="297.6" cy="350.0" r="1.3"/><circle cx="298.1" cy="355.0" r="1.3"/><circle cx="302.7" cy="327.5" r="1.3"/><circle cx="293.7" cy="348.2" r="1.3"/><circle cx="316.4" cy="330.5" r="1.3"/><circle cx="308.5" cy="358.2" r="1.3"/><circle cx="308.3" cy="351.3" r="1.3"/><circle cx="290.0" cy="350.4" r="1.3"/><circle cx="303.2" cy="342.0" r="1.3"/><circle cx="308.5" cy="325.9" r="1.3"/><circle cx="310.4" cy="313.8" r="1.3"/><circle cx="315.6" cy="325.1" r="1.3"/><circle cx="298.2" cy="358.0" r="1.3"/><circle cx="299.7" cy="355.8" r="1.3"/><circle cx="288.9" cy="350.0" r="1.3"/><circle cx="294.3" cy="345.6" r="1.3"/><circle cx="295.4" cy="327.6" r="1.3"/><circle cx="291.1" cy="301.2" r="1.3"/><circle cx="289.7" cy="358.5" r="1.3"/><circle cx="318.2" cy="352.2" r="1.3"/><circle cx="298.8" cy="337.2" r="1.3"/><circle cx="309.2" cy="329.4" r="1.3"/><circle cx="295.6" cy="341.3" r="1.3"/><circle cx="298.6" cy="360.3" r="1.3"/><circle cx="304.3" cy="338.4" r="1.3"/><circle cx="292.3" cy="355.4" r="1.3"/><circle cx="299.1" cy="359.0" r="1.3"/><circle cx="304.0" cy="352.4" r="1.3"/><circle cx="319.1" cy="341.6" r="1.3"/><circle cx="308.8" cy="345.6" r="1.3"/><circle cx="296.1" cy="353.9" r="1.3"/><circle cx="296.9" cy="335.6" r="1.3"/><circle cx="305.2" cy="352.8" r="1.3"/><circle cx="301.5" cy="352.8" r="1.3"/><circle cx="296.9" cy="337.8" r="1.3"/><circle cx="303.1" cy="348.9" r="1.3"/><circle cx="307.6" cy="337.0" r="1.3"/><circle cx="301.4" cy="350.2" r="1.3"/><circle cx="295.4" cy="348.6" r="1.3"/><circle cx="305.7" cy="346.5" r="1.3"/><circle cx="304.8" cy="351.1" r="1.3"/><circle cx="293.9" cy="354.8" r="1.3"/><circle cx="291.6" cy="359.7" r="1.3"/><circle cx="297.4" cy="351.7" r="1.3"/><circle cx="300.4" cy="338.6" r="1.3"/><circle cx="317.4" cy="327.0" r="1.3"/><circle cx="301.2" cy="350.6" r="1.3"/><circle cx="292.2" cy="363.3" r="1.3"/><circle cx="308.4" cy="359.6" r="1.3"/><circle cx="300.8" cy="358.9" r="1.3"/><circle cx="314.2" cy="295.0" r="1.3"/><circle cx="297.2" cy="361.8" r="1.3"/><circle cx="325.7" cy="318.4" r="1.3"/><circle cx="319.4" cy="342.4" r="1.3"/><circle cx="287.8" cy="356.7" r="1.3"/><circle cx="296.9" cy="344.0" r="1.3"/><circle cx="309.3" cy="350.4" r="1.3"/><circle cx="294.2" cy="327.4" r="1.3"/><circle cx="324.6" cy="286.0" r="1.3"/><circle cx="330.5" cy="351.8" r="1.3"/><circle cx="303.9" cy="357.3" r="1.3"/><circle cx="305.3" cy="299.7" r="1.3"/><circle cx="298.4" cy="359.6" r="1.3"/><circle cx="295.3" cy="359.4" r="1.3"/><circle cx="324.7" cy="296.2" r="1.3"/><circle cx="306.1" cy="344.6" r="1.3"/><circle cx="292.9" cy="354.3" r="1.3"/><circle cx="300.1" cy="346.9" r="1.3"/><circle cx="303.8" cy="343.4" r="1.3"/><circle cx="310.3" cy="331.1" r="1.3"/><circle cx="301.4" cy="329.3" r="1.3"/><circle cx="296.4" cy="356.1" r="1.3"/><circle cx="292.2" cy="346.2" r="1.3"/><circle cx="292.4" cy="352.0" r="1.3"/><circle cx="296.5" cy="352.6" r="1.3"/><circle cx="295.0" cy="352.6" r="1.3"/><circle cx="309.8" cy="326.2" r="1.3"/><circle cx="302.4" cy="350.3" r="1.3"/><circle cx="304.2" cy="342.7" r="1.3"/><circle cx="294.4" cy="341.6" r="1.3"/><circle cx="291.6" cy="351.6" r="1.3"/><circle cx="318.6" cy="336.8" r="1.3"/><circle cx="304.5" cy="349.1" r="1.3"/><circle cx="301.3" cy="352.1" r="1.3"/><circle cx="308.7" cy="352.6" r="1.3"/><circle cx="303.5" cy="356.9" r="1.3"/><circle cx="322.1" cy="343.4" r="1.3"/><circle cx="293.7" cy="348.3" r="1.3"/><circle cx="298.6" cy="355.9" r="1.3"/><circle cx="298.6" cy="349.2" r="1.3"/><circle cx="309.0" cy="358.7" r="1.3"/><circle cx="294.0" cy="349.1" r="1.3"/><circle cx="341.0" cy="298.7" r="1.3"/><circle cx="293.4" cy="360.4" r="1.3"/><circle cx="295.2" cy="342.1" r="1.3"/><circle cx="307.9" cy="340.8" r="1.3"/><circle cx="289.2" cy="352.7" r="1.3"/><circle cx="297.2" cy="356.2" r="1.3"/><circle cx="303.2" cy="350.3" r="1.3"/><circle cx="295.5" cy="355.2" r="1.3"/><circle cx="295.8" cy="353.6" r="1.3"/><circle cx="303.5" cy="350.7" r="1.3"/><circle cx="294.3" cy="337.7" r="1.3"/><circle cx="290.8" cy="350.2" r="1.3"/><circle cx="306.5" cy="346.9" r="1.3"/><circle cx="324.2" cy="308.4" r="1.3"/><circle cx="293.8" cy="356.8" r="1.3"/><circle cx="293.9" cy="356.0" r="1.3"/><circle cx="302.7" cy="316.6" r="1.3"/><circle cx="301.6" cy="348.8" r="1.3"/><circle cx="315.1" cy="343.8" r="1.3"/><circle cx="289.6" cy="349.0" r="1.3"/><circle cx="313.6" cy="315.9" r="1.3"/><circle cx="292.8" cy="356.0" r="1.3"/><circle cx="292.7" cy="335.9" r="1.3"/><circle cx="310.7" cy="340.5" r="1.3"/><circle cx="298.8" cy="328.8" r="1.3"/><circle cx="312.9" cy="348.5" r="1.3"/><circle cx="302.3" cy="339.3" r="1.3"/><circle cx="297.8" cy="358.6" r="1.3"/><circle cx="290.8" cy="338.0" r="1.3"/><circle cx="306.3" cy="330.8" r="1.3"/><circle cx="289.1" cy="297.2" r="1.3"/><circle cx="304.3" cy="328.5" r="1.3"/><circle cx="314.9" cy="323.7" r="1.3"/><circle cx="321.1" cy="341.7" r="1.3"/><circle cx="312.6" cy="341.7" r="1.3"/><circle cx="301.1" cy="355.0" r="1.3"/><circle cx="292.0" cy="325.1" r="1.3"/><circle cx="299.4" cy="355.6" r="1.3"/><circle cx="298.2" cy="358.9" r="1.3"/><circle cx="309.8" cy="322.7" r="1.3"/><circle cx="300.8" cy="349.7" r="1.3"/><circle cx="299.2" cy="348.6" r="1.3"/><circle cx="290.5" cy="333.4" r="1.3"/><circle cx="299.4" cy="328.6" r="1.3"/><circle cx="330.0" cy="315.1" r="1.3"/><circle cx="298.8" cy="358.5" r="1.3"/><circle cx="298.5" cy="357.2" r="1.3"/><circle cx="306.1" cy="324.2" r="1.3"/><circle cx="298.8" cy="338.3" r="1.3"/><circle cx="291.1" cy="356.4" r="1.3"/><circle cx="303.3" cy="347.0" r="1.3"/><circle cx="287.6" cy="348.1" r="1.3"/><circle cx="290.1" cy="354.6" r="1.3"/><circle cx="332.5" cy="322.7" r="1.3"/><circle cx="306.1" cy="342.3" r="1.3"/><circle cx="306.4" cy="341.8" r="1.3"/><circle cx="295.2" cy="347.1" r="1.3"/><circle cx="294.4" cy="291.1" r="1.3"/><circle cx="298.8" cy="359.4" r="1.3"/><circle cx="305.2" cy="350.5" r="1.3"/><circle cx="299.9" cy="353.6" r="1.3"/><circle cx="302.9" cy="354.3" r="1.3"/><circle cx="300.5" cy="345.1" r="1.3"/><circle cx="309.7" cy="305.8" r="1.3"/><circle cx="290.4" cy="344.1" r="1.3"/><circle cx="311.3" cy="333.3" r="1.3"/><circle cx="288.1" cy="350.7" r="1.3"/><circle cx="295.0" cy="333.5" r="1.3"/><circle cx="294.4" cy="349.8" r="1.3"/><circle cx="321.5" cy="321.6" r="1.3"/><circle cx="290.6" cy="344.2" r="1.3"/><circle cx="291.7" cy="351.2" r="1.3"/><circle cx="289.9" cy="347.5" r="1.3"/><circle cx="309.8" cy="329.3" r="1.3"/><circle cx="301.2" cy="338.6" r="1.3"/><circle cx="302.6" cy="357.3" r="1.3"/><circle cx="303.0" cy="345.2" r="1.3"/><circle cx="297.9" cy="349.6" r="1.3"/><circle cx="302.7" cy="346.1" r="1.3"/><circle cx="294.0" cy="340.4" r="1.3"/><circle cx="297.3" cy="363.8" r="1.3"/><circle cx="308.4" cy="325.4" r="1.3"/><circle cx="300.8" cy="356.5" r="1.3"/><circle cx="335.5" cy="323.9" r="1.3"/><circle cx="301.3" cy="347.5" r="1.3"/><circle cx="297.9" cy="347.4" r="1.3"/><circle cx="300.1" cy="353.5" r="1.3"/><circle cx="294.8" cy="352.2" r="1.3"/><circle cx="295.6" cy="344.0" r="1.3"/><circle cx="308.9" cy="307.6" r="1.3"/><circle cx="293.6" cy="311.0" r="1.3"/><circle cx="306.4" cy="339.6" r="1.3"/><circle cx="302.2" cy="345.5" r="1.3"/><circle cx="287.8" cy="332.1" r="1.3"/><circle cx="292.6" cy="347.4" r="1.3"/><circle cx="321.9" cy="302.1" r="1.3"/><circle cx="311.4" cy="329.2" r="1.3"/><circle cx="299.4" cy="350.5" r="1.3"/><circle cx="293.9" cy="355.4" r="1.3"/><circle cx="305.6" cy="355.7" r="1.3"/><circle cx="294.5" cy="353.0" r="1.3"/><circle cx="289.3" cy="353.8" r="1.3"/><circle cx="292.1" cy="361.3" r="1.3"/><circle cx="287.7" cy="356.3" r="1.3"/><circle cx="300.9" cy="356.1" r="1.3"/><circle cx="300.5" cy="356.7" r="1.3"/><circle cx="296.8" cy="356.8" r="1.3"/><circle cx="289.8" cy="345.1" r="1.3"/><circle cx="311.8" cy="335.3" r="1.3"/><circle cx="297.6" cy="338.4" r="1.3"/><circle cx="301.1" cy="329.7" r="1.3"/><circle cx="309.8" cy="308.4" r="1.3"/><circle cx="296.4" cy="338.8" r="1.3"/><circle cx="295.1" cy="342.1" r="1.3"/><circle cx="300.5" cy="349.0" r="1.3"/><circle cx="298.1" cy="352.5" r="1.3"/><circle cx="300.0" cy="360.3" r="1.3"/><circle cx="299.1" cy="342.8" r="1.3"/><circle cx="300.3" cy="332.2" r="1.3"/><circle cx="299.4" cy="337.3" r="1.3"/><circle cx="307.0" cy="330.4" r="1.3"/><circle cx="317.9" cy="348.5" r="1.3"/><circle cx="306.7" cy="328.3" r="1.3"/><circle cx="308.6" cy="321.3" r="1.3"/><circle cx="317.2" cy="303.9" r="1.3"/><circle cx="312.2" cy="325.4" r="1.3"/><circle cx="307.5" cy="337.8" r="1.3"/><circle cx="307.6" cy="328.0" r="1.3"/><circle cx="289.3" cy="335.0" r="1.3"/><circle cx="296.3" cy="345.4" r="1.3"/><circle cx="287.6" cy="349.9" r="1.3"/><circle cx="295.9" cy="347.8" r="1.3"/><circle cx="290.8" cy="343.4" r="1.3"/><circle cx="321.7" cy="322.4" r="1.3"/><circle cx="300.4" cy="351.3" r="1.3"/><circle cx="317.0" cy="305.9" r="1.3"/><circle cx="304.7" cy="357.8" r="1.3"/><circle cx="293.4" cy="343.9" r="1.3"/><circle cx="304.2" cy="345.5" r="1.3"/><circle cx="302.2" cy="340.1" r="1.3"/><circle cx="320.5" cy="339.9" r="1.3"/><circle cx="305.4" cy="324.0" r="1.3"/><circle cx="288.5" cy="352.1" r="1.3"/><circle cx="318.3" cy="331.6" r="1.3"/><circle cx="295.5" cy="354.3" r="1.3"/><circle cx="301.5" cy="333.3" r="1.3"/><circle cx="304.6" cy="327.7" r="1.3"/><circle cx="290.3" cy="340.1" r="1.3"/><circle cx="291.8" cy="345.2" r="1.3"/><circle cx="309.9" cy="313.9" r="1.3"/><circle cx="307.6" cy="322.0" r="1.3"/><circle cx="314.9" cy="325.4" r="1.3"/><circle cx="293.4" cy="346.6" r="1.3"/><circle cx="293.4" cy="330.9" r="1.3"/><circle cx="289.1" cy="350.4" r="1.3"/><circle cx="335.6" cy="308.2" r="1.3"/><circle cx="289.9" cy="349.5" r="1.3"/><circle cx="295.3" cy="363.6" r="1.3"/><circle cx="304.5" cy="322.8" r="1.3"/><circle cx="297.6" cy="347.0" r="1.3"/><circle cx="318.0" cy="322.1" r="1.3"/><circle cx="296.0" cy="342.9" r="1.3"/><circle cx="299.3" cy="359.8" r="1.3"/><circle cx="305.0" cy="330.7" r="1.3"/><circle cx="315.9" cy="350.5" r="1.3"/><circle cx="289.3" cy="357.0" r="1.3"/><circle cx="301.2" cy="367.4" r="1.3"/><circle cx="314.1" cy="338.6" r="1.3"/><circle cx="294.2" cy="359.7" r="1.3"/><circle cx="295.7" cy="353.9" r="1.3"/><circle cx="295.7" cy="353.1" r="1.3"/><circle cx="293.2" cy="356.3" r="1.3"/><circle cx="308.2" cy="324.1" r="1.3"/><circle cx="297.0" cy="353.8" r="1.3"/><circle cx="292.3" cy="321.8" r="1.3"/><circle cx="304.5" cy="352.4" r="1.3"/><circle cx="298.7" cy="350.7" r="1.3"/><circle cx="296.0" cy="353.1" r="1.3"/><circle cx="291.2" cy="351.8" r="1.3"/><circle cx="303.8" cy="360.8" r="1.3"/><circle cx="299.2" cy="356.4" r="1.3"/><circle cx="300.8" cy="329.3" r="1.3"/><circle cx="299.0" cy="355.8" r="1.3"/><circle cx="302.9" cy="336.8" r="1.3"/><circle cx="296.8" cy="337.9" r="1.3"/><circle cx="299.8" cy="346.3" r="1.3"/><circle cx="292.9" cy="351.0" r="1.3"/><circle cx="299.0" cy="348.5" r="1.3"/><circle cx="295.3" cy="331.2" r="1.3"/><circle cx="305.6" cy="348.6" r="1.3"/><circle cx="305.2" cy="352.2" r="1.3"/><circle cx="289.9" cy="305.5" r="1.3"/><circle cx="310.4" cy="343.9" r="1.3"/><circle cx="307.8" cy="289.5" r="1.3"/><circle cx="293.8" cy="305.5" r="1.3"/><circle cx="294.2" cy="324.7" r="1.3"/><circle cx="292.1" cy="354.4" r="1.3"/><circle cx="301.8" cy="354.7" r="1.3"/><circle cx="292.7" cy="345.8" r="1.3"/><circle cx="315.8" cy="346.5" r="1.3"/><circle cx="304.9" cy="350.1" r="1.3"/><circle cx="302.7" cy="329.7" r="1.3"/><circle cx="311.9" cy="347.6" r="1.3"/><circle cx="305.3" cy="340.5" r="1.3"/><circle cx="290.3" cy="350.6" r="1.3"/><circle cx="300.6" cy="352.4" r="1.3"/><circle cx="304.6" cy="359.7" r="1.3"/><circle cx="300.8" cy="350.6" r="1.3"/><circle cx="297.8" cy="352.7" r="1.3"/><circle cx="301.5" cy="355.0" r="1.3"/><circle cx="287.8" cy="347.9" r="1.3"/><circle cx="309.4" cy="355.9" r="1.3"/><circle cx="295.1" cy="339.2" r="1.3"/><circle cx="299.2" cy="339.8" r="1.3"/><circle cx="315.0" cy="318.2" r="1.3"/><circle cx="293.0" cy="354.5" r="1.3"/><circle cx="302.6" cy="305.4" r="1.3"/><circle cx="297.1" cy="354.4" r="1.3"/><circle cx="304.3" cy="335.5" r="1.3"/><circle cx="291.2" cy="356.5" r="1.3"/><circle cx="297.1" cy="342.7" r="1.3"/><circle cx="322.6" cy="331.0" r="1.3"/><circle cx="306.3" cy="325.5" r="1.3"/><circle cx="291.6" cy="350.9" r="1.3"/><circle cx="298.9" cy="344.0" r="1.3"/><circle cx="323.8" cy="291.5" r="1.3"/><circle cx="289.3" cy="348.0" r="1.3"/><circle cx="308.8" cy="343.6" r="1.3"/><circle cx="317.6" cy="339.5" r="1.3"/><circle cx="294.1" cy="353.3" r="1.3"/><circle cx="292.1" cy="321.0" r="1.3"/><circle cx="307.7" cy="339.6" r="1.3"/><circle cx="292.0" cy="346.5" r="1.3"/><circle cx="302.6" cy="295.4" r="1.3"/><circle cx="294.2" cy="354.7" r="1.3"/><circle cx="300.1" cy="352.0" r="1.3"/><circle cx="297.5" cy="357.5" r="1.3"/><circle cx="295.5" cy="361.1" r="1.3"/><circle cx="299.5" cy="352.3" r="1.3"/><circle cx="297.2" cy="349.6" r="1.3"/><circle cx="302.0" cy="350.1" r="1.3"/><circle cx="295.7" cy="315.8" r="1.3"/><circle cx="303.5" cy="345.2" r="1.3"/><circle cx="298.6" cy="322.6" r="1.3"/><circle cx="301.9" cy="334.9" r="1.3"/><circle cx="307.4" cy="329.8" r="1.3"/><circle cx="317.9" cy="305.6" r="1.3"/><circle cx="289.4" cy="343.9" r="1.3"/><circle cx="299.2" cy="344.0" r="1.3"/><circle cx="290.6" cy="339.8" r="1.3"/><circle cx="291.6" cy="356.2" r="1.3"/><circle cx="303.5" cy="345.7" r="1.3"/><circle cx="296.0" cy="348.9" r="1.3"/><circle cx="303.5" cy="341.0" r="1.3"/><circle cx="298.4" cy="350.5" r="1.3"/><circle cx="300.2" cy="338.5" r="1.3"/><circle cx="291.4" cy="349.6" r="1.3"/><circle cx="305.0" cy="330.8" r="1.3"/><circle cx="307.9" cy="338.2" r="1.3"/><circle cx="288.3" cy="331.5" r="1.3"/><circle cx="300.7" cy="349.0" r="1.3"/><circle cx="289.6" cy="355.5" r="1.3"/><circle cx="297.2" cy="355.7" r="1.3"/><circle cx="298.9" cy="344.1" r="1.3"/><circle cx="303.7" cy="352.3" r="1.3"/><circle cx="290.7" cy="335.6" r="1.3"/><circle cx="326.4" cy="314.6" r="1.3"/><circle cx="310.6" cy="342.2" r="1.3"/><circle cx="302.4" cy="356.4" r="1.3"/><circle cx="298.9" cy="359.5" r="1.3"/><circle cx="304.5" cy="344.1" r="1.3"/><circle cx="311.5" cy="326.8" r="1.3"/><circle cx="287.9" cy="348.5" r="1.3"/><circle cx="308.5" cy="346.1" r="1.3"/><circle cx="296.9" cy="333.8" r="1.3"/><circle cx="293.6" cy="351.4" r="1.3"/><circle cx="292.8" cy="359.2" r="1.3"/><circle cx="296.7" cy="335.7" r="1.3"/><circle cx="320.4" cy="355.9" r="1.3"/><circle cx="301.2" cy="344.8" r="1.3"/><circle cx="301.0" cy="355.4" r="1.3"/><circle cx="293.3" cy="338.0" r="1.3"/><circle cx="294.1" cy="361.3" r="1.3"/><circle cx="309.1" cy="353.7" r="1.3"/><circle cx="308.8" cy="354.3" r="1.3"/><circle cx="291.4" cy="352.6" r="1.3"/><circle cx="296.4" cy="348.6" r="1.3"/><circle cx="303.3" cy="334.8" r="1.3"/><circle cx="299.2" cy="349.7" r="1.3"/><circle cx="302.8" cy="343.8" r="1.3"/><circle cx="317.7" cy="302.7" r="1.3"/><circle cx="299.3" cy="359.0" r="1.3"/><circle cx="311.4" cy="302.6" r="1.3"/><circle cx="293.3" cy="348.6" r="1.3"/><circle cx="297.3" cy="359.0" r="1.3"/><circle cx="312.7" cy="354.9" r="1.3"/><circle cx="289.1" cy="349.8" r="1.3"/><circle cx="307.8" cy="322.1" r="1.3"/><circle cx="297.1" cy="337.7" r="1.3"/><circle cx="296.8" cy="344.7" r="1.3"/><circle cx="294.7" cy="346.9" r="1.3"/><circle cx="298.3" cy="312.1" r="1.3"/><circle cx="296.8" cy="343.5" r="1.3"/><circle cx="302.9" cy="332.0" r="1.3"/><circle cx="290.1" cy="348.5" r="1.3"/><circle cx="296.6" cy="356.6" r="1.3"/><circle cx="303.7" cy="356.9" r="1.3"/><circle cx="301.2" cy="353.5" r="1.3"/><circle cx="288.3" cy="350.1" r="1.3"/><circle cx="293.2" cy="358.7" r="1.3"/><circle cx="296.1" cy="352.8" r="1.3"/><circle cx="298.5" cy="341.8" r="1.3"/><circle cx="304.8" cy="289.9" r="1.3"/><circle cx="296.7" cy="352.1" r="1.3"/><circle cx="309.7" cy="357.3" r="1.3"/><circle cx="294.8" cy="341.5" r="1.3"/><circle cx="302.1" cy="358.5" r="1.3"/><circle cx="296.5" cy="351.6" r="1.3"/><circle cx="294.0" cy="345.2" r="1.3"/><circle cx="309.4" cy="350.1" r="1.3"/><circle cx="294.1" cy="354.9" r="1.3"/><circle cx="289.7" cy="360.1" r="1.3"/><circle cx="292.9" cy="350.2" r="1.3"/><circle cx="307.7" cy="356.7" r="1.3"/><circle cx="291.6" cy="344.8" r="1.3"/><circle cx="296.4" cy="347.5" r="1.3"/><circle cx="300.6" cy="349.4" r="1.3"/><circle cx="308.4" cy="345.2" r="1.3"/><circle cx="292.6" cy="331.9" r="1.3"/><circle cx="295.1" cy="339.5" r="1.3"/><circle cx="301.7" cy="333.9" r="1.3"/><circle cx="304.3" cy="332.4" r="1.3"/><circle cx="294.9" cy="353.9" r="1.3"/><circle cx="306.4" cy="297.8" r="1.3"/><circle cx="295.5" cy="349.4" r="1.3"/><circle cx="320.1" cy="319.6" r="1.3"/><circle cx="290.1" cy="339.3" r="1.3"/><circle cx="309.9" cy="356.2" r="1.3"/><circle cx="317.6" cy="296.4" r="1.3"/><circle cx="302.5" cy="346.7" r="1.3"/><circle cx="304.2" cy="333.1" r="1.3"/><circle cx="298.9" cy="324.8" r="1.3"/><circle cx="289.1" cy="359.7" r="1.3"/><circle cx="300.0" cy="357.5" r="1.3"/><circle cx="295.6" cy="356.4" r="1.3"/><circle cx="302.0" cy="355.9" r="1.3"/><circle cx="300.0" cy="352.9" r="1.3"/><circle cx="303.3" cy="350.9" r="1.3"/><circle cx="295.0" cy="354.5" r="1.3"/><circle cx="305.9" cy="352.9" r="1.3"/><circle cx="311.5" cy="298.3" r="1.3"/><circle cx="303.4" cy="360.8" r="1.3"/><circle cx="296.4" cy="349.4" r="1.3"/><circle cx="294.4" cy="333.3" r="1.3"/><circle cx="292.3" cy="346.4" r="1.3"/><circle cx="298.4" cy="348.7" r="1.3"/><circle cx="298.2" cy="352.4" r="1.3"/><circle cx="288.2" cy="351.9" r="1.3"/><circle cx="293.8" cy="353.6" r="1.3"/><circle cx="295.5" cy="353.6" r="1.3"/><circle cx="344.8" cy="306.1" r="1.3"/><circle cx="311.6" cy="336.4" r="1.3"/><circle cx="289.2" cy="347.2" r="1.3"/><circle cx="301.3" cy="356.0" r="1.3"/><circle cx="324.1" cy="331.3" r="1.3"/><circle cx="302.7" cy="349.5" r="1.3"/><circle cx="303.2" cy="349.4" r="1.3"/><circle cx="290.4" cy="358.2" r="1.3"/><circle cx="308.0" cy="351.6" r="1.3"/><circle cx="308.9" cy="354.8" r="1.3"/><circle cx="299.3" cy="358.0" r="1.3"/><circle cx="292.6" cy="356.5" r="1.3"/><circle cx="297.5" cy="312.2" r="1.3"/><circle cx="324.4" cy="323.5" r="1.3"/><circle cx="299.0" cy="350.8" r="1.3"/><circle cx="299.3" cy="329.8" r="1.3"/><circle cx="307.4" cy="350.6" r="1.3"/><circle cx="291.9" cy="352.3" r="1.3"/><circle cx="293.6" cy="351.4" r="1.3"/><circle cx="288.4" cy="353.6" r="1.3"/><circle cx="316.7" cy="322.4" r="1.3"/><circle cx="306.2" cy="351.6" r="1.3"/><circle cx="289.3" cy="343.2" r="1.3"/><circle cx="300.0" cy="354.3" r="1.3"/><circle cx="308.9" cy="354.2" r="1.3"/><circle cx="307.1" cy="352.3" r="1.3"/><circle cx="300.1" cy="334.6" r="1.3"/><circle cx="295.2" cy="302.9" r="1.3"/><circle cx="301.4" cy="340.1" r="1.3"/><circle cx="291.5" cy="350.7" r="1.3"/><circle cx="294.8" cy="349.9" r="1.3"/><circle cx="298.3" cy="338.9" r="1.3"/><circle cx="288.6" cy="351.5" r="1.3"/><circle cx="308.2" cy="334.6" r="1.3"/><circle cx="293.6" cy="344.2" r="1.3"/><circle cx="293.2" cy="353.7" r="1.3"/><circle cx="298.0" cy="354.0" r="1.3"/><circle cx="319.7" cy="332.0" r="1.3"/><circle cx="296.3" cy="356.3" r="1.3"/><circle cx="309.4" cy="351.4" r="1.3"/><circle cx="299.0" cy="354.7" r="1.3"/><circle cx="298.9" cy="335.4" r="1.3"/><circle cx="287.9" cy="353.3" r="1.3"/><circle cx="321.0" cy="318.3" r="1.3"/><circle cx="304.2" cy="330.2" r="1.3"/><circle cx="301.8" cy="352.6" r="1.3"/><circle cx="307.8" cy="340.5" r="1.3"/><circle cx="289.1" cy="349.2" r="1.3"/><circle cx="292.9" cy="306.7" r="1.3"/><circle cx="298.4" cy="356.4" r="1.3"/><circle cx="294.9" cy="346.5" r="1.3"/><circle cx="297.2" cy="343.4" r="1.3"/><circle cx="307.6" cy="340.9" r="1.3"/><circle cx="311.8" cy="330.1" r="1.3"/><circle cx="291.9" cy="354.6" r="1.3"/><circle cx="304.5" cy="329.9" r="1.3"/><circle cx="293.2" cy="355.5" r="1.3"/><circle cx="300.1" cy="322.2" r="1.3"/><circle cx="298.2" cy="339.6" r="1.3"/><circle cx="307.4" cy="352.1" r="1.3"/><circle cx="293.4" cy="345.5" r="1.3"/><circle cx="306.2" cy="355.0" r="1.3"/><circle cx="302.9" cy="336.2" r="1.3"/><circle cx="295.1" cy="356.0" r="1.3"/><circle cx="296.0" cy="356.8" r="1.3"/><circle cx="303.6" cy="324.1" r="1.3"/><circle cx="305.4" cy="356.5" r="1.3"/><circle cx="303.9" cy="345.0" r="1.3"/><circle cx="320.8" cy="331.9" r="1.3"/><circle cx="298.7" cy="325.6" r="1.3"/><circle cx="312.3" cy="333.2" r="1.3"/><circle cx="304.8" cy="292.0" r="1.3"/><circle cx="288.6" cy="355.3" r="1.3"/><circle cx="294.1" cy="340.3" r="1.3"/><circle cx="296.1" cy="348.6" r="1.3"/><circle cx="306.0" cy="341.4" r="1.3"/><circle cx="298.5" cy="358.2" r="1.3"/><circle cx="299.9" cy="351.6" r="1.3"/><circle cx="312.5" cy="351.8" r="1.3"/><circle cx="299.2" cy="352.8" r="1.3"/><circle cx="305.7" cy="353.9" r="1.3"/></g>
<polyline points="286.00,352.70 360.70,318.20" fill="none" stroke="#e05a12" stroke-width="1.35" />
<line x1="286.00" y1="283.00" x2="286.00" y2="369.60" stroke="#808080" stroke-width="0.7" />
<line x1="286.00" y1="369.60" x2="361.20" y2="369.60" stroke="#808080" stroke-width="0.7" />
<line x1="286.50" y1="369.60" x2="286.50" y2="368.60" stroke="#808080" stroke-width="0.5" />
<text x="286.50" y="378.60" font-size="6.8" fill="#3a3a3a" text-anchor="middle" stroke="#3a3a3a" stroke-width="0.08">0</text>
<line x1="323.70" y1="369.60" x2="323.70" y2="368.60" stroke="#808080" stroke-width="0.5" />
<text x="323.70" y="378.60" font-size="6.8" fill="#3a3a3a" text-anchor="middle" stroke="#3a3a3a" stroke-width="0.08">0.1</text>
<line x1="360.50" y1="369.60" x2="360.50" y2="368.60" stroke="#808080" stroke-width="0.5" />
<text x="360.50" y="378.60" font-size="6.8" fill="#3a3a3a" text-anchor="middle" stroke="#3a3a3a" stroke-width="0.08">0.2</text>
<line x1="286.00" y1="283.00" x2="287.00" y2="283.00" stroke="#808080" stroke-width="0.5" />
<line x1="286.00" y1="312.20" x2="287.00" y2="312.20" stroke="#808080" stroke-width="0.5" />
<line x1="286.00" y1="340.90" x2="287.00" y2="340.90" stroke="#808080" stroke-width="0.5" />
<line x1="286.00" y1="369.60" x2="287.00" y2="369.60" stroke="#808080" stroke-width="0.5" />
<text x="308.30" y="387.40" font-size="7.2" fill="#3a3a3a" textLength="41.40" lengthAdjust="spacingAndGlyphs" stroke="#3a3a3a" stroke-width="0.08">Amplitude of</text>
<text x="302.10" y="396.30" font-size="7.2" fill="#3a3a3a" textLength="55.20" lengthAdjust="spacingAndGlyphs" stroke="#3a3a3a" stroke-width="0.08">long ERK waves</text>
<text x="348.00" y="310.90" font-size="6.8" fill="#222" font-style="italic" textLength="11.30" lengthAdjust="spacingAndGlyphs" stroke="#222" stroke-width="0.08">80th</text>
<text x="348.00" y="322.30" font-size="6.8" fill="#222" font-style="italic" textLength="11.30" lengthAdjust="spacingAndGlyphs" stroke="#222" stroke-width="0.08">50th</text>
<text x="348.00" y="337.70" font-size="6.8" fill="#222" font-style="italic" textLength="11.30" lengthAdjust="spacingAndGlyphs" stroke="#222" stroke-width="0.08">20th</text>
<polygon points="375.50,340.90 450.50,298.90 450.50,330.70 375.50,356.80" fill="#55b358" fill-opacity="0.92"/>
<g fill="#555" fill-opacity="0.075" filter="url(#blr)"><circle cx="381.0" cy="352.6" r="1.3"/><circle cx="379.9" cy="347.5" r="1.3"/><circle cx="393.5" cy="352.8" r="1.3"/><circle cx="396.2" cy="328.3" r="1.3"/><circle cx="397.2" cy="342.8" r="1.3"/><circle cx="379.1" cy="331.5" r="1.3"/><circle cx="378.3" cy="327.6" r="1.3"/><circle cx="389.9" cy="335.4" r="1.3"/><circle cx="387.3" cy="358.1" r="1.3"/><circle cx="385.5" cy="350.0" r="1.3"/><circle cx="392.4" cy="347.2" r="1.3"/><circle cx="379.6" cy="356.0" r="1.3"/><circle cx="387.2" cy="359.6" r="1.3"/><circle cx="384.6" cy="347.8" r="1.3"/><circle cx="391.8" cy="353.4" r="1.3"/><circle cx="384.2" cy="338.2" r="1.3"/><circle cx="383.8" cy="346.7" r="1.3"/><circle cx="395.6" cy="314.8" r="1.3"/><circle cx="397.1" cy="328.3" r="1.3"/><circle cx="390.0" cy="343.5" r="1.3"/><circle cx="385.5" cy="357.6" r="1.3"/><circle cx="394.2" cy="359.3" r="1.3"/><circle cx="393.8" cy="323.2" r="1.3"/><circle cx="387.4" cy="349.5" r="1.3"/><circle cx="379.5" cy="352.1" r="1.3"/><circle cx="406.5" cy="337.4" r="1.3"/><circle cx="395.3" cy="338.8" r="1.3"/><circle cx="380.5" cy="353.0" r="1.3"/><circle cx="394.2" cy="314.5" r="1.3"/><circle cx="380.6" cy="333.8" r="1.3"/><circle cx="382.3" cy="353.7" r="1.3"/><circle cx="382.4" cy="350.4" r="1.3"/><circle cx="383.0" cy="348.1" r="1.3"/><circle cx="395.6" cy="347.3" r="1.3"/><circle cx="383.7" cy="356.4" r="1.3"/><circle cx="401.4" cy="328.9" r="1.3"/><circle cx="380.5" cy="358.3" r="1.3"/><circle cx="379.8" cy="354.6" r="1.3"/><circle cx="379.6" cy="352.8" r="1.3"/><circle cx="380.7" cy="354.3" r="1.3"/><circle cx="382.7" cy="348.8" r="1.3"/><circle cx="393.4" cy="341.9" r="1.3"/><circle cx="382.6" cy="340.5" r="1.3"/><circle cx="403.7" cy="320.0" r="1.3"/><circle cx="383.5" cy="348.0" r="1.3"/><circle cx="384.5" cy="357.1" r="1.3"/><circle cx="380.8" cy="325.3" r="1.3"/><circle cx="382.4" cy="345.1" r="1.3"/><circle cx="391.6" cy="343.4" r="1.3"/><circle cx="388.3" cy="355.0" r="1.3"/><circle cx="389.2" cy="352.7" r="1.3"/><circle cx="397.3" cy="298.9" r="1.3"/><circle cx="379.9" cy="352.6" r="1.3"/><circle cx="385.8" cy="346.7" r="1.3"/><circle cx="388.4" cy="336.2" r="1.3"/><circle cx="381.3" cy="330.7" r="1.3"/><circle cx="386.3" cy="330.1" r="1.3"/><circle cx="392.4" cy="352.5" r="1.3"/><circle cx="387.9" cy="330.6" r="1.3"/><circle cx="395.0" cy="349.0" r="1.3"/><circle cx="392.7" cy="341.1" r="1.3"/><circle cx="391.6" cy="361.3" r="1.3"/><circle cx="377.2" cy="347.0" r="1.3"/><circle cx="381.7" cy="334.3" r="1.3"/><circle cx="391.8" cy="353.6" r="1.3"/><circle cx="387.3" cy="340.4" r="1.3"/><circle cx="384.8" cy="354.1" r="1.3"/><circle cx="381.6" cy="335.9" r="1.3"/><circle cx="390.9" cy="301.1" r="1.3"/><circle cx="384.2" cy="355.2" r="1.3"/><circle cx="380.4" cy="347.2" r="1.3"/><circle cx="384.1" cy="333.0" r="1.3"/><circle cx="394.7" cy="343.5" r="1.3"/><circle cx="389.9" cy="316.0" r="1.3"/><circle cx="386.0" cy="351.7" r="1.3"/><circle cx="386.5" cy="350.3" r="1.3"/><circle cx="384.5" cy="338.9" r="1.3"/><circle cx="399.1" cy="304.9" r="1.3"/><circle cx="382.5" cy="354.3" r="1.3"/><circle cx="390.7" cy="314.0" r="1.3"/><circle cx="377.4" cy="356.3" r="1.3"/><circle cx="382.5" cy="351.3" r="1.3"/><circle cx="404.4" cy="323.4" r="1.3"/><circle cx="381.1" cy="351.6" r="1.3"/><circle cx="381.6" cy="349.1" r="1.3"/><circle cx="390.8" cy="356.9" r="1.3"/><circle cx="400.0" cy="316.1" r="1.3"/><circle cx="387.1" cy="354.0" r="1.3"/><circle cx="386.0" cy="332.6" r="1.3"/><circle cx="383.7" cy="351.5" r="1.3"/><circle cx="418.0" cy="308.5" r="1.3"/><circle cx="379.3" cy="349.7" r="1.3"/><circle cx="390.9" cy="350.6" r="1.3"/><circle cx="393.5" cy="339.8" r="1.3"/><circle cx="395.7" cy="329.9" r="1.3"/><circle cx="380.5" cy="352.9" r="1.3"/><circle cx="394.6" cy="325.0" r="1.3"/><circle cx="382.0" cy="353.5" r="1.3"/><circle cx="388.2" cy="342.4" r="1.3"/><circle cx="394.8" cy="322.3" r="1.3"/><circle cx="400.3" cy="309.0" r="1.3"/><circle cx="390.2" cy="341.7" r="1.3"/><circle cx="386.4" cy="333.4" r="1.3"/><circle cx="397.2" cy="346.7" r="1.3"/><circle cx="394.0" cy="349.5" r="1.3"/><circle cx="383.0" cy="351.6" r="1.3"/><circle cx="381.7" cy="347.5" r="1.3"/><circle cx="384.9" cy="334.6" r="1.3"/><circle cx="393.4" cy="314.1" r="1.3"/><circle cx="377.3" cy="339.8" r="1.3"/><circle cx="393.8" cy="325.0" r="1.3"/><circle cx="392.7" cy="351.6" r="1.3"/><circle cx="384.0" cy="351.2" r="1.3"/><circle cx="382.3" cy="353.6" r="1.3"/><circle cx="383.1" cy="358.0" r="1.3"/><circle cx="387.8" cy="352.3" r="1.3"/><circle cx="387.1" cy="352.8" r="1.3"/><circle cx="402.8" cy="324.7" r="1.3"/><circle cx="383.3" cy="338.7" r="1.3"/><circle cx="383.7" cy="358.7" r="1.3"/><circle cx="381.4" cy="345.8" r="1.3"/><circle cx="402.0" cy="316.9" r="1.3"/><circle cx="385.0" cy="355.5" r="1.3"/><circle cx="382.4" cy="332.0" r="1.3"/><circle cx="390.0" cy="334.6" r="1.3"/><circle cx="387.0" cy="332.8" r="1.3"/><circle cx="393.1" cy="318.4" r="1.3"/><circle cx="397.5" cy="330.5" r="1.3"/><circle cx="385.5" cy="357.0" r="1.3"/><circle cx="388.8" cy="314.4" r="1.3"/><circle cx="382.2" cy="344.8" r="1.3"/><circle cx="384.7" cy="285.9" r="1.3"/><circle cx="386.9" cy="352.2" r="1.3"/><circle cx="388.7" cy="352.0" r="1.3"/><circle cx="391.3" cy="354.5" r="1.3"/><circle cx="392.9" cy="334.4" r="1.3"/><circle cx="383.7" cy="346.0" r="1.3"/><circle cx="380.0" cy="355.2" r="1.3"/><circle cx="391.8" cy="318.4" r="1.3"/><circle cx="387.6" cy="348.1" r="1.3"/><circle cx="387.7" cy="343.7" r="1.3"/><circle cx="381.6" cy="353.1" r="1.3"/><circle cx="382.4" cy="347.5" r="1.3"/><circle cx="392.3" cy="353.1" r="1.3"/><circle cx="410.5" cy="313.4" r="1.3"/><circle cx="387.1" cy="340.9" r="1.3"/><circle cx="399.9" cy="350.9" r="1.3"/><circle cx="404.3" cy="342.7" r="1.3"/><circle cx="385.0" cy="349.1" r="1.3"/><circle cx="387.5" cy="354.7" r="1.3"/><circle cx="385.0" cy="339.3" r="1.3"/><circle cx="382.0" cy="340.9" r="1.3"/><circle cx="379.4" cy="355.9" r="1.3"/><circle cx="386.7" cy="337.0" r="1.3"/><circle cx="378.0" cy="357.4" r="1.3"/><circle cx="386.4" cy="346.4" r="1.3"/><circle cx="394.0" cy="350.1" r="1.3"/><circle cx="388.3" cy="323.9" r="1.3"/><circle cx="396.0" cy="340.1" r="1.3"/><circle cx="395.8" cy="328.0" r="1.3"/><circle cx="393.2" cy="340.5" r="1.3"/><circle cx="390.6" cy="356.3" r="1.3"/><circle cx="381.1" cy="356.0" r="1.3"/><circle cx="389.9" cy="344.9" r="1.3"/><circle cx="384.5" cy="338.7" r="1.3"/><circle cx="387.8" cy="347.0" r="1.3"/><circle cx="385.9" cy="351.6" r="1.3"/><circle cx="384.1" cy="351.6" r="1.3"/><circle cx="390.8" cy="302.8" r="1.3"/><circle cx="385.9" cy="348.3" r="1.3"/><circle cx="399.0" cy="304.7" r="1.3"/><circle cx="392.6" cy="351.0" r="1.3"/><circle cx="385.3" cy="352.7" r="1.3"/><circle cx="377.4" cy="355.2" r="1.3"/><circle cx="387.3" cy="338.7" r="1.3"/><circle cx="397.9" cy="308.5" r="1.3"/><circle cx="383.1" cy="358.7" r="1.3"/><circle cx="390.8" cy="327.4" r="1.3"/><circle cx="384.5" cy="351.5" r="1.3"/><circle cx="386.4" cy="343.1" r="1.3"/><circle cx="381.3" cy="352.6" r="1.3"/><circle cx="390.9" cy="332.3" r="1.3"/><circle cx="383.6" cy="356.5" r="1.3"/><circle cx="401.5" cy="323.5" r="1.3"/><circle cx="381.6" cy="342.8" r="1.3"/><circle cx="377.5" cy="339.1" r="1.3"/><circle cx="389.0" cy="354.0" r="1.3"/><circle cx="381.8" cy="359.3" r="1.3"/><circle cx="405.4" cy="330.5" r="1.3"/><circle cx="389.3" cy="355.1" r="1.3"/><circle cx="377.6" cy="339.5" r="1.3"/><circle cx="388.0" cy="339.6" r="1.3"/><circle cx="395.0" cy="324.0" r="1.3"/><circle cx="389.4" cy="337.1" r="1.3"/><circle cx="392.3" cy="325.2" r="1.3"/><circle cx="380.9" cy="352.7" r="1.3"/><circle cx="398.5" cy="347.1" r="1.3"/><circle cx="389.4" cy="358.7" r="1.3"/><circle cx="403.7" cy="343.6" r="1.3"/><circle cx="394.6" cy="356.9" r="1.3"/><circle cx="398.9" cy="332.1" r="1.3"/><circle cx="415.8" cy="309.1" r="1.3"/><circle cx="398.3" cy="324.6" r="1.3"/><circle cx="396.7" cy="329.8" r="1.3"/><circle cx="393.3" cy="336.1" r="1.3"/><circle cx="409.1" cy="307.4" r="1.3"/><circle cx="381.3" cy="356.6" r="1.3"/><circle cx="381.8" cy="362.5" r="1.3"/><circle cx="384.3" cy="296.2" r="1.3"/><circle cx="379.4" cy="345.8" r="1.3"/><circle cx="377.4" cy="349.3" r="1.3"/><circle cx="382.6" cy="355.7" r="1.3"/><circle cx="384.6" cy="361.4" r="1.3"/><circle cx="386.1" cy="335.4" r="1.3"/><circle cx="384.6" cy="350.3" r="1.3"/><circle cx="386.4" cy="328.6" r="1.3"/><circle cx="398.1" cy="321.5" r="1.3"/><circle cx="387.4" cy="349.7" r="1.3"/><circle cx="398.0" cy="287.9" r="1.3"/><circle cx="388.4" cy="347.1" r="1.3"/><circle cx="400.8" cy="334.9" r="1.3"/><circle cx="394.7" cy="357.1" r="1.3"/><circle cx="395.1" cy="346.7" r="1.3"/><circle cx="386.2" cy="346.5" r="1.3"/><circle cx="393.0" cy="348.9" r="1.3"/><circle cx="383.5" cy="354.8" r="1.3"/><circle cx="390.4" cy="288.9" r="1.3"/><circle cx="386.3" cy="349.2" r="1.3"/><circle cx="393.1" cy="344.1" r="1.3"/><circle cx="388.6" cy="344.5" r="1.3"/><circle cx="380.6" cy="355.7" r="1.3"/><circle cx="388.8" cy="358.4" r="1.3"/><circle cx="385.2" cy="353.3" r="1.3"/><circle cx="382.5" cy="359.4" r="1.3"/><circle cx="390.0" cy="351.7" r="1.3"/><circle cx="393.3" cy="345.5" r="1.3"/><circle cx="389.4" cy="329.4" r="1.3"/><circle cx="392.4" cy="316.5" r="1.3"/><circle cx="386.5" cy="344.5" r="1.3"/><circle cx="400.7" cy="327.2" r="1.3"/><circle cx="388.8" cy="320.3" r="1.3"/><circle cx="387.7" cy="346.3" r="1.3"/><circle cx="379.0" cy="321.3" r="1.3"/><circle cx="377.3" cy="354.3" r="1.3"/><circle cx="398.7" cy="317.2" r="1.3"/><circle cx="383.1" cy="329.8" r="1.3"/><circle cx="416.8" cy="305.0" r="1.3"/><circle cx="384.8" cy="359.4" r="1.3"/><circle cx="384.6" cy="353.7" r="1.3"/><circle cx="385.1" cy="328.3" r="1.3"/><circle cx="401.6" cy="326.7" r="1.3"/><circle cx="382.5" cy="355.8" r="1.3"/><circle cx="384.7" cy="351.5" r="1.3"/><circle cx="391.0" cy="313.4" r="1.3"/><circle cx="378.7" cy="356.3" r="1.3"/><circle cx="389.4" cy="335.2" r="1.3"/><circle cx="390.3" cy="325.4" r="1.3"/><circle cx="384.6" cy="319.8" r="1.3"/><circle cx="394.3" cy="334.0" r="1.3"/><circle cx="393.2" cy="346.8" r="1.3"/><circle cx="386.1" cy="337.4" r="1.3"/><circle cx="383.9" cy="360.2" r="1.3"/><circle cx="382.1" cy="357.0" r="1.3"/><circle cx="383.4" cy="357.7" r="1.3"/><circle cx="392.2" cy="313.7" r="1.3"/><circle cx="385.8" cy="348.8" r="1.3"/><circle cx="387.5" cy="333.2" r="1.3"/><circle cx="382.4" cy="359.1" r="1.3"/><circle cx="391.7" cy="340.1" r="1.3"/><circle cx="398.1" cy="337.3" r="1.3"/><circle cx="382.6" cy="352.3" r="1.3"/><circle cx="389.1" cy="342.8" r="1.3"/><circle cx="382.1" cy="336.0" r="1.3"/><circle cx="383.2" cy="355.2" r="1.3"/><circle cx="392.3" cy="332.0" r="1.3"/><circle cx="380.6" cy="344.8" r="1.3"/><circle cx="380.2" cy="357.5" r="1.3"/><circle cx="389.5" cy="340.7" r="1.3"/><circle cx="380.7" cy="345.0" r="1.3"/><circle cx="382.1" cy="353.9" r="1.3"/><circle cx="384.2" cy="347.0" r="1.3"/><circle cx="385.9" cy="354.4" r="1.3"/><circle cx="396.6" cy="327.6" r="1.3"/><circle cx="382.8" cy="342.2" r="1.3"/><circle cx="396.7" cy="349.4" r="1.3"/><circle cx="383.2" cy="348.0" r="1.3"/><circle cx="392.7" cy="355.4" r="1.3"/><circle cx="383.0" cy="356.7" r="1.3"/><circle cx="382.7" cy="353.3" r="1.3"/><circle cx="378.3" cy="336.1" r="1.3"/><circle cx="382.0" cy="347.8" r="1.3"/><circle cx="392.7" cy="337.5" r="1.3"/><circle cx="389.8" cy="334.9" r="1.3"/><circle cx="377.9" cy="355.9" r="1.3"/><circle cx="387.9" cy="337.6" r="1.3"/><circle cx="388.7" cy="326.0" r="1.3"/><circle cx="381.5" cy="321.1" r="1.3"/><circle cx="386.5" cy="344.9" r="1.3"/><circle cx="379.4" cy="336.0" r="1.3"/><circle cx="398.8" cy="329.2" r="1.3"/><circle cx="395.6" cy="316.7" r="1.3"/><circle cx="386.1" cy="347.0" r="1.3"/><circle cx="387.8" cy="356.6" r="1.3"/><circle cx="390.5" cy="338.9" r="1.3"/><circle cx="393.0" cy="346.0" r="1.3"/><circle cx="403.9" cy="312.6" r="1.3"/><circle cx="382.8" cy="350.1" r="1.3"/><circle cx="386.7" cy="359.5" r="1.3"/><circle cx="388.3" cy="345.9" r="1.3"/><circle cx="389.3" cy="339.1" r="1.3"/><circle cx="388.1" cy="349.4" r="1.3"/><circle cx="385.3" cy="349.6" r="1.3"/><circle cx="401.3" cy="297.7" r="1.3"/><circle cx="390.7" cy="341.9" r="1.3"/><circle cx="379.9" cy="344.9" r="1.3"/><circle cx="385.4" cy="347.3" r="1.3"/><circle cx="394.9" cy="293.9" r="1.3"/><circle cx="392.1" cy="305.4" r="1.3"/><circle cx="387.2" cy="352.8" r="1.3"/><circle cx="398.4" cy="333.7" r="1.3"/><circle cx="377.7" cy="349.2" r="1.3"/><circle cx="380.2" cy="341.4" r="1.3"/><circle cx="383.2" cy="358.3" r="1.3"/><circle cx="378.8" cy="338.5" r="1.3"/><circle cx="391.2" cy="358.9" r="1.3"/><circle cx="394.3" cy="337.5" r="1.3"/><circle cx="383.2" cy="349.9" r="1.3"/><circle cx="384.3" cy="303.0" r="1.3"/><circle cx="380.4" cy="355.5" r="1.3"/><circle cx="381.4" cy="355.8" r="1.3"/><circle cx="407.0" cy="346.0" r="1.3"/><circle cx="399.8" cy="326.6" r="1.3"/><circle cx="403.7" cy="337.5" r="1.3"/><circle cx="405.3" cy="302.6" r="1.3"/><circle cx="393.0" cy="312.1" r="1.3"/><circle cx="398.8" cy="330.3" r="1.3"/><circle cx="386.5" cy="349.1" r="1.3"/><circle cx="397.5" cy="339.5" r="1.3"/><circle cx="402.8" cy="341.5" r="1.3"/><circle cx="387.9" cy="323.5" r="1.3"/><circle cx="377.6" cy="345.2" r="1.3"/><circle cx="394.3" cy="291.4" r="1.3"/><circle cx="378.3" cy="353.7" r="1.3"/><circle cx="378.4" cy="341.8" r="1.3"/><circle cx="390.0" cy="354.5" r="1.3"/><circle cx="385.9" cy="340.6" r="1.3"/><circle cx="397.9" cy="348.3" r="1.3"/><circle cx="388.0" cy="350.8" r="1.3"/><circle cx="386.1" cy="352.8" r="1.3"/><circle cx="391.4" cy="313.3" r="1.3"/><circle cx="384.4" cy="346.3" r="1.3"/><circle cx="389.4" cy="345.6" r="1.3"/><circle cx="383.1" cy="355.0" r="1.3"/><circle cx="388.6" cy="348.6" r="1.3"/><circle cx="393.8" cy="354.7" r="1.3"/><circle cx="379.9" cy="342.4" r="1.3"/><circle cx="389.3" cy="337.8" r="1.3"/><circle cx="382.2" cy="349.6" r="1.3"/><circle cx="387.3" cy="333.4" r="1.3"/><circle cx="390.3" cy="359.2" r="1.3"/><circle cx="383.8" cy="347.6" r="1.3"/><circle cx="384.9" cy="337.7" r="1.3"/><circle cx="384.5" cy="357.7" r="1.3"/><circle cx="390.8" cy="343.3" r="1.3"/><circle cx="380.9" cy="353.0" r="1.3"/><circle cx="378.7" cy="356.8" r="1.3"/><circle cx="385.2" cy="339.4" r="1.3"/><circle cx="388.2" cy="348.2" r="1.3"/><circle cx="408.5" cy="316.9" r="1.3"/><circle cx="382.3" cy="331.5" r="1.3"/><circle cx="381.3" cy="351.8" r="1.3"/><circle cx="391.3" cy="344.9" r="1.3"/><circle cx="379.4" cy="348.4" r="1.3"/><circle cx="386.9" cy="347.5" r="1.3"/><circle cx="396.4" cy="346.6" r="1.3"/><circle cx="385.5" cy="343.9" r="1.3"/><circle cx="394.3" cy="336.6" r="1.3"/><circle cx="383.9" cy="353.5" r="1.3"/><circle cx="381.9" cy="304.0" r="1.3"/><circle cx="387.4" cy="340.7" r="1.3"/><circle cx="384.7" cy="348.1" r="1.3"/><circle cx="386.4" cy="353.3" r="1.3"/><circle cx="392.2" cy="352.8" r="1.3"/><circle cx="385.1" cy="338.9" r="1.3"/><circle cx="379.6" cy="334.7" r="1.3"/><circle cx="381.5" cy="348.5" r="1.3"/><circle cx="389.0" cy="338.5" r="1.3"/><circle cx="397.4" cy="348.0" r="1.3"/><circle cx="391.4" cy="361.4" r="1.3"/><circle cx="394.8" cy="332.8" r="1.3"/><circle cx="390.3" cy="348.5" r="1.3"/><circle cx="387.5" cy="349.8" r="1.3"/><circle cx="390.8" cy="343.3" r="1.3"/><circle cx="384.3" cy="350.4" r="1.3"/><circle cx="394.6" cy="355.0" r="1.3"/><circle cx="384.8" cy="350.9" r="1.3"/><circle cx="389.5" cy="354.7" r="1.3"/><circle cx="386.9" cy="352.7" r="1.3"/><circle cx="387.5" cy="354.2" r="1.3"/><circle cx="387.6" cy="327.9" r="1.3"/><circle cx="394.2" cy="327.2" r="1.3"/><circle cx="387.2" cy="353.6" r="1.3"/><circle cx="396.0" cy="311.4" r="1.3"/><circle cx="391.3" cy="346.0" r="1.3"/><circle cx="392.3" cy="345.5" r="1.3"/><circle cx="393.5" cy="311.6" r="1.3"/><circle cx="385.2" cy="295.7" r="1.3"/><circle cx="385.3" cy="352.6" r="1.3"/><circle cx="379.1" cy="312.9" r="1.3"/><circle cx="387.9" cy="350.2" r="1.3"/><circle cx="395.0" cy="317.2" r="1.3"/><circle cx="397.3" cy="343.1" r="1.3"/><circle cx="381.5" cy="345.6" r="1.3"/><circle cx="386.5" cy="344.2" r="1.3"/><circle cx="393.4" cy="340.2" r="1.3"/><circle cx="387.4" cy="345.7" r="1.3"/><circle cx="384.1" cy="353.5" r="1.3"/><circle cx="386.2" cy="352.3" r="1.3"/><circle cx="394.0" cy="348.0" r="1.3"/><circle cx="390.2" cy="318.3" r="1.3"/><circle cx="384.3" cy="353.2" r="1.3"/><circle cx="389.8" cy="328.4" r="1.3"/><circle cx="391.8" cy="335.8" r="1.3"/><circle cx="386.1" cy="357.5" r="1.3"/><circle cx="383.9" cy="359.5" r="1.3"/><circle cx="380.2" cy="336.3" r="1.3"/><circle cx="384.9" cy="335.9" r="1.3"/><circle cx="377.9" cy="348.9" r="1.3"/><circle cx="378.3" cy="355.5" r="1.3"/><circle cx="385.1" cy="345.2" r="1.3"/><circle cx="382.6" cy="331.9" r="1.3"/><circle cx="382.1" cy="356.1" r="1.3"/><circle cx="387.5" cy="346.6" r="1.3"/><circle cx="408.4" cy="291.2" r="1.3"/><circle cx="391.4" cy="348.2" r="1.3"/><circle cx="377.2" cy="351.8" r="1.3"/><circle cx="390.4" cy="320.3" r="1.3"/><circle cx="396.1" cy="316.9" r="1.3"/><circle cx="403.3" cy="323.4" r="1.3"/><circle cx="389.2" cy="321.4" r="1.3"/><circle cx="394.6" cy="326.2" r="1.3"/><circle cx="387.4" cy="316.4" r="1.3"/><circle cx="390.9" cy="310.3" r="1.3"/><circle cx="381.9" cy="324.6" r="1.3"/><circle cx="394.6" cy="312.1" r="1.3"/><circle cx="379.6" cy="350.3" r="1.3"/><circle cx="386.8" cy="334.7" r="1.3"/><circle cx="399.6" cy="337.9" r="1.3"/><circle cx="382.7" cy="338.3" r="1.3"/><circle cx="391.0" cy="349.5" r="1.3"/><circle cx="388.8" cy="351.1" r="1.3"/><circle cx="383.4" cy="357.9" r="1.3"/><circle cx="386.4" cy="356.9" r="1.3"/><circle cx="388.9" cy="354.5" r="1.3"/><circle cx="388.3" cy="358.4" r="1.3"/><circle cx="384.0" cy="346.9" r="1.3"/><circle cx="386.5" cy="344.0" r="1.3"/><circle cx="402.0" cy="358.4" r="1.3"/><circle cx="392.9" cy="352.1" r="1.3"/><circle cx="387.3" cy="357.3" r="1.3"/><circle cx="381.3" cy="355.3" r="1.3"/><circle cx="386.3" cy="347.7" r="1.3"/><circle cx="387.0" cy="306.8" r="1.3"/><circle cx="381.9" cy="351.7" r="1.3"/><circle cx="414.0" cy="297.0" r="1.3"/><circle cx="386.5" cy="327.2" r="1.3"/><circle cx="386.6" cy="307.8" r="1.3"/><circle cx="392.0" cy="349.4" r="1.3"/><circle cx="380.9" cy="357.7" r="1.3"/><circle cx="381.0" cy="314.6" r="1.3"/><circle cx="399.5" cy="341.2" r="1.3"/><circle cx="401.5" cy="322.4" r="1.3"/><circle cx="383.9" cy="355.4" r="1.3"/><circle cx="381.2" cy="325.3" r="1.3"/><circle cx="392.4" cy="317.4" r="1.3"/><circle cx="388.9" cy="358.3" r="1.3"/><circle cx="393.3" cy="342.0" r="1.3"/><circle cx="384.6" cy="356.1" r="1.3"/><circle cx="383.7" cy="333.2" r="1.3"/><circle cx="385.6" cy="335.7" r="1.3"/><circle cx="386.0" cy="350.4" r="1.3"/><circle cx="406.4" cy="333.5" r="1.3"/><circle cx="388.1" cy="359.4" r="1.3"/><circle cx="384.0" cy="347.1" r="1.3"/><circle cx="391.7" cy="351.3" r="1.3"/><circle cx="385.4" cy="342.1" r="1.3"/><circle cx="391.3" cy="326.1" r="1.3"/><circle cx="387.6" cy="350.9" r="1.3"/><circle cx="382.3" cy="353.9" r="1.3"/><circle cx="384.3" cy="355.0" r="1.3"/><circle cx="383.9" cy="341.1" r="1.3"/><circle cx="381.1" cy="337.7" r="1.3"/><circle cx="387.8" cy="321.2" r="1.3"/><circle cx="392.5" cy="356.1" r="1.3"/><circle cx="390.6" cy="354.0" r="1.3"/><circle cx="385.8" cy="349.5" r="1.3"/><circle cx="383.9" cy="354.2" r="1.3"/><circle cx="398.0" cy="339.7" r="1.3"/><circle cx="396.6" cy="342.8" r="1.3"/><circle cx="377.2" cy="353.4" r="1.3"/><circle cx="387.9" cy="306.3" r="1.3"/><circle cx="384.4" cy="352.8" r="1.3"/><circle cx="377.0" cy="349.5" r="1.3"/><circle cx="400.1" cy="342.2" r="1.3"/><circle cx="395.0" cy="334.3" r="1.3"/><circle cx="387.1" cy="343.2" r="1.3"/><circle cx="385.8" cy="325.5" r="1.3"/><circle cx="386.8" cy="340.0" r="1.3"/><circle cx="391.1" cy="352.0" r="1.3"/><circle cx="396.4" cy="312.6" r="1.3"/><circle cx="402.5" cy="326.1" r="1.3"/><circle cx="390.6" cy="338.6" r="1.3"/><circle cx="391.4" cy="338.7" r="1.3"/><circle cx="386.9" cy="330.6" r="1.3"/><circle cx="387.4" cy="339.4" r="1.3"/><circle cx="398.5" cy="348.5" r="1.3"/><circle cx="399.5" cy="355.6" r="1.3"/><circle cx="380.1" cy="358.6" r="1.3"/><circle cx="380.8" cy="348.9" r="1.3"/><circle cx="391.4" cy="348.3" r="1.3"/><circle cx="399.3" cy="324.2" r="1.3"/><circle cx="389.6" cy="353.5" r="1.3"/><circle cx="379.2" cy="356.3" r="1.3"/><circle cx="381.8" cy="351.6" r="1.3"/><circle cx="380.5" cy="356.9" r="1.3"/><circle cx="388.5" cy="350.3" r="1.3"/><circle cx="384.6" cy="333.9" r="1.3"/><circle cx="388.4" cy="355.8" r="1.3"/><circle cx="392.7" cy="355.4" r="1.3"/><circle cx="389.3" cy="354.3" r="1.3"/><circle cx="393.3" cy="338.1" r="1.3"/><circle cx="386.6" cy="328.3" r="1.3"/><circle cx="377.2" cy="345.6" r="1.3"/><circle cx="381.0" cy="338.0" r="1.3"/><circle cx="382.1" cy="322.1" r="1.3"/><circle cx="389.7" cy="351.3" r="1.3"/><circle cx="381.1" cy="355.5" r="1.3"/><circle cx="389.4" cy="339.9" r="1.3"/><circle cx="386.5" cy="353.6" r="1.3"/><circle cx="387.2" cy="342.1" r="1.3"/><circle cx="383.9" cy="351.4" r="1.3"/><circle cx="389.4" cy="348.9" r="1.3"/><circle cx="388.4" cy="323.1" r="1.3"/><circle cx="397.6" cy="324.0" r="1.3"/><circle cx="393.4" cy="341.8" r="1.3"/><circle cx="388.2" cy="350.3" r="1.3"/><circle cx="380.1" cy="351.2" r="1.3"/><circle cx="382.1" cy="348.7" r="1.3"/><circle cx="379.7" cy="314.8" r="1.3"/><circle cx="397.7" cy="350.6" r="1.3"/><circle cx="393.0" cy="355.7" r="1.3"/><circle cx="378.7" cy="355.2" r="1.3"/><circle cx="381.7" cy="356.5" r="1.3"/><circle cx="392.5" cy="333.1" r="1.3"/><circle cx="380.2" cy="346.8" r="1.3"/><circle cx="398.1" cy="309.8" r="1.3"/><circle cx="385.6" cy="356.3" r="1.3"/><circle cx="380.9" cy="351.1" r="1.3"/><circle cx="388.0" cy="355.8" r="1.3"/><circle cx="398.2" cy="328.0" r="1.3"/><circle cx="383.8" cy="353.8" r="1.3"/><circle cx="393.1" cy="319.8" r="1.3"/><circle cx="380.8" cy="317.0" r="1.3"/><circle cx="387.6" cy="337.6" r="1.3"/><circle cx="377.7" cy="348.2" r="1.3"/><circle cx="389.5" cy="338.8" r="1.3"/><circle cx="423.1" cy="300.0" r="1.3"/><circle cx="392.8" cy="319.2" r="1.3"/><circle cx="392.4" cy="327.9" r="1.3"/><circle cx="387.2" cy="354.0" r="1.3"/><circle cx="381.2" cy="358.3" r="1.3"/><circle cx="387.8" cy="354.4" r="1.3"/><circle cx="399.9" cy="327.6" r="1.3"/><circle cx="395.1" cy="309.1" r="1.3"/><circle cx="388.4" cy="345.2" r="1.3"/><circle cx="415.6" cy="314.0" r="1.3"/><circle cx="388.8" cy="357.0" r="1.3"/><circle cx="396.0" cy="354.1" r="1.3"/><circle cx="388.2" cy="346.5" r="1.3"/><circle cx="399.4" cy="352.6" r="1.3"/><circle cx="398.5" cy="323.0" r="1.3"/><circle cx="388.1" cy="293.1" r="1.3"/><circle cx="382.1" cy="359.3" r="1.3"/><circle cx="391.5" cy="337.4" r="1.3"/><circle cx="387.6" cy="355.0" r="1.3"/><circle cx="392.9" cy="331.3" r="1.3"/><circle cx="377.2" cy="343.9" r="1.3"/><circle cx="386.0" cy="356.7" r="1.3"/><circle cx="388.0" cy="349.0" r="1.3"/><circle cx="388.1" cy="340.6" r="1.3"/><circle cx="383.2" cy="350.8" r="1.3"/><circle cx="380.7" cy="342.5" r="1.3"/><circle cx="385.6" cy="358.7" r="1.3"/><circle cx="392.0" cy="353.7" r="1.3"/><circle cx="390.9" cy="349.6" r="1.3"/><circle cx="381.7" cy="352.9" r="1.3"/><circle cx="386.6" cy="354.9" r="1.3"/><circle cx="386.4" cy="357.4" r="1.3"/><circle cx="388.9" cy="357.6" r="1.3"/><circle cx="385.3" cy="349.3" r="1.3"/><circle cx="390.2" cy="351.8" r="1.3"/><circle cx="392.0" cy="346.7" r="1.3"/><circle cx="380.3" cy="361.8" r="1.3"/><circle cx="384.3" cy="348.8" r="1.3"/><circle cx="395.5" cy="341.6" r="1.3"/><circle cx="403.2" cy="345.8" r="1.3"/><circle cx="386.2" cy="353.0" r="1.3"/><circle cx="382.7" cy="342.1" r="1.3"/><circle cx="395.9" cy="352.8" r="1.3"/><circle cx="389.8" cy="343.2" r="1.3"/><circle cx="390.3" cy="343.1" r="1.3"/><circle cx="390.3" cy="348.5" r="1.3"/><circle cx="392.6" cy="349.4" r="1.3"/><circle cx="381.7" cy="352.6" r="1.3"/><circle cx="408.7" cy="342.7" r="1.3"/></g>
<polyline points="375.50,352.70 450.50,315.50" fill="none" stroke="#1d5e24" stroke-width="1.35" />
<line x1="375.50" y1="283.00" x2="375.50" y2="369.60" stroke="#808080" stroke-width="0.7" />
<line x1="375.50" y1="369.60" x2="450.90" y2="369.60" stroke="#808080" stroke-width="0.7" />
<line x1="375.50" y1="369.60" x2="375.50" y2="368.60" stroke="#808080" stroke-width="0.5" />
<text x="375.50" y="378.60" font-size="6.8" fill="#3a3a3a" text-anchor="middle" stroke="#3a3a3a" stroke-width="0.08">0</text>
<line x1="400.50" y1="369.60" x2="400.50" y2="368.60" stroke="#808080" stroke-width="0.5" />
<text x="400.50" y="378.60" font-size="6.8" fill="#3a3a3a" text-anchor="middle" stroke="#3a3a3a" stroke-width="0.08">1</text>
<line x1="425.90" y1="369.60" x2="425.90" y2="368.60" stroke="#808080" stroke-width="0.5" />
<text x="425.90" y="378.60" font-size="6.8" fill="#3a3a3a" text-anchor="middle" stroke="#3a3a3a" stroke-width="0.08">2</text>
<line x1="450.90" y1="369.60" x2="450.90" y2="368.60" stroke="#808080" stroke-width="0.5" />
<text x="450.90" y="378.60" font-size="6.8" fill="#3a3a3a" text-anchor="middle" stroke="#3a3a3a" stroke-width="0.08">3</text>
<line x1="375.50" y1="283.00" x2="376.50" y2="283.00" stroke="#808080" stroke-width="0.5" />
<line x1="375.50" y1="312.20" x2="376.50" y2="312.20" stroke="#808080" stroke-width="0.5" />
<line x1="375.50" y1="340.90" x2="376.50" y2="340.90" stroke="#808080" stroke-width="0.5" />
<line x1="375.50" y1="369.60" x2="376.50" y2="369.60" stroke="#808080" stroke-width="0.5" />
<text x="393.00" y="387.40" font-size="7.2" fill="#3a3a3a" textLength="42.00" lengthAdjust="spacingAndGlyphs" stroke="#3a3a3a" stroke-width="0.08">Amplitude of</text>
<text x="395.90" y="396.30" font-size="7.2" fill="#3a3a3a" textLength="38.60" lengthAdjust="spacingAndGlyphs" stroke="#3a3a3a" stroke-width="0.08">aspect ratio</text>
<text x="436.80" y="302.10" font-size="6.8" fill="#222" font-style="italic" textLength="11.30" lengthAdjust="spacingAndGlyphs" stroke="#222" stroke-width="0.08">80th</text>
<text x="436.80" y="318.80" font-size="6.8" fill="#222" font-style="italic" textLength="11.30" lengthAdjust="spacingAndGlyphs" stroke="#222" stroke-width="0.08">50th</text>
<text x="436.80" y="335.30" font-size="6.8" fill="#222" font-style="italic" textLength="11.30" lengthAdjust="spacingAndGlyphs" stroke="#222" stroke-width="0.08">20th</text>
<text x="22.80" y="284.80" font-size="6.6" fill="#444" text-anchor="end" stroke="#444" stroke-width="0.08">1.2</text>
<text x="22.80" y="313.80" font-size="6.6" fill="#444" text-anchor="end" stroke="#444" stroke-width="0.08">0.8</text>
<text x="22.80" y="342.90" font-size="6.6" fill="#444" text-anchor="end" stroke="#444" stroke-width="0.08">0.4</text>
<text x="22.80" y="372.00" font-size="6.6" fill="#444" text-anchor="end" stroke="#444" stroke-width="0.08">0</text>
<text x="0.00" y="0.00" font-size="7" fill="#333" textLength="21.40" lengthAdjust="spacingAndGlyphs" stroke="#333" stroke-width="0.08" transform="translate(11.3 336.7) rotate(-90)">Speed</text>
<text x="5.20" y="419.70" font-size="7.7" fill="#111" font-weight="bold" stroke="#111" stroke-width="0.35">F</text>
<text x="22.60" y="435.40" font-size="7.5" fill="#444" font-weight="bold" textLength="190.70" lengthAdjust="spacingAndGlyphs">Proportion of top migrating cells with high amplitudes</text>
<rect x="43.90" y="440.4" width="27.18" height="26.8" fill="#bab4b0"/>
<text x="57.50" y="456.30" font-size="7" fill="#333" text-anchor="middle" stroke="#333" stroke-width="0.08">0.45</text>
<rect x="71.08" y="440.4" width="27.18" height="26.8" fill="#2b2a28"/>
<text x="84.68" y="456.30" font-size="7" fill="#e8e8e8" text-anchor="middle" stroke="#e8e8e8" stroke-width="0.08">0.56</text>
<rect x="98.26" y="440.4" width="27.18" height="26.8" fill="#fcf3ee"/>
<text x="111.86" y="456.30" font-size="7" fill="#333" text-anchor="middle" stroke="#333" stroke-width="0.08">0.395</text>
<rect x="125.44" y="440.4" width="27.18" height="26.8" fill="#d8d0cc"/>
<text x="139.04" y="456.30" font-size="7" fill="#333" text-anchor="middle" stroke="#333" stroke-width="0.08">0.425</text>
<rect x="152.62" y="440.4" width="27.18" height="26.8" fill="#f8eee9"/>
<text x="166.22" y="456.30" font-size="7" fill="#333" text-anchor="middle" stroke="#333" stroke-width="0.08">0.4</text>
<rect x="43.9" y="440.4" width="135.9" height="26.8" fill="none" stroke="#888" stroke-width="0.5"/>
<line x1="71.08" y1="440.40" x2="71.08" y2="467.20" stroke="#888" stroke-width="0.5" />
<line x1="98.26" y1="440.40" x2="98.26" y2="467.20" stroke="#888" stroke-width="0.5" />
<line x1="125.44" y1="440.40" x2="125.44" y2="467.20" stroke="#888" stroke-width="0.5" />
<line x1="152.62" y1="440.40" x2="152.62" y2="467.20" stroke="#888" stroke-width="0.5" />
<defs><linearGradient id="cb" x1="0" y1="0" x2="0" y2="1"><stop offset="0" stop-color="#111"/><stop offset="0.5" stop-color="#8a8584"/><stop offset="1" stop-color="#fff6f2"/></linearGradient></defs>
<rect x="185.2" y="440.5" width="10.8" height="27.2" fill="url(#cb)" stroke="#999" stroke-width="0.5"/>
<text x="198.10" y="443.80" font-size="6.6" fill="#555" textLength="9.30" lengthAdjust="spacingAndGlyphs" stroke="#555" stroke-width="0.08">0.6</text>
<text x="198.10" y="455.60" font-size="6.6" fill="#555" textLength="9.30" lengthAdjust="spacingAndGlyphs" stroke="#555" stroke-width="0.08">0.5</text>
<text x="198.10" y="467.90" font-size="6.6" fill="#555" textLength="9.30" lengthAdjust="spacingAndGlyphs" stroke="#555" stroke-width="0.08">0.4</text>
<text x="0.00" y="0.00" font-size="7" fill="#4a4a4a" text-anchor="end" textLength="55.70" lengthAdjust="spacingAndGlyphs" stroke="#4a4a4a" stroke-width="0.03" transform="translate(62.50 474.90) rotate(-30.5)">Short Akt waves</text>
<text x="0.00" y="0.00" font-size="7" fill="#4a4a4a" text-anchor="end" textLength="58.50" lengthAdjust="spacingAndGlyphs" stroke="#4a4a4a" stroke-width="0.03" transform="translate(90.08 474.90) rotate(-30.5)">Short ERK waves</text>
<text x="0.00" y="0.00" font-size="7" fill="#4a4a4a" text-anchor="end" textLength="52.80" lengthAdjust="spacingAndGlyphs" stroke="#4a4a4a" stroke-width="0.03" transform="translate(118.16 474.90) rotate(-30.5)">Long Akt waves</text>
<text x="0.00" y="0.00" font-size="7" fill="#4a4a4a" text-anchor="end" textLength="57.20" lengthAdjust="spacingAndGlyphs" stroke="#4a4a4a" stroke-width="0.03" transform="translate(145.34 474.90) rotate(-30.5)">Long ERK waves</text>
<text x="0.00" y="0.00" font-size="7" fill="#4a4a4a" text-anchor="end" textLength="41.50" lengthAdjust="spacingAndGlyphs" stroke="#4a4a4a" stroke-width="0.03" transform="translate(172.52 474.90) rotate(-30.5)">Aspect ratio</text>
<text x="20.90" y="513.20" font-size="7" fill="#111" font-style="italic" textLength="179.50" lengthAdjust="spacingAndGlyphs" stroke="#111" stroke-width="0.12">&gt;75th percentile signaling and morphology amplitudes</text>
<text x="224.50" y="419.60" font-size="7.7" fill="#111" font-weight="bold" stroke="#111" stroke-width="0.35">G</text>
<line x1="253.70" y1="418.50" x2="253.70" y2="526.10" stroke="#808080" stroke-width="0.7" />
<line x1="253.70" y1="526.10" x2="397.60" y2="526.10" stroke="#808080" stroke-width="0.7" />
<text x="250.60" y="420.90" font-size="6.8" fill="#3a3a3a" text-anchor="end" stroke="#3a3a3a" stroke-width="0.08">1</text>
<line x1="253.70" y1="418.50" x2="254.70" y2="418.50" stroke="#808080" stroke-width="0.5" />
<text x="250.60" y="438.80" font-size="6.8" fill="#3a3a3a" text-anchor="end" stroke="#3a3a3a" stroke-width="0.08">0.8</text>
<line x1="253.70" y1="436.40" x2="254.70" y2="436.40" stroke="#808080" stroke-width="0.5" />
<text x="250.60" y="456.70" font-size="6.8" fill="#3a3a3a" text-anchor="end" stroke="#3a3a3a" stroke-width="0.08">0.6</text>
<line x1="253.70" y1="454.30" x2="254.70" y2="454.30" stroke="#808080" stroke-width="0.5" />
<text x="250.60" y="474.60" font-size="6.8" fill="#3a3a3a" text-anchor="end" stroke="#3a3a3a" stroke-width="0.08">0.4</text>
<line x1="253.70" y1="472.20" x2="254.70" y2="472.20" stroke="#808080" stroke-width="0.5" />
<text x="250.60" y="492.50" font-size="6.8" fill="#3a3a3a" text-anchor="end" stroke="#3a3a3a" stroke-width="0.08">0.2</text>
<line x1="253.70" y1="490.10" x2="254.70" y2="490.10" stroke="#808080" stroke-width="0.5" />
<text x="250.60" y="510.40" font-size="6.8" fill="#3a3a3a" text-anchor="end" stroke="#3a3a3a" stroke-width="0.08">0</text>
<line x1="253.70" y1="508.00" x2="254.70" y2="508.00" stroke="#808080" stroke-width="0.5" />
<text x="250.60" y="528.30" font-size="6.8" fill="#3a3a3a" text-anchor="end" stroke="#3a3a3a" stroke-width="0.08">-0.2</text>
<line x1="253.70" y1="525.90" x2="254.70" y2="525.90" stroke="#808080" stroke-width="0.5" />
<text x="253.70" y="535.10" font-size="6.8" fill="#3a3a3a" text-anchor="middle" stroke="#3a3a3a" stroke-width="0.08">0</text>
<line x1="253.70" y1="526.10" x2="253.70" y2="525.10" stroke="#808080" stroke-width="0.5" />
<text x="289.68" y="535.10" font-size="6.8" fill="#3a3a3a" text-anchor="middle" stroke="#3a3a3a" stroke-width="0.08">50</text>
<line x1="289.68" y1="526.10" x2="289.68" y2="525.10" stroke="#808080" stroke-width="0.5" />
<text x="325.65" y="535.10" font-size="6.8" fill="#3a3a3a" text-anchor="middle" stroke="#3a3a3a" stroke-width="0.08">100</text>
<line x1="325.65" y1="526.10" x2="325.65" y2="525.10" stroke="#808080" stroke-width="0.5" />
<text x="361.62" y="535.10" font-size="6.8" fill="#3a3a3a" text-anchor="middle" stroke="#3a3a3a" stroke-width="0.08">150</text>
<line x1="361.62" y1="526.10" x2="361.62" y2="525.10" stroke="#808080" stroke-width="0.5" />
<text x="397.60" y="535.10" font-size="6.8" fill="#3a3a3a" text-anchor="middle" stroke="#3a3a3a" stroke-width="0.08">200</text>
<line x1="397.60" y1="526.10" x2="397.60" y2="525.10" stroke="#808080" stroke-width="0.5" />
<text x="249.90" y="542.80" font-size="7.3" fill="#3a3a3a" textLength="151.40" lengthAdjust="spacingAndGlyphs" stroke="#3a3a3a" stroke-width="0.08">Oscillation period of signaling wave (minutes)</text>
<text x="0.00" y="0.00" font-size="7.8" fill="#3a3a3a" textLength="68.00" lengthAdjust="spacingAndGlyphs" stroke="#3a3a3a" stroke-width="0.08" transform="translate(238.6 500) rotate(-90)">Correlation coefficients</text>
<polygon points="262.33,431.39 273.85,429.42 285.36,429.96 296.87,430.76 308.38,432.64 319.89,430.58 331.41,431.12 342.92,432.01 354.43,430.49 365.94,428.43 377.45,428.26 388.97,427.09 397.60,425.12 397.60,427.63 388.97,429.60 377.45,430.76 365.94,430.94 354.43,433.00 342.92,434.52 331.41,433.63 319.89,433.09 308.38,435.15 296.87,433.27 285.36,432.46 273.85,431.93 262.33,433.89" fill="#a0a0a0" />
<polygon points="262.33,449.65 273.85,448.80 285.36,451.88 296.87,454.87 308.38,464.40 319.89,466.41 331.41,467.97 342.92,477.58 354.43,485.86 365.94,498.87 377.45,499.27 388.97,507.10 397.60,508.72 397.60,521.60 388.97,519.64 377.45,511.36 365.94,510.50 354.43,497.03 342.92,488.30 331.41,478.22 319.89,476.20 308.38,473.74 296.87,463.75 285.36,460.30 273.85,456.76 262.33,457.16" fill="#f8bb8e" />
<polygon points="262.33,455.73 273.85,457.99 285.36,464.64 296.87,464.40 308.38,475.07 319.89,475.81 331.41,476.64 342.92,487.14 354.43,495.40 365.94,503.21 377.45,501.71 388.97,506.84 397.60,507.91 397.60,522.41 388.97,520.97 377.45,515.36 365.94,516.37 354.43,508.07 342.92,499.33 331.41,488.34 319.89,487.02 308.38,485.80 296.87,474.63 285.36,474.39 273.85,467.26 262.33,464.51" fill="#a9cbea" />
<polygon points="262.33,455.73 273.85,457.38 285.36,462.47 296.87,464.07 308.38,474.40 319.89,475.81 331.41,476.64 342.92,487.14 354.43,495.40 365.94,503.21 377.45,501.71 388.97,507.10 397.60,508.72 397.60,521.60 388.97,519.64 377.45,511.36 365.94,510.50 354.43,497.03 342.92,488.30 331.41,478.22 319.89,476.20 308.38,474.40 296.87,464.07 285.36,462.47 273.85,457.38 262.33,457.16" fill="#b9b6b4" />
<polyline points="262.33,432.64 273.85,430.67 285.36,431.21 296.87,432.01 308.38,433.89 319.89,431.84 331.41,432.37 342.92,433.27 354.43,431.75 365.94,429.69 377.45,429.51 388.97,428.35 397.60,426.38" fill="none" stroke="#222" stroke-width="1.6" />
<polyline points="262.33,453.40 273.85,452.78 285.36,456.09 296.87,459.31 308.38,469.07 319.89,471.31 331.41,473.10 342.92,482.94 354.43,491.44 365.94,504.69 377.45,505.31 388.97,513.37 397.60,515.16" fill="none" stroke="#b5391a" stroke-width="1.3" />
<polyline points="262.33,460.12 273.85,462.62 285.36,469.51 296.87,469.51 308.38,480.43 319.89,481.42 331.41,482.49 342.92,493.23 354.43,501.74 365.94,509.79 377.45,508.54 388.97,513.91 397.60,515.16" fill="none" stroke="#1f5bb0" stroke-width="1.4" />
<rect x="355.9" y="438.9" width="96.7" height="44.5" fill="#fff" stroke="#aaa" stroke-width="0.6"/>
<rect x="358.9" y="443.90" width="15.7" height="6.0" fill="#9ec6ea"/>
<line x1="358.90" y1="446.90" x2="374.60" y2="446.90" stroke="#1f5cb0" stroke-width="1.4" />
<text x="376.20" y="446.40" font-size="6.6" fill="#2a2a2a" textLength="69.80" lengthAdjust="spacingAndGlyphs" stroke="#2a2a2a" stroke-width="0.04">Between Akt amplitude</text>
<text x="376.20" y="452.20" font-size="6.6" fill="#2a2a2a" textLength="58.50" lengthAdjust="spacingAndGlyphs" stroke="#2a2a2a" stroke-width="0.04">and migration speed</text>
<rect x="358.9" y="458.30" width="15.7" height="6.0" fill="#f6b88c"/>
<line x1="358.90" y1="461.30" x2="374.60" y2="461.30" stroke="#b23a16" stroke-width="1.4" />
<text x="376.20" y="460.80" font-size="6.6" fill="#2a2a2a" textLength="73.30" lengthAdjust="spacingAndGlyphs" stroke="#2a2a2a" stroke-width="0.04">Between ERK amplitude</text>
<text x="376.20" y="466.60" font-size="6.6" fill="#2a2a2a" textLength="58.50" lengthAdjust="spacingAndGlyphs" stroke="#2a2a2a" stroke-width="0.04">and migration speed</text>
<rect x="358.9" y="472.70" width="15.7" height="6.0" fill="#a0a0a0"/>
<line x1="358.90" y1="475.70" x2="374.60" y2="475.70" stroke="#222" stroke-width="1.4" />
<text x="376.20" y="475.20" font-size="6.6" fill="#2a2a2a" textLength="63.00" lengthAdjust="spacingAndGlyphs" stroke="#2a2a2a" stroke-width="0.04">Between Akt and ERK</text>
<text x="376.20" y="481.00" font-size="6.6" fill="#2a2a2a" textLength="35.00" lengthAdjust="spacingAndGlyphs" stroke="#2a2a2a" stroke-width="0.04">amplitudes</text>
</svg></body></html>
